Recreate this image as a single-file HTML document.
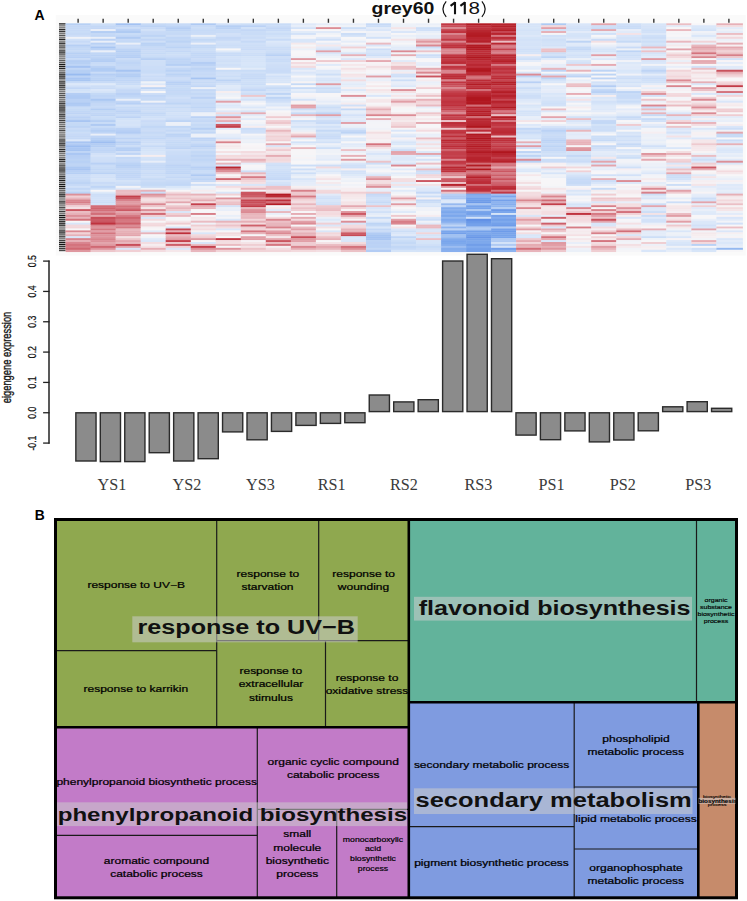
<!DOCTYPE html>
<html><head><meta charset="utf-8"><style>
html,body{margin:0;padding:0;background:#fff;}
body{width:747px;height:901px;overflow:hidden;font-family:"Liberation Sans",sans-serif;}
svg{display:block;}
</style></head><body>
<svg width="747" height="901" viewBox="0 0 747 901" font-family="Liberation Sans, sans-serif">
<rect width="747" height="901" fill="#fff"/>
<rect x="55.7" y="15" width="690" height="240.6" fill="#fafafa"/>
<text x="34.6" y="19.8" font-size="14" font-weight="bold" fill="#000">A</text>
<text x="34.8" y="519.6" font-size="13.8" font-weight="bold" fill="#000">B</text>
<text transform="translate(371.6,14.0) scale(1.15,1)" font-size="16.9" font-weight="bold" fill="#111">grey60</text>
<path d="M446.2,1.4 Q439.6,9.2 446.2,16.9" fill="none" stroke="#111" stroke-width="1.2"/><path d="M481.9,1.4 Q488.5,9.2 481.9,16.9" fill="none" stroke="#111" stroke-width="1.2"/><path d="M450.6,5.9 L455.2,2.4 M455.0,1.9 L455.0,14.3" fill="none" stroke="#111" stroke-width="2.1"/><path d="M460.4,5.9 L465.0,2.4 M464.8,1.9 L464.8,14.3" fill="none" stroke="#111" stroke-width="2.1"/><text transform="translate(468.5,14.3) scale(1.2,1)" font-size="17.2" fill="#111">8</text>
<line x1="78.11" y1="18.7" x2="78.11" y2="22.8" stroke="#333" stroke-width="1.4"/>
<line x1="103.14" y1="18.7" x2="103.14" y2="22.8" stroke="#333" stroke-width="1.4"/>
<line x1="128.18" y1="18.7" x2="128.18" y2="22.8" stroke="#333" stroke-width="1.4"/>
<line x1="153.20" y1="18.7" x2="153.20" y2="22.8" stroke="#333" stroke-width="1.4"/>
<line x1="178.24" y1="18.7" x2="178.24" y2="22.8" stroke="#333" stroke-width="1.4"/>
<line x1="203.27" y1="18.7" x2="203.27" y2="22.8" stroke="#333" stroke-width="1.4"/>
<line x1="228.29" y1="18.7" x2="228.29" y2="22.8" stroke="#333" stroke-width="1.4"/>
<line x1="253.33" y1="18.7" x2="253.33" y2="22.8" stroke="#333" stroke-width="1.4"/>
<line x1="278.36" y1="18.7" x2="278.36" y2="22.8" stroke="#333" stroke-width="1.4"/>
<line x1="303.38" y1="18.7" x2="303.38" y2="22.8" stroke="#333" stroke-width="1.4"/>
<line x1="328.41" y1="18.7" x2="328.41" y2="22.8" stroke="#333" stroke-width="1.4"/>
<line x1="353.45" y1="18.7" x2="353.45" y2="22.8" stroke="#333" stroke-width="1.4"/>
<line x1="378.48" y1="18.7" x2="378.48" y2="22.8" stroke="#333" stroke-width="1.4"/>
<line x1="403.50" y1="18.7" x2="403.50" y2="22.8" stroke="#333" stroke-width="1.4"/>
<line x1="428.53" y1="18.7" x2="428.53" y2="22.8" stroke="#333" stroke-width="1.4"/>
<line x1="453.57" y1="18.7" x2="453.57" y2="22.8" stroke="#333" stroke-width="1.4"/>
<line x1="478.60" y1="18.7" x2="478.60" y2="22.8" stroke="#333" stroke-width="1.4"/>
<line x1="503.62" y1="18.7" x2="503.62" y2="22.8" stroke="#333" stroke-width="1.4"/>
<line x1="528.65" y1="18.7" x2="528.65" y2="22.8" stroke="#333" stroke-width="1.4"/>
<line x1="553.69" y1="18.7" x2="553.69" y2="22.8" stroke="#333" stroke-width="1.4"/>
<line x1="578.72" y1="18.7" x2="578.72" y2="22.8" stroke="#333" stroke-width="1.4"/>
<line x1="603.75" y1="18.7" x2="603.75" y2="22.8" stroke="#333" stroke-width="1.4"/>
<line x1="628.78" y1="18.7" x2="628.78" y2="22.8" stroke="#333" stroke-width="1.4"/>
<line x1="653.81" y1="18.7" x2="653.81" y2="22.8" stroke="#333" stroke-width="1.4"/>
<line x1="678.84" y1="18.7" x2="678.84" y2="22.8" stroke="#333" stroke-width="1.4"/>
<line x1="703.87" y1="18.7" x2="703.87" y2="22.8" stroke="#333" stroke-width="1.4"/>
<line x1="728.90" y1="18.7" x2="728.90" y2="22.8" stroke="#333" stroke-width="1.4"/>
<rect x="59" y="23.3" width="6.6" height="228.4" fill="#c8c8c8"/>
<rect x="59" y="23.30" width="6.6" height="1.1" fill="#1a1a1a"/>
<rect x="59" y="25.24" width="6.6" height="1.1" fill="#777"/>
<rect x="59" y="27.17" width="6.6" height="1.1" fill="#777"/>
<rect x="59" y="29.11" width="6.6" height="1.1" fill="#1a1a1a"/>
<rect x="59" y="31.04" width="6.6" height="1.1" fill="#333"/>
<rect x="59" y="32.98" width="6.6" height="1.1" fill="#777"/>
<rect x="59" y="34.91" width="6.6" height="1.1" fill="#555"/>
<rect x="59" y="36.85" width="6.6" height="1.1" fill="#777"/>
<rect x="59" y="38.78" width="6.6" height="1.1" fill="#111"/>
<rect x="59" y="40.72" width="6.6" height="1.1" fill="#777"/>
<rect x="59" y="42.66" width="6.6" height="1.1" fill="#111"/>
<rect x="59" y="44.59" width="6.6" height="1.1" fill="#555"/>
<rect x="59" y="46.53" width="6.6" height="1.1" fill="#333"/>
<rect x="59" y="48.46" width="6.6" height="1.1" fill="#777"/>
<rect x="59" y="50.40" width="6.6" height="1.1" fill="#1a1a1a"/>
<rect x="59" y="52.33" width="6.6" height="1.1" fill="#1a1a1a"/>
<rect x="59" y="54.27" width="6.6" height="1.1" fill="#555"/>
<rect x="59" y="56.21" width="6.6" height="1.1" fill="#777"/>
<rect x="59" y="58.14" width="6.6" height="1.1" fill="#777"/>
<rect x="59" y="60.08" width="6.6" height="1.1" fill="#555"/>
<rect x="59" y="62.01" width="6.6" height="1.1" fill="#555"/>
<rect x="59" y="63.95" width="6.6" height="1.1" fill="#1a1a1a"/>
<rect x="59" y="65.88" width="6.6" height="1.1" fill="#1a1a1a"/>
<rect x="59" y="67.82" width="6.6" height="1.1" fill="#1a1a1a"/>
<rect x="59" y="69.75" width="6.6" height="1.1" fill="#777"/>
<rect x="59" y="71.69" width="6.6" height="1.1" fill="#555"/>
<rect x="59" y="73.63" width="6.6" height="1.1" fill="#111"/>
<rect x="59" y="75.56" width="6.6" height="1.1" fill="#111"/>
<rect x="59" y="77.50" width="6.6" height="1.1" fill="#1a1a1a"/>
<rect x="59" y="79.43" width="6.6" height="1.1" fill="#777"/>
<rect x="59" y="81.37" width="6.6" height="1.1" fill="#111"/>
<rect x="59" y="83.30" width="6.6" height="1.1" fill="#333"/>
<rect x="59" y="85.24" width="6.6" height="1.1" fill="#111"/>
<rect x="59" y="87.17" width="6.6" height="1.1" fill="#333"/>
<rect x="59" y="89.11" width="6.6" height="1.1" fill="#555"/>
<rect x="59" y="91.05" width="6.6" height="1.1" fill="#777"/>
<rect x="59" y="92.98" width="6.6" height="1.1" fill="#555"/>
<rect x="59" y="94.92" width="6.6" height="1.1" fill="#555"/>
<rect x="59" y="96.85" width="6.6" height="1.1" fill="#555"/>
<rect x="59" y="98.79" width="6.6" height="1.1" fill="#777"/>
<rect x="59" y="100.72" width="6.6" height="1.1" fill="#555"/>
<rect x="59" y="102.66" width="6.6" height="1.1" fill="#1a1a1a"/>
<rect x="59" y="104.59" width="6.6" height="1.1" fill="#333"/>
<rect x="59" y="106.53" width="6.6" height="1.1" fill="#111"/>
<rect x="59" y="108.47" width="6.6" height="1.1" fill="#111"/>
<rect x="59" y="110.40" width="6.6" height="1.1" fill="#1a1a1a"/>
<rect x="59" y="112.34" width="6.6" height="1.1" fill="#555"/>
<rect x="59" y="114.27" width="6.6" height="1.1" fill="#1a1a1a"/>
<rect x="59" y="116.21" width="6.6" height="1.1" fill="#333"/>
<rect x="59" y="118.14" width="6.6" height="1.1" fill="#555"/>
<rect x="59" y="120.08" width="6.6" height="1.1" fill="#333"/>
<rect x="59" y="122.02" width="6.6" height="1.1" fill="#555"/>
<rect x="59" y="123.95" width="6.6" height="1.1" fill="#777"/>
<rect x="59" y="125.89" width="6.6" height="1.1" fill="#555"/>
<rect x="59" y="127.82" width="6.6" height="1.1" fill="#777"/>
<rect x="59" y="129.76" width="6.6" height="1.1" fill="#333"/>
<rect x="59" y="131.69" width="6.6" height="1.1" fill="#777"/>
<rect x="59" y="133.63" width="6.6" height="1.1" fill="#777"/>
<rect x="59" y="135.56" width="6.6" height="1.1" fill="#555"/>
<rect x="59" y="137.50" width="6.6" height="1.1" fill="#777"/>
<rect x="59" y="139.44" width="6.6" height="1.1" fill="#1a1a1a"/>
<rect x="59" y="141.37" width="6.6" height="1.1" fill="#333"/>
<rect x="59" y="143.31" width="6.6" height="1.1" fill="#111"/>
<rect x="59" y="145.24" width="6.6" height="1.1" fill="#333"/>
<rect x="59" y="147.18" width="6.6" height="1.1" fill="#777"/>
<rect x="59" y="149.11" width="6.6" height="1.1" fill="#1a1a1a"/>
<rect x="59" y="151.05" width="6.6" height="1.1" fill="#333"/>
<rect x="59" y="152.98" width="6.6" height="1.1" fill="#777"/>
<rect x="59" y="154.92" width="6.6" height="1.1" fill="#777"/>
<rect x="59" y="156.86" width="6.6" height="1.1" fill="#777"/>
<rect x="59" y="158.79" width="6.6" height="1.1" fill="#111"/>
<rect x="59" y="160.73" width="6.6" height="1.1" fill="#1a1a1a"/>
<rect x="59" y="162.66" width="6.6" height="1.1" fill="#777"/>
<rect x="59" y="164.60" width="6.6" height="1.1" fill="#333"/>
<rect x="59" y="166.53" width="6.6" height="1.1" fill="#333"/>
<rect x="59" y="168.47" width="6.6" height="1.1" fill="#111"/>
<rect x="59" y="170.41" width="6.6" height="1.1" fill="#111"/>
<rect x="59" y="172.34" width="6.6" height="1.1" fill="#555"/>
<rect x="59" y="174.28" width="6.6" height="1.1" fill="#555"/>
<rect x="59" y="176.21" width="6.6" height="1.1" fill="#111"/>
<rect x="59" y="178.15" width="6.6" height="1.1" fill="#333"/>
<rect x="59" y="180.08" width="6.6" height="1.1" fill="#111"/>
<rect x="59" y="182.02" width="6.6" height="1.1" fill="#555"/>
<rect x="59" y="183.95" width="6.6" height="1.1" fill="#1a1a1a"/>
<rect x="59" y="185.89" width="6.6" height="1.1" fill="#111"/>
<rect x="59" y="187.83" width="6.6" height="1.1" fill="#333"/>
<rect x="59" y="189.76" width="6.6" height="1.1" fill="#555"/>
<rect x="59" y="191.70" width="6.6" height="1.1" fill="#555"/>
<rect x="59" y="193.63" width="6.6" height="1.1" fill="#111"/>
<rect x="59" y="195.57" width="6.6" height="1.1" fill="#111"/>
<rect x="59" y="197.50" width="6.6" height="1.1" fill="#777"/>
<rect x="59" y="199.44" width="6.6" height="1.1" fill="#777"/>
<rect x="59" y="201.37" width="6.6" height="1.1" fill="#111"/>
<rect x="59" y="203.31" width="6.6" height="1.1" fill="#555"/>
<rect x="59" y="205.25" width="6.6" height="1.1" fill="#777"/>
<rect x="59" y="207.18" width="6.6" height="1.1" fill="#333"/>
<rect x="59" y="209.12" width="6.6" height="1.1" fill="#777"/>
<rect x="59" y="211.05" width="6.6" height="1.1" fill="#333"/>
<rect x="59" y="212.99" width="6.6" height="1.1" fill="#777"/>
<rect x="59" y="214.92" width="6.6" height="1.1" fill="#1a1a1a"/>
<rect x="59" y="216.86" width="6.6" height="1.1" fill="#111"/>
<rect x="59" y="218.79" width="6.6" height="1.1" fill="#333"/>
<rect x="59" y="220.73" width="6.6" height="1.1" fill="#111"/>
<rect x="59" y="222.67" width="6.6" height="1.1" fill="#111"/>
<rect x="59" y="224.60" width="6.6" height="1.1" fill="#111"/>
<rect x="59" y="226.54" width="6.6" height="1.1" fill="#777"/>
<rect x="59" y="228.47" width="6.6" height="1.1" fill="#777"/>
<rect x="59" y="230.41" width="6.6" height="1.1" fill="#111"/>
<rect x="59" y="232.34" width="6.6" height="1.1" fill="#1a1a1a"/>
<rect x="59" y="234.28" width="6.6" height="1.1" fill="#555"/>
<rect x="59" y="236.22" width="6.6" height="1.1" fill="#333"/>
<rect x="59" y="238.15" width="6.6" height="1.1" fill="#777"/>
<rect x="59" y="240.09" width="6.6" height="1.1" fill="#333"/>
<rect x="59" y="242.02" width="6.6" height="1.1" fill="#1a1a1a"/>
<rect x="59" y="243.96" width="6.6" height="1.1" fill="#111"/>
<rect x="59" y="245.89" width="6.6" height="1.1" fill="#333"/>
<rect x="59" y="247.83" width="6.6" height="1.1" fill="#333"/>
<rect x="59" y="249.76" width="6.6" height="1.1" fill="#333"/>
<rect x="65.6" y="23.30" width="25.3" height="2.29" fill="#b7d0f4"/>
<rect x="65.6" y="25.24" width="25.3" height="2.29" fill="#c4d8f6"/>
<rect x="65.6" y="27.17" width="25.3" height="2.29" fill="#c5d9f6"/>
<rect x="65.6" y="29.11" width="25.3" height="2.29" fill="#c7daf7"/>
<rect x="65.6" y="31.04" width="25.3" height="2.29" fill="#c9dcf7"/>
<rect x="65.6" y="32.98" width="25.3" height="2.29" fill="#c6daf6"/>
<rect x="65.6" y="34.91" width="25.3" height="2.29" fill="#ccddf7"/>
<rect x="65.6" y="36.85" width="25.3" height="2.29" fill="#f0f2f8"/>
<rect x="65.6" y="38.78" width="25.3" height="2.29" fill="#d1e1f8"/>
<rect x="65.6" y="40.72" width="25.3" height="2.29" fill="#c7daf7"/>
<rect x="65.6" y="42.66" width="25.3" height="2.29" fill="#d0e0f8"/>
<rect x="65.6" y="44.59" width="25.3" height="2.29" fill="#b6cff4"/>
<rect x="65.6" y="46.53" width="25.3" height="2.29" fill="#c2d7f6"/>
<rect x="65.6" y="48.46" width="25.3" height="2.29" fill="#c3d8f6"/>
<rect x="65.6" y="50.40" width="25.3" height="2.29" fill="#c6daf6"/>
<rect x="65.6" y="52.33" width="25.3" height="2.29" fill="#b7d0f4"/>
<rect x="65.6" y="54.27" width="25.3" height="2.29" fill="#bcd3f5"/>
<rect x="65.6" y="56.21" width="25.3" height="2.29" fill="#b8d0f5"/>
<rect x="65.6" y="58.14" width="25.3" height="2.29" fill="#c7daf7"/>
<rect x="65.6" y="60.08" width="25.3" height="2.29" fill="#b5cef4"/>
<rect x="65.6" y="62.01" width="25.3" height="2.29" fill="#b7d0f4"/>
<rect x="65.6" y="63.95" width="25.3" height="2.29" fill="#bfd5f6"/>
<rect x="65.6" y="65.88" width="25.3" height="2.29" fill="#a5c3f2"/>
<rect x="65.6" y="67.82" width="25.3" height="2.29" fill="#c2d7f6"/>
<rect x="65.6" y="69.75" width="25.3" height="2.29" fill="#b6cff4"/>
<rect x="65.6" y="71.69" width="25.3" height="2.29" fill="#b6cff4"/>
<rect x="65.6" y="73.63" width="25.3" height="2.29" fill="#98bbf0"/>
<rect x="65.6" y="75.56" width="25.3" height="2.29" fill="#bcd3f5"/>
<rect x="65.6" y="77.50" width="25.3" height="2.29" fill="#a9c6f3"/>
<rect x="65.6" y="79.43" width="25.3" height="2.29" fill="#a8c6f2"/>
<rect x="65.6" y="81.37" width="25.3" height="2.29" fill="#c8dbf7"/>
<rect x="65.6" y="83.30" width="25.3" height="2.29" fill="#dce8f9"/>
<rect x="65.6" y="85.24" width="25.3" height="2.29" fill="#cfe0f8"/>
<rect x="65.6" y="87.17" width="25.3" height="2.29" fill="#c2d7f6"/>
<rect x="65.6" y="89.11" width="25.3" height="2.29" fill="#d2e2f8"/>
<rect x="65.6" y="91.05" width="25.3" height="2.29" fill="#d6e4f8"/>
<rect x="65.6" y="92.98" width="25.3" height="2.29" fill="#b5cef4"/>
<rect x="65.6" y="94.92" width="25.3" height="2.29" fill="#b0cbf4"/>
<rect x="65.6" y="96.85" width="25.3" height="2.29" fill="#afcaf3"/>
<rect x="65.6" y="98.79" width="25.3" height="2.29" fill="#bad1f5"/>
<rect x="65.6" y="100.72" width="25.3" height="2.29" fill="#b9d1f5"/>
<rect x="65.6" y="102.66" width="25.3" height="2.29" fill="#adc9f3"/>
<rect x="65.6" y="104.59" width="25.3" height="2.29" fill="#b1ccf4"/>
<rect x="65.6" y="106.53" width="25.3" height="2.29" fill="#c9dcf7"/>
<rect x="65.6" y="108.47" width="25.3" height="2.29" fill="#c6daf6"/>
<rect x="65.6" y="110.40" width="25.3" height="2.29" fill="#c1d7f6"/>
<rect x="65.6" y="112.34" width="25.3" height="2.29" fill="#bed4f5"/>
<rect x="65.6" y="114.27" width="25.3" height="2.29" fill="#c6daf6"/>
<rect x="65.6" y="116.21" width="25.3" height="2.29" fill="#bbd2f5"/>
<rect x="65.6" y="118.14" width="25.3" height="2.29" fill="#bed4f5"/>
<rect x="65.6" y="120.08" width="25.3" height="2.29" fill="#a8c5f2"/>
<rect x="65.6" y="122.02" width="25.3" height="2.29" fill="#c6daf6"/>
<rect x="65.6" y="123.95" width="25.3" height="2.29" fill="#c4d9f6"/>
<rect x="65.6" y="125.89" width="25.3" height="2.29" fill="#bdd4f5"/>
<rect x="65.6" y="127.82" width="25.3" height="2.29" fill="#cadcf7"/>
<rect x="65.6" y="129.76" width="25.3" height="2.29" fill="#c4d9f6"/>
<rect x="65.6" y="131.69" width="25.3" height="2.29" fill="#ccdef7"/>
<rect x="65.6" y="133.63" width="25.3" height="2.29" fill="#c7daf7"/>
<rect x="65.6" y="135.56" width="25.3" height="2.29" fill="#c4d8f6"/>
<rect x="65.6" y="137.50" width="25.3" height="2.29" fill="#c5d9f6"/>
<rect x="65.6" y="139.44" width="25.3" height="2.29" fill="#dce8f9"/>
<rect x="65.6" y="141.37" width="25.3" height="2.29" fill="#a8c5f2"/>
<rect x="65.6" y="143.31" width="25.3" height="2.29" fill="#b1cbf4"/>
<rect x="65.6" y="145.24" width="25.3" height="2.29" fill="#9dbef1"/>
<rect x="65.6" y="147.18" width="25.3" height="2.29" fill="#a9c6f3"/>
<rect x="65.6" y="149.11" width="25.3" height="2.29" fill="#a6c4f2"/>
<rect x="65.6" y="151.05" width="25.3" height="2.29" fill="#bfd5f6"/>
<rect x="65.6" y="152.98" width="25.3" height="2.29" fill="#aac7f3"/>
<rect x="65.6" y="154.92" width="25.3" height="2.29" fill="#b7cff4"/>
<rect x="65.6" y="156.86" width="25.3" height="2.29" fill="#b8d0f5"/>
<rect x="65.6" y="158.79" width="25.3" height="2.29" fill="#bcd3f5"/>
<rect x="65.6" y="160.73" width="25.3" height="2.29" fill="#b8d1f5"/>
<rect x="65.6" y="162.66" width="25.3" height="2.29" fill="#bdd4f5"/>
<rect x="65.6" y="164.60" width="25.3" height="2.29" fill="#bed4f5"/>
<rect x="65.6" y="166.53" width="25.3" height="2.29" fill="#adc9f3"/>
<rect x="65.6" y="168.47" width="25.3" height="2.29" fill="#a8c5f2"/>
<rect x="65.6" y="170.41" width="25.3" height="2.29" fill="#b8d0f5"/>
<rect x="65.6" y="172.34" width="25.3" height="2.29" fill="#b6cff4"/>
<rect x="65.6" y="174.28" width="25.3" height="2.29" fill="#cadcf7"/>
<rect x="65.6" y="176.21" width="25.3" height="2.29" fill="#c8dbf7"/>
<rect x="65.6" y="178.15" width="25.3" height="2.29" fill="#c8dbf7"/>
<rect x="65.6" y="180.08" width="25.3" height="2.29" fill="#c3d8f6"/>
<rect x="65.6" y="182.02" width="25.3" height="2.29" fill="#bdd4f5"/>
<rect x="65.6" y="183.95" width="25.3" height="2.29" fill="#c6d9f6"/>
<rect x="65.6" y="185.89" width="25.3" height="2.29" fill="#d1e1f8"/>
<rect x="65.6" y="187.83" width="25.3" height="2.29" fill="#c2d7f6"/>
<rect x="65.6" y="189.76" width="25.3" height="2.29" fill="#cddef7"/>
<rect x="65.6" y="191.70" width="25.3" height="2.29" fill="#bbd3f5"/>
<rect x="65.6" y="193.63" width="25.3" height="2.29" fill="#dc9098"/>
<rect x="65.6" y="195.57" width="25.3" height="2.29" fill="#f0cfd4"/>
<rect x="65.6" y="197.50" width="25.3" height="2.29" fill="#e8b6bd"/>
<rect x="65.6" y="199.44" width="25.3" height="2.29" fill="#d9868f"/>
<rect x="65.6" y="201.37" width="25.3" height="2.29" fill="#d77e88"/>
<rect x="65.6" y="203.31" width="25.3" height="2.29" fill="#e1a0a8"/>
<rect x="65.6" y="205.25" width="25.3" height="2.29" fill="#f0d0d5"/>
<rect x="65.6" y="207.18" width="25.3" height="2.29" fill="#f3dfe3"/>
<rect x="65.6" y="209.12" width="25.3" height="2.29" fill="#cb5762"/>
<rect x="65.6" y="211.05" width="25.3" height="2.29" fill="#eabdc3"/>
<rect x="65.6" y="212.99" width="25.3" height="2.29" fill="#e7b2b9"/>
<rect x="65.6" y="214.92" width="25.3" height="2.29" fill="#dc8f98"/>
<rect x="65.6" y="216.86" width="25.3" height="2.29" fill="#e7b2b9"/>
<rect x="65.6" y="218.79" width="25.3" height="2.29" fill="#d3737c"/>
<rect x="65.6" y="220.73" width="25.3" height="2.29" fill="#f7f6f8"/>
<rect x="65.6" y="222.67" width="25.3" height="2.29" fill="#d9e6f9"/>
<rect x="65.6" y="224.60" width="25.3" height="2.29" fill="#f2d8dc"/>
<rect x="65.6" y="226.54" width="25.3" height="2.29" fill="#f2d6da"/>
<rect x="65.6" y="228.47" width="25.3" height="2.29" fill="#f7f6f8"/>
<rect x="65.6" y="230.41" width="25.3" height="2.29" fill="#da8992"/>
<rect x="65.6" y="232.34" width="25.3" height="2.29" fill="#f1d3d7"/>
<rect x="65.6" y="234.28" width="25.3" height="2.29" fill="#e6b0b7"/>
<rect x="65.6" y="236.22" width="25.3" height="2.29" fill="#d9e6f9"/>
<rect x="65.6" y="238.15" width="25.3" height="2.29" fill="#d8838c"/>
<rect x="65.6" y="240.09" width="25.3" height="2.29" fill="#e6aeb5"/>
<rect x="65.6" y="242.02" width="25.3" height="2.29" fill="#d9858f"/>
<rect x="65.6" y="243.96" width="25.3" height="2.29" fill="#d4737d"/>
<rect x="65.6" y="245.89" width="25.3" height="2.29" fill="#d77d86"/>
<rect x="65.6" y="247.83" width="25.3" height="2.29" fill="#d06872"/>
<rect x="65.6" y="249.76" width="25.3" height="2.29" fill="#df979f"/>
<rect x="90.6" y="23.30" width="25.3" height="2.29" fill="#ccdef7"/>
<rect x="90.6" y="25.24" width="25.3" height="2.29" fill="#c3d8f6"/>
<rect x="90.6" y="27.17" width="25.3" height="2.29" fill="#c3d7f6"/>
<rect x="90.6" y="29.11" width="25.3" height="2.29" fill="#eaeff8"/>
<rect x="90.6" y="31.04" width="25.3" height="2.29" fill="#b4cef4"/>
<rect x="90.6" y="32.98" width="25.3" height="2.29" fill="#c5d9f6"/>
<rect x="90.6" y="34.91" width="25.3" height="2.29" fill="#c2d7f6"/>
<rect x="90.6" y="36.85" width="25.3" height="2.29" fill="#eaeff8"/>
<rect x="90.6" y="38.78" width="25.3" height="2.29" fill="#bbd2f5"/>
<rect x="90.6" y="40.72" width="25.3" height="2.29" fill="#eaeff8"/>
<rect x="90.6" y="42.66" width="25.3" height="2.29" fill="#b9d1f5"/>
<rect x="90.6" y="44.59" width="25.3" height="2.29" fill="#c7daf7"/>
<rect x="90.6" y="46.53" width="25.3" height="2.29" fill="#a9c6f2"/>
<rect x="90.6" y="48.46" width="25.3" height="2.29" fill="#bbd2f5"/>
<rect x="90.6" y="50.40" width="25.3" height="2.29" fill="#eaeff8"/>
<rect x="90.6" y="52.33" width="25.3" height="2.29" fill="#c0d6f6"/>
<rect x="90.6" y="54.27" width="25.3" height="2.29" fill="#bbd2f5"/>
<rect x="90.6" y="56.21" width="25.3" height="2.29" fill="#bed4f5"/>
<rect x="90.6" y="58.14" width="25.3" height="2.29" fill="#b6cff4"/>
<rect x="90.6" y="60.08" width="25.3" height="2.29" fill="#b3cdf4"/>
<rect x="90.6" y="62.01" width="25.3" height="2.29" fill="#c8dbf7"/>
<rect x="90.6" y="63.95" width="25.3" height="2.29" fill="#cbddf7"/>
<rect x="90.6" y="65.88" width="25.3" height="2.29" fill="#bbd2f5"/>
<rect x="90.6" y="67.82" width="25.3" height="2.29" fill="#b1ccf4"/>
<rect x="90.6" y="69.75" width="25.3" height="2.29" fill="#b1ccf4"/>
<rect x="90.6" y="71.69" width="25.3" height="2.29" fill="#cadcf7"/>
<rect x="90.6" y="73.63" width="25.3" height="2.29" fill="#b5cef4"/>
<rect x="90.6" y="75.56" width="25.3" height="2.29" fill="#bed4f5"/>
<rect x="90.6" y="77.50" width="25.3" height="2.29" fill="#bcd3f5"/>
<rect x="90.6" y="79.43" width="25.3" height="2.29" fill="#b7d0f4"/>
<rect x="90.6" y="81.37" width="25.3" height="2.29" fill="#c8dbf7"/>
<rect x="90.6" y="83.30" width="25.3" height="2.29" fill="#dfeaf9"/>
<rect x="90.6" y="85.24" width="25.3" height="2.29" fill="#cddef7"/>
<rect x="90.6" y="87.17" width="25.3" height="2.29" fill="#cadcf7"/>
<rect x="90.6" y="89.11" width="25.3" height="2.29" fill="#dbe7f9"/>
<rect x="90.6" y="91.05" width="25.3" height="2.29" fill="#d4e3f8"/>
<rect x="90.6" y="92.98" width="25.3" height="2.29" fill="#c5d9f6"/>
<rect x="90.6" y="94.92" width="25.3" height="2.29" fill="#bfd5f6"/>
<rect x="90.6" y="96.85" width="25.3" height="2.29" fill="#c2d7f6"/>
<rect x="90.6" y="98.79" width="25.3" height="2.29" fill="#aac7f3"/>
<rect x="90.6" y="100.72" width="25.3" height="2.29" fill="#bcd3f5"/>
<rect x="90.6" y="102.66" width="25.3" height="2.29" fill="#c4d8f6"/>
<rect x="90.6" y="104.59" width="25.3" height="2.29" fill="#c5d9f6"/>
<rect x="90.6" y="106.53" width="25.3" height="2.29" fill="#c7daf7"/>
<rect x="90.6" y="108.47" width="25.3" height="2.29" fill="#b4cef4"/>
<rect x="90.6" y="110.40" width="25.3" height="2.29" fill="#c4d9f6"/>
<rect x="90.6" y="112.34" width="25.3" height="2.29" fill="#c1d6f6"/>
<rect x="90.6" y="114.27" width="25.3" height="2.29" fill="#bed4f5"/>
<rect x="90.6" y="116.21" width="25.3" height="2.29" fill="#cbddf7"/>
<rect x="90.6" y="118.14" width="25.3" height="2.29" fill="#c6daf6"/>
<rect x="90.6" y="120.08" width="25.3" height="2.29" fill="#b6cff4"/>
<rect x="90.6" y="122.02" width="25.3" height="2.29" fill="#c9dcf7"/>
<rect x="90.6" y="123.95" width="25.3" height="2.29" fill="#afcaf3"/>
<rect x="90.6" y="125.89" width="25.3" height="2.29" fill="#c9dcf7"/>
<rect x="90.6" y="127.82" width="25.3" height="2.29" fill="#bfd5f6"/>
<rect x="90.6" y="129.76" width="25.3" height="2.29" fill="#b6cff4"/>
<rect x="90.6" y="131.69" width="25.3" height="2.29" fill="#bfd5f6"/>
<rect x="90.6" y="133.63" width="25.3" height="2.29" fill="#eaeff8"/>
<rect x="90.6" y="135.56" width="25.3" height="2.29" fill="#c0d5f6"/>
<rect x="90.6" y="137.50" width="25.3" height="2.29" fill="#b6cff4"/>
<rect x="90.6" y="139.44" width="25.3" height="2.29" fill="#b1ccf4"/>
<rect x="90.6" y="141.37" width="25.3" height="2.29" fill="#9ebef1"/>
<rect x="90.6" y="143.31" width="25.3" height="2.29" fill="#b3cdf4"/>
<rect x="90.6" y="145.24" width="25.3" height="2.29" fill="#b5cef4"/>
<rect x="90.6" y="147.18" width="25.3" height="2.29" fill="#c2d7f6"/>
<rect x="90.6" y="149.11" width="25.3" height="2.29" fill="#bfd5f6"/>
<rect x="90.6" y="151.05" width="25.3" height="2.29" fill="#c3d8f6"/>
<rect x="90.6" y="152.98" width="25.3" height="2.29" fill="#d2e1f8"/>
<rect x="90.6" y="154.92" width="25.3" height="2.29" fill="#d7e4f8"/>
<rect x="90.6" y="156.86" width="25.3" height="2.29" fill="#cfe0f8"/>
<rect x="90.6" y="158.79" width="25.3" height="2.29" fill="#cedff7"/>
<rect x="90.6" y="160.73" width="25.3" height="2.29" fill="#cddef7"/>
<rect x="90.6" y="162.66" width="25.3" height="2.29" fill="#b9d1f5"/>
<rect x="90.6" y="164.60" width="25.3" height="2.29" fill="#c9dcf7"/>
<rect x="90.6" y="166.53" width="25.3" height="2.29" fill="#c8dbf7"/>
<rect x="90.6" y="168.47" width="25.3" height="2.29" fill="#c2d7f6"/>
<rect x="90.6" y="170.41" width="25.3" height="2.29" fill="#c6daf6"/>
<rect x="90.6" y="172.34" width="25.3" height="2.29" fill="#bad2f5"/>
<rect x="90.6" y="174.28" width="25.3" height="2.29" fill="#d3e2f8"/>
<rect x="90.6" y="176.21" width="25.3" height="2.29" fill="#d1e1f8"/>
<rect x="90.6" y="178.15" width="25.3" height="2.29" fill="#d7e5f8"/>
<rect x="90.6" y="180.08" width="25.3" height="2.29" fill="#d4e3f8"/>
<rect x="90.6" y="182.02" width="25.3" height="2.29" fill="#c9dbf7"/>
<rect x="90.6" y="183.95" width="25.3" height="2.29" fill="#cedff7"/>
<rect x="90.6" y="185.89" width="25.3" height="2.29" fill="#bfd5f6"/>
<rect x="90.6" y="187.83" width="25.3" height="2.29" fill="#ccdef7"/>
<rect x="90.6" y="189.76" width="25.3" height="2.29" fill="#f7f6f8"/>
<rect x="90.6" y="191.70" width="25.3" height="2.29" fill="#dde9f9"/>
<rect x="90.6" y="193.63" width="25.3" height="2.29" fill="#cddef7"/>
<rect x="90.6" y="195.57" width="25.3" height="2.29" fill="#cfdff7"/>
<rect x="90.6" y="197.50" width="25.3" height="2.29" fill="#d2e1f8"/>
<rect x="90.6" y="199.44" width="25.3" height="2.29" fill="#d0e0f8"/>
<rect x="90.6" y="201.37" width="25.3" height="2.29" fill="#ccdef7"/>
<rect x="90.6" y="203.31" width="25.3" height="2.29" fill="#d3e2f8"/>
<rect x="90.6" y="205.25" width="25.3" height="2.29" fill="#d26c77"/>
<rect x="90.6" y="207.18" width="25.3" height="2.29" fill="#cf646e"/>
<rect x="90.6" y="209.12" width="25.3" height="2.29" fill="#d3707a"/>
<rect x="90.6" y="211.05" width="25.3" height="2.29" fill="#db8a93"/>
<rect x="90.6" y="212.99" width="25.3" height="2.29" fill="#d26e78"/>
<rect x="90.6" y="214.92" width="25.3" height="2.29" fill="#e3a5ac"/>
<rect x="90.6" y="216.86" width="25.3" height="2.29" fill="#c84e59"/>
<rect x="90.6" y="218.79" width="25.3" height="2.29" fill="#cc5b66"/>
<rect x="90.6" y="220.73" width="25.3" height="2.29" fill="#ca5661"/>
<rect x="90.6" y="222.67" width="25.3" height="2.29" fill="#bf323e"/>
<rect x="90.6" y="224.60" width="25.3" height="2.29" fill="#d8838c"/>
<rect x="90.6" y="226.54" width="25.3" height="2.29" fill="#de949c"/>
<rect x="90.6" y="228.47" width="25.3" height="2.29" fill="#d57881"/>
<rect x="90.6" y="230.41" width="25.3" height="2.29" fill="#e19da6"/>
<rect x="90.6" y="232.34" width="25.3" height="2.29" fill="#d47680"/>
<rect x="90.6" y="234.28" width="25.3" height="2.29" fill="#dd939c"/>
<rect x="90.6" y="236.22" width="25.3" height="2.29" fill="#dd929b"/>
<rect x="90.6" y="238.15" width="25.3" height="2.29" fill="#d9848d"/>
<rect x="90.6" y="240.09" width="25.3" height="2.29" fill="#dc9099"/>
<rect x="90.6" y="242.02" width="25.3" height="2.29" fill="#e3a5ac"/>
<rect x="90.6" y="243.96" width="25.3" height="2.29" fill="#e09ba3"/>
<rect x="90.6" y="245.89" width="25.3" height="2.29" fill="#d06973"/>
<rect x="90.6" y="247.83" width="25.3" height="2.29" fill="#dd929b"/>
<rect x="90.6" y="249.76" width="25.3" height="2.29" fill="#edc6cb"/>
<rect x="115.7" y="23.30" width="25.3" height="2.29" fill="#a3c2f2"/>
<rect x="115.7" y="25.24" width="25.3" height="2.29" fill="#c1d6f6"/>
<rect x="115.7" y="27.17" width="25.3" height="2.29" fill="#cadcf7"/>
<rect x="115.7" y="29.11" width="25.3" height="2.29" fill="#b9d1f5"/>
<rect x="115.7" y="31.04" width="25.3" height="2.29" fill="#afcaf3"/>
<rect x="115.7" y="32.98" width="25.3" height="2.29" fill="#c9dcf7"/>
<rect x="115.7" y="34.91" width="25.3" height="2.29" fill="#c3d8f6"/>
<rect x="115.7" y="36.85" width="25.3" height="2.29" fill="#b0cbf3"/>
<rect x="115.7" y="38.78" width="25.3" height="2.29" fill="#c7daf7"/>
<rect x="115.7" y="40.72" width="25.3" height="2.29" fill="#c4d9f6"/>
<rect x="115.7" y="42.66" width="25.3" height="2.29" fill="#eaeff8"/>
<rect x="115.7" y="44.59" width="25.3" height="2.29" fill="#c9dbf7"/>
<rect x="115.7" y="46.53" width="25.3" height="2.29" fill="#cadcf7"/>
<rect x="115.7" y="48.46" width="25.3" height="2.29" fill="#bdd3f5"/>
<rect x="115.7" y="50.40" width="25.3" height="2.29" fill="#b6cff4"/>
<rect x="115.7" y="52.33" width="25.3" height="2.29" fill="#bcd3f5"/>
<rect x="115.7" y="54.27" width="25.3" height="2.29" fill="#b7d0f5"/>
<rect x="115.7" y="56.21" width="25.3" height="2.29" fill="#b5cef4"/>
<rect x="115.7" y="58.14" width="25.3" height="2.29" fill="#cadcf7"/>
<rect x="115.7" y="60.08" width="25.3" height="2.29" fill="#c3d8f6"/>
<rect x="115.7" y="62.01" width="25.3" height="2.29" fill="#bfd5f6"/>
<rect x="115.7" y="63.95" width="25.3" height="2.29" fill="#c3d8f6"/>
<rect x="115.7" y="65.88" width="25.3" height="2.29" fill="#c6d9f6"/>
<rect x="115.7" y="67.82" width="25.3" height="2.29" fill="#c5d9f6"/>
<rect x="115.7" y="69.75" width="25.3" height="2.29" fill="#a6c4f2"/>
<rect x="115.7" y="71.69" width="25.3" height="2.29" fill="#c1d6f6"/>
<rect x="115.7" y="73.63" width="25.3" height="2.29" fill="#b5cef4"/>
<rect x="115.7" y="75.56" width="25.3" height="2.29" fill="#b3cdf4"/>
<rect x="115.7" y="77.50" width="25.3" height="2.29" fill="#c2d7f6"/>
<rect x="115.7" y="79.43" width="25.3" height="2.29" fill="#bfd5f6"/>
<rect x="115.7" y="81.37" width="25.3" height="2.29" fill="#c5d9f6"/>
<rect x="115.7" y="83.30" width="25.3" height="2.29" fill="#c9dcf7"/>
<rect x="115.7" y="85.24" width="25.3" height="2.29" fill="#d6e4f8"/>
<rect x="115.7" y="87.17" width="25.3" height="2.29" fill="#cedff7"/>
<rect x="115.7" y="89.11" width="25.3" height="2.29" fill="#c4d8f6"/>
<rect x="115.7" y="91.05" width="25.3" height="2.29" fill="#c5d9f6"/>
<rect x="115.7" y="92.98" width="25.3" height="2.29" fill="#bad1f5"/>
<rect x="115.7" y="94.92" width="25.3" height="2.29" fill="#bfd5f6"/>
<rect x="115.7" y="96.85" width="25.3" height="2.29" fill="#c6daf7"/>
<rect x="115.7" y="98.79" width="25.3" height="2.29" fill="#eaeff8"/>
<rect x="115.7" y="100.72" width="25.3" height="2.29" fill="#c2d7f6"/>
<rect x="115.7" y="102.66" width="25.3" height="2.29" fill="#b7d0f5"/>
<rect x="115.7" y="104.59" width="25.3" height="2.29" fill="#d3e2f8"/>
<rect x="115.7" y="106.53" width="25.3" height="2.29" fill="#c7dbf7"/>
<rect x="115.7" y="108.47" width="25.3" height="2.29" fill="#c7daf7"/>
<rect x="115.7" y="110.40" width="25.3" height="2.29" fill="#bcd3f5"/>
<rect x="115.7" y="112.34" width="25.3" height="2.29" fill="#c2d7f6"/>
<rect x="115.7" y="114.27" width="25.3" height="2.29" fill="#c9dcf7"/>
<rect x="115.7" y="116.21" width="25.3" height="2.29" fill="#bdd3f5"/>
<rect x="115.7" y="118.14" width="25.3" height="2.29" fill="#d2e2f8"/>
<rect x="115.7" y="120.08" width="25.3" height="2.29" fill="#d5e4f8"/>
<rect x="115.7" y="122.02" width="25.3" height="2.29" fill="#d4e3f8"/>
<rect x="115.7" y="123.95" width="25.3" height="2.29" fill="#d6e4f8"/>
<rect x="115.7" y="125.89" width="25.3" height="2.29" fill="#d1e1f8"/>
<rect x="115.7" y="127.82" width="25.3" height="2.29" fill="#bcd3f5"/>
<rect x="115.7" y="129.76" width="25.3" height="2.29" fill="#b8d0f5"/>
<rect x="115.7" y="131.69" width="25.3" height="2.29" fill="#b2ccf4"/>
<rect x="115.7" y="133.63" width="25.3" height="2.29" fill="#c7daf7"/>
<rect x="115.7" y="135.56" width="25.3" height="2.29" fill="#cbddf7"/>
<rect x="115.7" y="137.50" width="25.3" height="2.29" fill="#bdd3f5"/>
<rect x="115.7" y="139.44" width="25.3" height="2.29" fill="#cadcf7"/>
<rect x="115.7" y="141.37" width="25.3" height="2.29" fill="#b6cff4"/>
<rect x="115.7" y="143.31" width="25.3" height="2.29" fill="#c0d5f6"/>
<rect x="115.7" y="145.24" width="25.3" height="2.29" fill="#cbddf7"/>
<rect x="115.7" y="147.18" width="25.3" height="2.29" fill="#b6cff4"/>
<rect x="115.7" y="149.11" width="25.3" height="2.29" fill="#b5cef4"/>
<rect x="115.7" y="151.05" width="25.3" height="2.29" fill="#cfdff7"/>
<rect x="115.7" y="152.98" width="25.3" height="2.29" fill="#bfd5f6"/>
<rect x="115.7" y="154.92" width="25.3" height="2.29" fill="#eaeff8"/>
<rect x="115.7" y="156.86" width="25.3" height="2.29" fill="#c4d8f6"/>
<rect x="115.7" y="158.79" width="25.3" height="2.29" fill="#c8dbf7"/>
<rect x="115.7" y="160.73" width="25.3" height="2.29" fill="#c6daf7"/>
<rect x="115.7" y="162.66" width="25.3" height="2.29" fill="#bcd3f5"/>
<rect x="115.7" y="164.60" width="25.3" height="2.29" fill="#b6cff4"/>
<rect x="115.7" y="166.53" width="25.3" height="2.29" fill="#bbd2f5"/>
<rect x="115.7" y="168.47" width="25.3" height="2.29" fill="#c3d7f6"/>
<rect x="115.7" y="170.41" width="25.3" height="2.29" fill="#c3d8f6"/>
<rect x="115.7" y="172.34" width="25.3" height="2.29" fill="#bed5f5"/>
<rect x="115.7" y="174.28" width="25.3" height="2.29" fill="#c1d6f6"/>
<rect x="115.7" y="176.21" width="25.3" height="2.29" fill="#c1d6f6"/>
<rect x="115.7" y="178.15" width="25.3" height="2.29" fill="#c8dbf7"/>
<rect x="115.7" y="180.08" width="25.3" height="2.29" fill="#d3e2f8"/>
<rect x="115.7" y="182.02" width="25.3" height="2.29" fill="#cedff7"/>
<rect x="115.7" y="183.95" width="25.3" height="2.29" fill="#c8dbf7"/>
<rect x="115.7" y="185.89" width="25.3" height="2.29" fill="#f2f3f8"/>
<rect x="115.7" y="187.83" width="25.3" height="2.29" fill="#dfe9f9"/>
<rect x="115.7" y="189.76" width="25.3" height="2.29" fill="#eabcc2"/>
<rect x="115.7" y="191.70" width="25.3" height="2.29" fill="#ebc0c6"/>
<rect x="115.7" y="193.63" width="25.3" height="2.29" fill="#e9b7be"/>
<rect x="115.7" y="195.57" width="25.3" height="2.29" fill="#c33f4a"/>
<rect x="115.7" y="197.50" width="25.3" height="2.29" fill="#cb5863"/>
<rect x="115.7" y="199.44" width="25.3" height="2.29" fill="#d8828c"/>
<rect x="115.7" y="201.37" width="25.3" height="2.29" fill="#e09ba3"/>
<rect x="115.7" y="203.31" width="25.3" height="2.29" fill="#df979f"/>
<rect x="115.7" y="205.25" width="25.3" height="2.29" fill="#d3727b"/>
<rect x="115.7" y="207.18" width="25.3" height="2.29" fill="#d4747e"/>
<rect x="115.7" y="209.12" width="25.3" height="2.29" fill="#cb5863"/>
<rect x="115.7" y="211.05" width="25.3" height="2.29" fill="#e3a5ad"/>
<rect x="115.7" y="212.99" width="25.3" height="2.29" fill="#df97a0"/>
<rect x="115.7" y="214.92" width="25.3" height="2.29" fill="#d67a84"/>
<rect x="115.7" y="216.86" width="25.3" height="2.29" fill="#ce626c"/>
<rect x="115.7" y="218.79" width="25.3" height="2.29" fill="#d57680"/>
<rect x="115.7" y="220.73" width="25.3" height="2.29" fill="#d67a83"/>
<rect x="115.7" y="222.67" width="25.3" height="2.29" fill="#cd5f69"/>
<rect x="115.7" y="224.60" width="25.3" height="2.29" fill="#db8c95"/>
<rect x="115.7" y="226.54" width="25.3" height="2.29" fill="#d67b84"/>
<rect x="115.7" y="228.47" width="25.3" height="2.29" fill="#e9b9bf"/>
<rect x="115.7" y="230.41" width="25.3" height="2.29" fill="#e6b0b7"/>
<rect x="115.7" y="232.34" width="25.3" height="2.29" fill="#e5abb2"/>
<rect x="115.7" y="234.28" width="25.3" height="2.29" fill="#e3a4ac"/>
<rect x="115.7" y="236.22" width="25.3" height="2.29" fill="#f4e1e4"/>
<rect x="115.7" y="238.15" width="25.3" height="2.29" fill="#edc6cb"/>
<rect x="115.7" y="240.09" width="25.3" height="2.29" fill="#e3a6ad"/>
<rect x="115.7" y="242.02" width="25.3" height="2.29" fill="#e8b7bd"/>
<rect x="115.7" y="243.96" width="25.3" height="2.29" fill="#c84e59"/>
<rect x="115.7" y="245.89" width="25.3" height="2.29" fill="#e3a4ac"/>
<rect x="115.7" y="247.83" width="25.3" height="2.29" fill="#d9e6f9"/>
<rect x="115.7" y="249.76" width="25.3" height="2.29" fill="#f0cfd4"/>
<rect x="140.7" y="23.30" width="25.3" height="2.29" fill="#c5d9f6"/>
<rect x="140.7" y="25.24" width="25.3" height="2.29" fill="#bcd3f5"/>
<rect x="140.7" y="27.17" width="25.3" height="2.29" fill="#c7daf7"/>
<rect x="140.7" y="29.11" width="25.3" height="2.29" fill="#d1e1f8"/>
<rect x="140.7" y="31.04" width="25.3" height="2.29" fill="#c7daf7"/>
<rect x="140.7" y="32.98" width="25.3" height="2.29" fill="#c7daf7"/>
<rect x="140.7" y="34.91" width="25.3" height="2.29" fill="#bdd4f5"/>
<rect x="140.7" y="36.85" width="25.3" height="2.29" fill="#ccdef7"/>
<rect x="140.7" y="38.78" width="25.3" height="2.29" fill="#c0d5f6"/>
<rect x="140.7" y="40.72" width="25.3" height="2.29" fill="#cfdff7"/>
<rect x="140.7" y="42.66" width="25.3" height="2.29" fill="#bad2f5"/>
<rect x="140.7" y="44.59" width="25.3" height="2.29" fill="#bdd4f5"/>
<rect x="140.7" y="46.53" width="25.3" height="2.29" fill="#c7daf7"/>
<rect x="140.7" y="48.46" width="25.3" height="2.29" fill="#c6d9f6"/>
<rect x="140.7" y="50.40" width="25.3" height="2.29" fill="#cadcf7"/>
<rect x="140.7" y="52.33" width="25.3" height="2.29" fill="#c6daf6"/>
<rect x="140.7" y="54.27" width="25.3" height="2.29" fill="#cbddf7"/>
<rect x="140.7" y="56.21" width="25.3" height="2.29" fill="#c4d9f6"/>
<rect x="140.7" y="58.14" width="25.3" height="2.29" fill="#b6cff4"/>
<rect x="140.7" y="60.08" width="25.3" height="2.29" fill="#cfdff7"/>
<rect x="140.7" y="62.01" width="25.3" height="2.29" fill="#cedff7"/>
<rect x="140.7" y="63.95" width="25.3" height="2.29" fill="#cedff7"/>
<rect x="140.7" y="65.88" width="25.3" height="2.29" fill="#cbddf7"/>
<rect x="140.7" y="67.82" width="25.3" height="2.29" fill="#cbddf7"/>
<rect x="140.7" y="69.75" width="25.3" height="2.29" fill="#c9dcf7"/>
<rect x="140.7" y="71.69" width="25.3" height="2.29" fill="#c9dcf7"/>
<rect x="140.7" y="73.63" width="25.3" height="2.29" fill="#d2e1f8"/>
<rect x="140.7" y="75.56" width="25.3" height="2.29" fill="#cadcf7"/>
<rect x="140.7" y="77.50" width="25.3" height="2.29" fill="#cddef7"/>
<rect x="140.7" y="79.43" width="25.3" height="2.29" fill="#c6d9f6"/>
<rect x="140.7" y="81.37" width="25.3" height="2.29" fill="#eef2f8"/>
<rect x="140.7" y="83.30" width="25.3" height="2.29" fill="#dde8f9"/>
<rect x="140.7" y="85.24" width="25.3" height="2.29" fill="#f6f1f4"/>
<rect x="140.7" y="87.17" width="25.3" height="2.29" fill="#bdd4f5"/>
<rect x="140.7" y="89.11" width="25.3" height="2.29" fill="#d5e3f8"/>
<rect x="140.7" y="91.05" width="25.3" height="2.29" fill="#f7f6f8"/>
<rect x="140.7" y="92.98" width="25.3" height="2.29" fill="#cddef7"/>
<rect x="140.7" y="94.92" width="25.3" height="2.29" fill="#c1d6f6"/>
<rect x="140.7" y="96.85" width="25.3" height="2.29" fill="#c7daf7"/>
<rect x="140.7" y="98.79" width="25.3" height="2.29" fill="#c6daf6"/>
<rect x="140.7" y="100.72" width="25.3" height="2.29" fill="#f0f2f8"/>
<rect x="140.7" y="102.66" width="25.3" height="2.29" fill="#c1d6f6"/>
<rect x="140.7" y="104.59" width="25.3" height="2.29" fill="#d0e0f8"/>
<rect x="140.7" y="106.53" width="25.3" height="2.29" fill="#cadcf7"/>
<rect x="140.7" y="108.47" width="25.3" height="2.29" fill="#cbddf7"/>
<rect x="140.7" y="110.40" width="25.3" height="2.29" fill="#cddef7"/>
<rect x="140.7" y="112.34" width="25.3" height="2.29" fill="#c3d8f6"/>
<rect x="140.7" y="114.27" width="25.3" height="2.29" fill="#c8dbf7"/>
<rect x="140.7" y="116.21" width="25.3" height="2.29" fill="#d0e0f8"/>
<rect x="140.7" y="118.14" width="25.3" height="2.29" fill="#d3e2f8"/>
<rect x="140.7" y="120.08" width="25.3" height="2.29" fill="#c9dbf7"/>
<rect x="140.7" y="122.02" width="25.3" height="2.29" fill="#cddef7"/>
<rect x="140.7" y="123.95" width="25.3" height="2.29" fill="#cbddf7"/>
<rect x="140.7" y="125.89" width="25.3" height="2.29" fill="#c2d7f6"/>
<rect x="140.7" y="127.82" width="25.3" height="2.29" fill="#c9dcf7"/>
<rect x="140.7" y="129.76" width="25.3" height="2.29" fill="#ccddf7"/>
<rect x="140.7" y="131.69" width="25.3" height="2.29" fill="#c5d9f6"/>
<rect x="140.7" y="133.63" width="25.3" height="2.29" fill="#cbddf7"/>
<rect x="140.7" y="135.56" width="25.3" height="2.29" fill="#c7daf7"/>
<rect x="140.7" y="137.50" width="25.3" height="2.29" fill="#c1d7f6"/>
<rect x="140.7" y="139.44" width="25.3" height="2.29" fill="#cddef7"/>
<rect x="140.7" y="141.37" width="25.3" height="2.29" fill="#cddef7"/>
<rect x="140.7" y="143.31" width="25.3" height="2.29" fill="#d4e3f8"/>
<rect x="140.7" y="145.24" width="25.3" height="2.29" fill="#c6daf6"/>
<rect x="140.7" y="147.18" width="25.3" height="2.29" fill="#d1e1f8"/>
<rect x="140.7" y="149.11" width="25.3" height="2.29" fill="#d4e3f8"/>
<rect x="140.7" y="151.05" width="25.3" height="2.29" fill="#d9e6f9"/>
<rect x="140.7" y="152.98" width="25.3" height="2.29" fill="#dae6f9"/>
<rect x="140.7" y="154.92" width="25.3" height="2.29" fill="#f6eef0"/>
<rect x="140.7" y="156.86" width="25.3" height="2.29" fill="#d4e3f8"/>
<rect x="140.7" y="158.79" width="25.3" height="2.29" fill="#d1e1f8"/>
<rect x="140.7" y="160.73" width="25.3" height="2.29" fill="#e8eef9"/>
<rect x="140.7" y="162.66" width="25.3" height="2.29" fill="#cadcf7"/>
<rect x="140.7" y="164.60" width="25.3" height="2.29" fill="#c5d9f6"/>
<rect x="140.7" y="166.53" width="25.3" height="2.29" fill="#c5d9f6"/>
<rect x="140.7" y="168.47" width="25.3" height="2.29" fill="#c7daf7"/>
<rect x="140.7" y="170.41" width="25.3" height="2.29" fill="#cedff7"/>
<rect x="140.7" y="172.34" width="25.3" height="2.29" fill="#c8dbf7"/>
<rect x="140.7" y="174.28" width="25.3" height="2.29" fill="#ccdef7"/>
<rect x="140.7" y="176.21" width="25.3" height="2.29" fill="#d0e0f8"/>
<rect x="140.7" y="178.15" width="25.3" height="2.29" fill="#c6daf6"/>
<rect x="140.7" y="180.08" width="25.3" height="2.29" fill="#cadcf7"/>
<rect x="140.7" y="182.02" width="25.3" height="2.29" fill="#c6daf6"/>
<rect x="140.7" y="183.95" width="25.3" height="2.29" fill="#c4d9f6"/>
<rect x="140.7" y="185.89" width="25.3" height="2.29" fill="#ccdef7"/>
<rect x="140.7" y="187.83" width="25.3" height="2.29" fill="#eff2f8"/>
<rect x="140.7" y="189.76" width="25.3" height="2.29" fill="#e7b2b9"/>
<rect x="140.7" y="191.70" width="25.3" height="2.29" fill="#ccdef7"/>
<rect x="140.7" y="193.63" width="25.3" height="2.29" fill="#dc8f98"/>
<rect x="140.7" y="195.57" width="25.3" height="2.29" fill="#e4aab1"/>
<rect x="140.7" y="197.50" width="25.3" height="2.29" fill="#f3dbdf"/>
<rect x="140.7" y="199.44" width="25.3" height="2.29" fill="#f4e1e4"/>
<rect x="140.7" y="201.37" width="25.3" height="2.29" fill="#f0d1d5"/>
<rect x="140.7" y="203.31" width="25.3" height="2.29" fill="#da8790"/>
<rect x="140.7" y="205.25" width="25.3" height="2.29" fill="#edc6cb"/>
<rect x="140.7" y="207.18" width="25.3" height="2.29" fill="#f5e7e9"/>
<rect x="140.7" y="209.12" width="25.3" height="2.29" fill="#db8c95"/>
<rect x="140.7" y="211.05" width="25.3" height="2.29" fill="#eec9ce"/>
<rect x="140.7" y="212.99" width="25.3" height="2.29" fill="#d16a74"/>
<rect x="140.7" y="214.92" width="25.3" height="2.29" fill="#efced2"/>
<rect x="140.7" y="216.86" width="25.3" height="2.29" fill="#d9e6f9"/>
<rect x="140.7" y="218.79" width="25.3" height="2.29" fill="#f3dade"/>
<rect x="140.7" y="220.73" width="25.3" height="2.29" fill="#f7f6f8"/>
<rect x="140.7" y="222.67" width="25.3" height="2.29" fill="#f3dbdf"/>
<rect x="140.7" y="224.60" width="25.3" height="2.29" fill="#f2d7db"/>
<rect x="140.7" y="226.54" width="25.3" height="2.29" fill="#f6f1f4"/>
<rect x="140.7" y="228.47" width="25.3" height="2.29" fill="#f7f6f8"/>
<rect x="140.7" y="230.41" width="25.3" height="2.29" fill="#dfeaf9"/>
<rect x="140.7" y="232.34" width="25.3" height="2.29" fill="#e7b3ba"/>
<rect x="140.7" y="234.28" width="25.3" height="2.29" fill="#f7f6f8"/>
<rect x="140.7" y="236.22" width="25.3" height="2.29" fill="#f1f3f8"/>
<rect x="140.7" y="238.15" width="25.3" height="2.29" fill="#e0eaf9"/>
<rect x="140.7" y="240.09" width="25.3" height="2.29" fill="#d9e6f9"/>
<rect x="140.7" y="242.02" width="25.3" height="2.29" fill="#f3dce0"/>
<rect x="140.7" y="243.96" width="25.3" height="2.29" fill="#f6eef0"/>
<rect x="140.7" y="245.89" width="25.3" height="2.29" fill="#f4e2e6"/>
<rect x="140.7" y="247.83" width="25.3" height="2.29" fill="#e6aeb5"/>
<rect x="140.7" y="249.76" width="25.3" height="2.29" fill="#f3dce0"/>
<rect x="165.7" y="23.30" width="25.3" height="2.29" fill="#c7daf7"/>
<rect x="165.7" y="25.24" width="25.3" height="2.29" fill="#bfd5f6"/>
<rect x="165.7" y="27.17" width="25.3" height="2.29" fill="#b5cef4"/>
<rect x="165.7" y="29.11" width="25.3" height="2.29" fill="#bed4f5"/>
<rect x="165.7" y="31.04" width="25.3" height="2.29" fill="#c6daf6"/>
<rect x="165.7" y="32.98" width="25.3" height="2.29" fill="#c5d9f6"/>
<rect x="165.7" y="34.91" width="25.3" height="2.29" fill="#cddef7"/>
<rect x="165.7" y="36.85" width="25.3" height="2.29" fill="#c1d6f6"/>
<rect x="165.7" y="38.78" width="25.3" height="2.29" fill="#c4d8f6"/>
<rect x="165.7" y="40.72" width="25.3" height="2.29" fill="#bcd3f5"/>
<rect x="165.7" y="42.66" width="25.3" height="2.29" fill="#c8dbf7"/>
<rect x="165.7" y="44.59" width="25.3" height="2.29" fill="#c5d9f6"/>
<rect x="165.7" y="46.53" width="25.3" height="2.29" fill="#bcd3f5"/>
<rect x="165.7" y="48.46" width="25.3" height="2.29" fill="#cadcf7"/>
<rect x="165.7" y="50.40" width="25.3" height="2.29" fill="#c4d8f6"/>
<rect x="165.7" y="52.33" width="25.3" height="2.29" fill="#ccdef7"/>
<rect x="165.7" y="54.27" width="25.3" height="2.29" fill="#cddef7"/>
<rect x="165.7" y="56.21" width="25.3" height="2.29" fill="#c7daf7"/>
<rect x="165.7" y="58.14" width="25.3" height="2.29" fill="#bdd4f5"/>
<rect x="165.7" y="60.08" width="25.3" height="2.29" fill="#c0d5f6"/>
<rect x="165.7" y="62.01" width="25.3" height="2.29" fill="#c0d6f6"/>
<rect x="165.7" y="63.95" width="25.3" height="2.29" fill="#b6cff4"/>
<rect x="165.7" y="65.88" width="25.3" height="2.29" fill="#d0e0f8"/>
<rect x="165.7" y="67.82" width="25.3" height="2.29" fill="#c4d8f6"/>
<rect x="165.7" y="69.75" width="25.3" height="2.29" fill="#bad2f5"/>
<rect x="165.7" y="71.69" width="25.3" height="2.29" fill="#c8dbf7"/>
<rect x="165.7" y="73.63" width="25.3" height="2.29" fill="#bbd3f5"/>
<rect x="165.7" y="75.56" width="25.3" height="2.29" fill="#c4d8f6"/>
<rect x="165.7" y="77.50" width="25.3" height="2.29" fill="#cddef7"/>
<rect x="165.7" y="79.43" width="25.3" height="2.29" fill="#c8dbf7"/>
<rect x="165.7" y="81.37" width="25.3" height="2.29" fill="#b8d0f5"/>
<rect x="165.7" y="83.30" width="25.3" height="2.29" fill="#bcd3f5"/>
<rect x="165.7" y="85.24" width="25.3" height="2.29" fill="#c7daf7"/>
<rect x="165.7" y="87.17" width="25.3" height="2.29" fill="#c6daf6"/>
<rect x="165.7" y="89.11" width="25.3" height="2.29" fill="#c3d8f6"/>
<rect x="165.7" y="91.05" width="25.3" height="2.29" fill="#c6d9f6"/>
<rect x="165.7" y="92.98" width="25.3" height="2.29" fill="#c5d9f6"/>
<rect x="165.7" y="94.92" width="25.3" height="2.29" fill="#cadcf7"/>
<rect x="165.7" y="96.85" width="25.3" height="2.29" fill="#d0e0f8"/>
<rect x="165.7" y="98.79" width="25.3" height="2.29" fill="#cadcf7"/>
<rect x="165.7" y="100.72" width="25.3" height="2.29" fill="#c9dbf7"/>
<rect x="165.7" y="102.66" width="25.3" height="2.29" fill="#bed5f5"/>
<rect x="165.7" y="104.59" width="25.3" height="2.29" fill="#cfdff7"/>
<rect x="165.7" y="106.53" width="25.3" height="2.29" fill="#c7dbf7"/>
<rect x="165.7" y="108.47" width="25.3" height="2.29" fill="#d0e0f8"/>
<rect x="165.7" y="110.40" width="25.3" height="2.29" fill="#ccdef7"/>
<rect x="165.7" y="112.34" width="25.3" height="2.29" fill="#d3e2f8"/>
<rect x="165.7" y="114.27" width="25.3" height="2.29" fill="#cfe0f8"/>
<rect x="165.7" y="116.21" width="25.3" height="2.29" fill="#d0e0f8"/>
<rect x="165.7" y="118.14" width="25.3" height="2.29" fill="#c9dcf7"/>
<rect x="165.7" y="120.08" width="25.3" height="2.29" fill="#bed4f5"/>
<rect x="165.7" y="122.02" width="25.3" height="2.29" fill="#ecf0f8"/>
<rect x="165.7" y="123.95" width="25.3" height="2.29" fill="#ecf0f8"/>
<rect x="165.7" y="125.89" width="25.3" height="2.29" fill="#c1d7f6"/>
<rect x="165.7" y="127.82" width="25.3" height="2.29" fill="#cbddf7"/>
<rect x="165.7" y="129.76" width="25.3" height="2.29" fill="#c4d8f6"/>
<rect x="165.7" y="131.69" width="25.3" height="2.29" fill="#d0e0f8"/>
<rect x="165.7" y="133.63" width="25.3" height="2.29" fill="#bcd3f5"/>
<rect x="165.7" y="135.56" width="25.3" height="2.29" fill="#bfd5f6"/>
<rect x="165.7" y="137.50" width="25.3" height="2.29" fill="#cadcf7"/>
<rect x="165.7" y="139.44" width="25.3" height="2.29" fill="#c9dbf7"/>
<rect x="165.7" y="141.37" width="25.3" height="2.29" fill="#c4d9f6"/>
<rect x="165.7" y="143.31" width="25.3" height="2.29" fill="#c6daf6"/>
<rect x="165.7" y="145.24" width="25.3" height="2.29" fill="#c3d8f6"/>
<rect x="165.7" y="147.18" width="25.3" height="2.29" fill="#bed4f5"/>
<rect x="165.7" y="149.11" width="25.3" height="2.29" fill="#d0e0f8"/>
<rect x="165.7" y="151.05" width="25.3" height="2.29" fill="#cbddf7"/>
<rect x="165.7" y="152.98" width="25.3" height="2.29" fill="#cbddf7"/>
<rect x="165.7" y="154.92" width="25.3" height="2.29" fill="#c8dbf7"/>
<rect x="165.7" y="156.86" width="25.3" height="2.29" fill="#c7daf7"/>
<rect x="165.7" y="158.79" width="25.3" height="2.29" fill="#c6d9f6"/>
<rect x="165.7" y="160.73" width="25.3" height="2.29" fill="#c8dbf7"/>
<rect x="165.7" y="162.66" width="25.3" height="2.29" fill="#c6daf6"/>
<rect x="165.7" y="164.60" width="25.3" height="2.29" fill="#bdd3f5"/>
<rect x="165.7" y="166.53" width="25.3" height="2.29" fill="#c0d6f6"/>
<rect x="165.7" y="168.47" width="25.3" height="2.29" fill="#c2d7f6"/>
<rect x="165.7" y="170.41" width="25.3" height="2.29" fill="#c2d7f6"/>
<rect x="165.7" y="172.34" width="25.3" height="2.29" fill="#bfd5f6"/>
<rect x="165.7" y="174.28" width="25.3" height="2.29" fill="#cbddf7"/>
<rect x="165.7" y="176.21" width="25.3" height="2.29" fill="#c4d8f6"/>
<rect x="165.7" y="178.15" width="25.3" height="2.29" fill="#ccdef7"/>
<rect x="165.7" y="180.08" width="25.3" height="2.29" fill="#c7daf7"/>
<rect x="165.7" y="182.02" width="25.3" height="2.29" fill="#c5d9f6"/>
<rect x="165.7" y="183.95" width="25.3" height="2.29" fill="#c2d7f6"/>
<rect x="165.7" y="185.89" width="25.3" height="2.29" fill="#d8e6f9"/>
<rect x="165.7" y="187.83" width="25.3" height="2.29" fill="#e3ecf9"/>
<rect x="165.7" y="189.76" width="25.3" height="2.29" fill="#f7f6f8"/>
<rect x="165.7" y="191.70" width="25.3" height="2.29" fill="#f3dbdf"/>
<rect x="165.7" y="193.63" width="25.3" height="2.29" fill="#e9b9c0"/>
<rect x="165.7" y="195.57" width="25.3" height="2.29" fill="#f1d4d8"/>
<rect x="165.7" y="197.50" width="25.3" height="2.29" fill="#ecc4c9"/>
<rect x="165.7" y="199.44" width="25.3" height="2.29" fill="#f3dadd"/>
<rect x="165.7" y="201.37" width="25.3" height="2.29" fill="#e3a6ae"/>
<rect x="165.7" y="203.31" width="25.3" height="2.29" fill="#f5eaec"/>
<rect x="165.7" y="205.25" width="25.3" height="2.29" fill="#edc6cb"/>
<rect x="165.7" y="207.18" width="25.3" height="2.29" fill="#e8b4bb"/>
<rect x="165.7" y="209.12" width="25.3" height="2.29" fill="#eec9ce"/>
<rect x="165.7" y="211.05" width="25.3" height="2.29" fill="#d9e6f9"/>
<rect x="165.7" y="212.99" width="25.3" height="2.29" fill="#f0d0d4"/>
<rect x="165.7" y="214.92" width="25.3" height="2.29" fill="#e9b9c0"/>
<rect x="165.7" y="216.86" width="25.3" height="2.29" fill="#f7f6f8"/>
<rect x="165.7" y="218.79" width="25.3" height="2.29" fill="#f6f6f8"/>
<rect x="165.7" y="220.73" width="25.3" height="2.29" fill="#f5e6e9"/>
<rect x="165.7" y="222.67" width="25.3" height="2.29" fill="#efccd1"/>
<rect x="165.7" y="224.60" width="25.3" height="2.29" fill="#f7f4f6"/>
<rect x="165.7" y="226.54" width="25.3" height="2.29" fill="#d9e6f9"/>
<rect x="165.7" y="228.47" width="25.3" height="2.29" fill="#c64853"/>
<rect x="165.7" y="230.41" width="25.3" height="2.29" fill="#e6aeb5"/>
<rect x="165.7" y="232.34" width="25.3" height="2.29" fill="#bd2e39"/>
<rect x="165.7" y="234.28" width="25.3" height="2.29" fill="#eabcc2"/>
<rect x="165.7" y="236.22" width="25.3" height="2.29" fill="#e4a9b0"/>
<rect x="165.7" y="238.15" width="25.3" height="2.29" fill="#e09ba3"/>
<rect x="165.7" y="240.09" width="25.3" height="2.29" fill="#c4404c"/>
<rect x="165.7" y="242.02" width="25.3" height="2.29" fill="#edc7cc"/>
<rect x="165.7" y="243.96" width="25.3" height="2.29" fill="#cd5e68"/>
<rect x="165.7" y="245.89" width="25.3" height="2.29" fill="#f1d2d7"/>
<rect x="165.7" y="247.83" width="25.3" height="2.29" fill="#d9e6f9"/>
<rect x="165.7" y="249.76" width="25.3" height="2.29" fill="#f5e7ea"/>
<rect x="190.8" y="23.30" width="25.3" height="2.29" fill="#afcaf3"/>
<rect x="190.8" y="25.24" width="25.3" height="2.29" fill="#c8dbf7"/>
<rect x="190.8" y="27.17" width="25.3" height="2.29" fill="#cbddf7"/>
<rect x="190.8" y="29.11" width="25.3" height="2.29" fill="#c6daf7"/>
<rect x="190.8" y="31.04" width="25.3" height="2.29" fill="#c9dbf7"/>
<rect x="190.8" y="32.98" width="25.3" height="2.29" fill="#cadcf7"/>
<rect x="190.8" y="34.91" width="25.3" height="2.29" fill="#ecf0f8"/>
<rect x="190.8" y="36.85" width="25.3" height="2.29" fill="#d1e1f8"/>
<rect x="190.8" y="38.78" width="25.3" height="2.29" fill="#c3d8f6"/>
<rect x="190.8" y="40.72" width="25.3" height="2.29" fill="#caddf7"/>
<rect x="190.8" y="42.66" width="25.3" height="2.29" fill="#ecf0f8"/>
<rect x="190.8" y="44.59" width="25.3" height="2.29" fill="#c4d9f6"/>
<rect x="190.8" y="46.53" width="25.3" height="2.29" fill="#c4d9f6"/>
<rect x="190.8" y="48.46" width="25.3" height="2.29" fill="#ccdef7"/>
<rect x="190.8" y="50.40" width="25.3" height="2.29" fill="#cadcf7"/>
<rect x="190.8" y="52.33" width="25.3" height="2.29" fill="#c2d7f6"/>
<rect x="190.8" y="54.27" width="25.3" height="2.29" fill="#c3d8f6"/>
<rect x="190.8" y="56.21" width="25.3" height="2.29" fill="#c4d8f6"/>
<rect x="190.8" y="58.14" width="25.3" height="2.29" fill="#cadcf7"/>
<rect x="190.8" y="60.08" width="25.3" height="2.29" fill="#c7daf7"/>
<rect x="190.8" y="62.01" width="25.3" height="2.29" fill="#b4cdf4"/>
<rect x="190.8" y="63.95" width="25.3" height="2.29" fill="#bbd2f5"/>
<rect x="190.8" y="65.88" width="25.3" height="2.29" fill="#c8dbf7"/>
<rect x="190.8" y="67.82" width="25.3" height="2.29" fill="#bed4f5"/>
<rect x="190.8" y="69.75" width="25.3" height="2.29" fill="#c2d7f6"/>
<rect x="190.8" y="71.69" width="25.3" height="2.29" fill="#c8dbf7"/>
<rect x="190.8" y="73.63" width="25.3" height="2.29" fill="#c6d9f6"/>
<rect x="190.8" y="75.56" width="25.3" height="2.29" fill="#c8dbf7"/>
<rect x="190.8" y="77.50" width="25.3" height="2.29" fill="#a6c4f2"/>
<rect x="190.8" y="79.43" width="25.3" height="2.29" fill="#cbddf7"/>
<rect x="190.8" y="81.37" width="25.3" height="2.29" fill="#c6daf6"/>
<rect x="190.8" y="83.30" width="25.3" height="2.29" fill="#cadcf7"/>
<rect x="190.8" y="85.24" width="25.3" height="2.29" fill="#c1d6f6"/>
<rect x="190.8" y="87.17" width="25.3" height="2.29" fill="#ecf0f8"/>
<rect x="190.8" y="89.11" width="25.3" height="2.29" fill="#c4d8f6"/>
<rect x="190.8" y="91.05" width="25.3" height="2.29" fill="#caddf7"/>
<rect x="190.8" y="92.98" width="25.3" height="2.29" fill="#c4d8f6"/>
<rect x="190.8" y="94.92" width="25.3" height="2.29" fill="#cadcf7"/>
<rect x="190.8" y="96.85" width="25.3" height="2.29" fill="#bbd2f5"/>
<rect x="190.8" y="98.79" width="25.3" height="2.29" fill="#ccdef7"/>
<rect x="190.8" y="100.72" width="25.3" height="2.29" fill="#cadcf7"/>
<rect x="190.8" y="102.66" width="25.3" height="2.29" fill="#c5d9f6"/>
<rect x="190.8" y="104.59" width="25.3" height="2.29" fill="#c8dbf7"/>
<rect x="190.8" y="106.53" width="25.3" height="2.29" fill="#c0d6f6"/>
<rect x="190.8" y="108.47" width="25.3" height="2.29" fill="#cadcf7"/>
<rect x="190.8" y="110.40" width="25.3" height="2.29" fill="#c7daf7"/>
<rect x="190.8" y="112.34" width="25.3" height="2.29" fill="#ecf0f8"/>
<rect x="190.8" y="114.27" width="25.3" height="2.29" fill="#ecf0f8"/>
<rect x="190.8" y="116.21" width="25.3" height="2.29" fill="#bbd2f5"/>
<rect x="190.8" y="118.14" width="25.3" height="2.29" fill="#c8dbf7"/>
<rect x="190.8" y="120.08" width="25.3" height="2.29" fill="#c4d8f6"/>
<rect x="190.8" y="122.02" width="25.3" height="2.29" fill="#cedff7"/>
<rect x="190.8" y="123.95" width="25.3" height="2.29" fill="#c6daf6"/>
<rect x="190.8" y="125.89" width="25.3" height="2.29" fill="#c9dcf7"/>
<rect x="190.8" y="127.82" width="25.3" height="2.29" fill="#b6cff4"/>
<rect x="190.8" y="129.76" width="25.3" height="2.29" fill="#ccdef7"/>
<rect x="190.8" y="131.69" width="25.3" height="2.29" fill="#c2d7f6"/>
<rect x="190.8" y="133.63" width="25.3" height="2.29" fill="#ecf0f8"/>
<rect x="190.8" y="135.56" width="25.3" height="2.29" fill="#ecf0f8"/>
<rect x="190.8" y="137.50" width="25.3" height="2.29" fill="#bdd3f5"/>
<rect x="190.8" y="139.44" width="25.3" height="2.29" fill="#c2d7f6"/>
<rect x="190.8" y="141.37" width="25.3" height="2.29" fill="#cddef7"/>
<rect x="190.8" y="143.31" width="25.3" height="2.29" fill="#c1d6f6"/>
<rect x="190.8" y="145.24" width="25.3" height="2.29" fill="#b8d0f5"/>
<rect x="190.8" y="147.18" width="25.3" height="2.29" fill="#c5d9f6"/>
<rect x="190.8" y="149.11" width="25.3" height="2.29" fill="#cddef7"/>
<rect x="190.8" y="151.05" width="25.3" height="2.29" fill="#c3d8f6"/>
<rect x="190.8" y="152.98" width="25.3" height="2.29" fill="#c6daf6"/>
<rect x="190.8" y="154.92" width="25.3" height="2.29" fill="#bed4f5"/>
<rect x="190.8" y="156.86" width="25.3" height="2.29" fill="#c5d9f6"/>
<rect x="190.8" y="158.79" width="25.3" height="2.29" fill="#c0d6f6"/>
<rect x="190.8" y="160.73" width="25.3" height="2.29" fill="#c5d9f6"/>
<rect x="190.8" y="162.66" width="25.3" height="2.29" fill="#c9dcf7"/>
<rect x="190.8" y="164.60" width="25.3" height="2.29" fill="#c8dbf7"/>
<rect x="190.8" y="166.53" width="25.3" height="2.29" fill="#b8d0f5"/>
<rect x="190.8" y="168.47" width="25.3" height="2.29" fill="#bed5f6"/>
<rect x="190.8" y="170.41" width="25.3" height="2.29" fill="#cadcf7"/>
<rect x="190.8" y="172.34" width="25.3" height="2.29" fill="#c5d9f6"/>
<rect x="190.8" y="174.28" width="25.3" height="2.29" fill="#afcaf3"/>
<rect x="190.8" y="176.21" width="25.3" height="2.29" fill="#c6d9f6"/>
<rect x="190.8" y="178.15" width="25.3" height="2.29" fill="#bdd4f5"/>
<rect x="190.8" y="180.08" width="25.3" height="2.29" fill="#c6d9f6"/>
<rect x="190.8" y="182.02" width="25.3" height="2.29" fill="#ecf0f8"/>
<rect x="190.8" y="183.95" width="25.3" height="2.29" fill="#cfdff7"/>
<rect x="190.8" y="185.89" width="25.3" height="2.29" fill="#eff2f8"/>
<rect x="190.8" y="187.83" width="25.3" height="2.29" fill="#ebf0f8"/>
<rect x="190.8" y="189.76" width="25.3" height="2.29" fill="#f5ecef"/>
<rect x="190.8" y="191.70" width="25.3" height="2.29" fill="#eff2f8"/>
<rect x="190.8" y="193.63" width="25.3" height="2.29" fill="#e7b2b9"/>
<rect x="190.8" y="195.57" width="25.3" height="2.29" fill="#f2d9dd"/>
<rect x="190.8" y="197.50" width="25.3" height="2.29" fill="#eec9ce"/>
<rect x="190.8" y="199.44" width="25.3" height="2.29" fill="#e5acb3"/>
<rect x="190.8" y="201.37" width="25.3" height="2.29" fill="#f3dde0"/>
<rect x="190.8" y="203.31" width="25.3" height="2.29" fill="#c4404c"/>
<rect x="190.8" y="205.25" width="25.3" height="2.29" fill="#e5acb4"/>
<rect x="190.8" y="207.18" width="25.3" height="2.29" fill="#e8b5bc"/>
<rect x="190.8" y="209.12" width="25.3" height="2.29" fill="#f7f6f8"/>
<rect x="190.8" y="211.05" width="25.3" height="2.29" fill="#f7f6f8"/>
<rect x="190.8" y="212.99" width="25.3" height="2.29" fill="#d77f89"/>
<rect x="190.8" y="214.92" width="25.3" height="2.29" fill="#f7f6f8"/>
<rect x="190.8" y="216.86" width="25.3" height="2.29" fill="#f5e7ea"/>
<rect x="190.8" y="218.79" width="25.3" height="2.29" fill="#f5ebee"/>
<rect x="190.8" y="220.73" width="25.3" height="2.29" fill="#eabcc2"/>
<rect x="190.8" y="222.67" width="25.3" height="2.29" fill="#eff2f8"/>
<rect x="190.8" y="224.60" width="25.3" height="2.29" fill="#efcdd1"/>
<rect x="190.8" y="226.54" width="25.3" height="2.29" fill="#f4e4e7"/>
<rect x="190.8" y="228.47" width="25.3" height="2.29" fill="#f3dbdf"/>
<rect x="190.8" y="230.41" width="25.3" height="2.29" fill="#f6f1f3"/>
<rect x="190.8" y="232.34" width="25.3" height="2.29" fill="#d9e6f9"/>
<rect x="190.8" y="234.28" width="25.3" height="2.29" fill="#f2d8dc"/>
<rect x="190.8" y="236.22" width="25.3" height="2.29" fill="#efcdd2"/>
<rect x="190.8" y="238.15" width="25.3" height="2.29" fill="#df9aa2"/>
<rect x="190.8" y="240.09" width="25.3" height="2.29" fill="#f7f6f8"/>
<rect x="190.8" y="242.02" width="25.3" height="2.29" fill="#d9e6f9"/>
<rect x="190.8" y="243.96" width="25.3" height="2.29" fill="#eabdc3"/>
<rect x="190.8" y="245.89" width="25.3" height="2.29" fill="#c4414d"/>
<rect x="190.8" y="247.83" width="25.3" height="2.29" fill="#dd919a"/>
<rect x="190.8" y="249.76" width="25.3" height="2.29" fill="#e8b6bd"/>
<rect x="215.8" y="23.30" width="25.3" height="2.29" fill="#d0e0f8"/>
<rect x="215.8" y="25.24" width="25.3" height="2.29" fill="#b6cff4"/>
<rect x="215.8" y="27.17" width="25.3" height="2.29" fill="#bbd2f5"/>
<rect x="215.8" y="29.11" width="25.3" height="2.29" fill="#c8dbf7"/>
<rect x="215.8" y="31.04" width="25.3" height="2.29" fill="#c8dbf7"/>
<rect x="215.8" y="32.98" width="25.3" height="2.29" fill="#d2e1f8"/>
<rect x="215.8" y="34.91" width="25.3" height="2.29" fill="#d0e0f8"/>
<rect x="215.8" y="36.85" width="25.3" height="2.29" fill="#c4d8f6"/>
<rect x="215.8" y="38.78" width="25.3" height="2.29" fill="#c7daf7"/>
<rect x="215.8" y="40.72" width="25.3" height="2.29" fill="#d3e2f8"/>
<rect x="215.8" y="42.66" width="25.3" height="2.29" fill="#d0e0f8"/>
<rect x="215.8" y="44.59" width="25.3" height="2.29" fill="#ccdef7"/>
<rect x="215.8" y="46.53" width="25.3" height="2.29" fill="#cfe0f8"/>
<rect x="215.8" y="48.46" width="25.3" height="2.29" fill="#f7f6f8"/>
<rect x="215.8" y="50.40" width="25.3" height="2.29" fill="#dee9f9"/>
<rect x="215.8" y="52.33" width="25.3" height="2.29" fill="#c9dcf7"/>
<rect x="215.8" y="54.27" width="25.3" height="2.29" fill="#c8dbf7"/>
<rect x="215.8" y="56.21" width="25.3" height="2.29" fill="#d3e2f8"/>
<rect x="215.8" y="58.14" width="25.3" height="2.29" fill="#d1e1f8"/>
<rect x="215.8" y="60.08" width="25.3" height="2.29" fill="#cfdff7"/>
<rect x="215.8" y="62.01" width="25.3" height="2.29" fill="#d4e3f8"/>
<rect x="215.8" y="63.95" width="25.3" height="2.29" fill="#d0e0f8"/>
<rect x="215.8" y="65.88" width="25.3" height="2.29" fill="#d3e2f8"/>
<rect x="215.8" y="67.82" width="25.3" height="2.29" fill="#f7f6f8"/>
<rect x="215.8" y="69.75" width="25.3" height="2.29" fill="#c9dcf7"/>
<rect x="215.8" y="71.69" width="25.3" height="2.29" fill="#d0e0f8"/>
<rect x="215.8" y="73.63" width="25.3" height="2.29" fill="#d2e1f8"/>
<rect x="215.8" y="75.56" width="25.3" height="2.29" fill="#cbddf7"/>
<rect x="215.8" y="77.50" width="25.3" height="2.29" fill="#d1e1f8"/>
<rect x="215.8" y="79.43" width="25.3" height="2.29" fill="#bcd3f5"/>
<rect x="215.8" y="81.37" width="25.3" height="2.29" fill="#cbddf7"/>
<rect x="215.8" y="83.30" width="25.3" height="2.29" fill="#d3e2f8"/>
<rect x="215.8" y="85.24" width="25.3" height="2.29" fill="#e0eaf9"/>
<rect x="215.8" y="87.17" width="25.3" height="2.29" fill="#dee9f9"/>
<rect x="215.8" y="89.11" width="25.3" height="2.29" fill="#d9e6f9"/>
<rect x="215.8" y="91.05" width="25.3" height="2.29" fill="#f6eef0"/>
<rect x="215.8" y="92.98" width="25.3" height="2.29" fill="#eaeff8"/>
<rect x="215.8" y="94.92" width="25.3" height="2.29" fill="#eef1f8"/>
<rect x="215.8" y="96.85" width="25.3" height="2.29" fill="#f7f6f8"/>
<rect x="215.8" y="98.79" width="25.3" height="2.29" fill="#e0eaf9"/>
<rect x="215.8" y="100.72" width="25.3" height="2.29" fill="#e19fa7"/>
<rect x="215.8" y="102.66" width="25.3" height="2.29" fill="#e6edf9"/>
<rect x="215.8" y="104.59" width="25.3" height="2.29" fill="#dce8f9"/>
<rect x="215.8" y="106.53" width="25.3" height="2.29" fill="#e0eaf9"/>
<rect x="215.8" y="108.47" width="25.3" height="2.29" fill="#f2f3f8"/>
<rect x="215.8" y="110.40" width="25.3" height="2.29" fill="#dde8f9"/>
<rect x="215.8" y="112.34" width="25.3" height="2.29" fill="#f2d7db"/>
<rect x="215.8" y="114.27" width="25.3" height="2.29" fill="#d2e2f8"/>
<rect x="215.8" y="116.21" width="25.3" height="2.29" fill="#de949c"/>
<rect x="215.8" y="118.14" width="25.3" height="2.29" fill="#f2d7db"/>
<rect x="215.8" y="120.08" width="25.3" height="2.29" fill="#e6afb6"/>
<rect x="215.8" y="122.02" width="25.3" height="2.29" fill="#d9e6f9"/>
<rect x="215.8" y="123.95" width="25.3" height="2.29" fill="#cb5963"/>
<rect x="215.8" y="125.89" width="25.3" height="2.29" fill="#c4404b"/>
<rect x="215.8" y="127.82" width="25.3" height="2.29" fill="#e3ecf9"/>
<rect x="215.8" y="129.76" width="25.3" height="2.29" fill="#f7f6f8"/>
<rect x="215.8" y="131.69" width="25.3" height="2.29" fill="#f6f5f8"/>
<rect x="215.8" y="133.63" width="25.3" height="2.29" fill="#e7edf9"/>
<rect x="215.8" y="135.56" width="25.3" height="2.29" fill="#e4ecf9"/>
<rect x="215.8" y="137.50" width="25.3" height="2.29" fill="#d8e5f9"/>
<rect x="215.8" y="139.44" width="25.3" height="2.29" fill="#f4e6e9"/>
<rect x="215.8" y="141.37" width="25.3" height="2.29" fill="#d8818a"/>
<rect x="215.8" y="143.31" width="25.3" height="2.29" fill="#f6f0f2"/>
<rect x="215.8" y="145.24" width="25.3" height="2.29" fill="#f5e8eb"/>
<rect x="215.8" y="147.18" width="25.3" height="2.29" fill="#f6edef"/>
<rect x="215.8" y="149.11" width="25.3" height="2.29" fill="#f7f6f8"/>
<rect x="215.8" y="151.05" width="25.3" height="2.29" fill="#f4e1e4"/>
<rect x="215.8" y="152.98" width="25.3" height="2.29" fill="#f4f4f8"/>
<rect x="215.8" y="154.92" width="25.3" height="2.29" fill="#f3dadd"/>
<rect x="215.8" y="156.86" width="25.3" height="2.29" fill="#f3dfe3"/>
<rect x="215.8" y="158.79" width="25.3" height="2.29" fill="#e6b0b7"/>
<rect x="215.8" y="160.73" width="25.3" height="2.29" fill="#f7f6f8"/>
<rect x="215.8" y="162.66" width="25.3" height="2.29" fill="#e8b5bc"/>
<rect x="215.8" y="164.60" width="25.3" height="2.29" fill="#d9e6f9"/>
<rect x="215.8" y="166.53" width="25.3" height="2.29" fill="#b8252f"/>
<rect x="215.8" y="168.47" width="25.3" height="2.29" fill="#d3717b"/>
<rect x="215.8" y="170.41" width="25.3" height="2.29" fill="#dc8e97"/>
<rect x="215.8" y="172.34" width="25.3" height="2.29" fill="#f0ced3"/>
<rect x="215.8" y="174.28" width="25.3" height="2.29" fill="#f7f6f8"/>
<rect x="215.8" y="176.21" width="25.3" height="2.29" fill="#f5e6e9"/>
<rect x="215.8" y="178.15" width="25.3" height="2.29" fill="#cf646e"/>
<rect x="215.8" y="180.08" width="25.3" height="2.29" fill="#f3dce0"/>
<rect x="215.8" y="182.02" width="25.3" height="2.29" fill="#f7f6f8"/>
<rect x="215.8" y="183.95" width="25.3" height="2.29" fill="#d9e6f9"/>
<rect x="215.8" y="185.89" width="25.3" height="2.29" fill="#f3dce0"/>
<rect x="215.8" y="187.83" width="25.3" height="2.29" fill="#f6eef0"/>
<rect x="215.8" y="189.76" width="25.3" height="2.29" fill="#f7f6f8"/>
<rect x="215.8" y="191.70" width="25.3" height="2.29" fill="#d9e6f9"/>
<rect x="215.8" y="193.63" width="25.3" height="2.29" fill="#f1d2d6"/>
<rect x="215.8" y="195.57" width="25.3" height="2.29" fill="#f7f6f8"/>
<rect x="215.8" y="197.50" width="25.3" height="2.29" fill="#dc9099"/>
<rect x="215.8" y="199.44" width="25.3" height="2.29" fill="#f2d7db"/>
<rect x="215.8" y="201.37" width="25.3" height="2.29" fill="#ecc2c8"/>
<rect x="215.8" y="203.31" width="25.3" height="2.29" fill="#eabcc2"/>
<rect x="215.8" y="205.25" width="25.3" height="2.29" fill="#d3e2f8"/>
<rect x="215.8" y="207.18" width="25.3" height="2.29" fill="#ebf0f8"/>
<rect x="215.8" y="209.12" width="25.3" height="2.29" fill="#e8eef9"/>
<rect x="215.8" y="211.05" width="25.3" height="2.29" fill="#f7f5f7"/>
<rect x="215.8" y="212.99" width="25.3" height="2.29" fill="#f7f5f7"/>
<rect x="215.8" y="214.92" width="25.3" height="2.29" fill="#e9eff9"/>
<rect x="215.8" y="216.86" width="25.3" height="2.29" fill="#f4f4f8"/>
<rect x="215.8" y="218.79" width="25.3" height="2.29" fill="#d9e6f9"/>
<rect x="215.8" y="220.73" width="25.3" height="2.29" fill="#e7b3ba"/>
<rect x="215.8" y="222.67" width="25.3" height="2.29" fill="#f3dce0"/>
<rect x="215.8" y="224.60" width="25.3" height="2.29" fill="#ecc3c9"/>
<rect x="215.8" y="226.54" width="25.3" height="2.29" fill="#f3dce0"/>
<rect x="215.8" y="228.47" width="25.3" height="2.29" fill="#d9e6f9"/>
<rect x="215.8" y="230.41" width="25.3" height="2.29" fill="#f7f6f8"/>
<rect x="215.8" y="232.34" width="25.3" height="2.29" fill="#f2d9dd"/>
<rect x="215.8" y="234.28" width="25.3" height="2.29" fill="#f4e1e4"/>
<rect x="215.8" y="236.22" width="25.3" height="2.29" fill="#f7f6f8"/>
<rect x="215.8" y="238.15" width="25.3" height="2.29" fill="#c13743"/>
<rect x="215.8" y="240.09" width="25.3" height="2.29" fill="#f3dde1"/>
<rect x="215.8" y="242.02" width="25.3" height="2.29" fill="#f3dee1"/>
<rect x="215.8" y="243.96" width="25.3" height="2.29" fill="#eabbc1"/>
<rect x="215.8" y="245.89" width="25.3" height="2.29" fill="#f7f6f8"/>
<rect x="215.8" y="247.83" width="25.3" height="2.29" fill="#dd919a"/>
<rect x="215.8" y="249.76" width="25.3" height="2.29" fill="#f1d3d7"/>
<rect x="240.8" y="23.30" width="25.3" height="2.29" fill="#ccdef7"/>
<rect x="240.8" y="25.24" width="25.3" height="2.29" fill="#bad1f5"/>
<rect x="240.8" y="27.17" width="25.3" height="2.29" fill="#d1e1f8"/>
<rect x="240.8" y="29.11" width="25.3" height="2.29" fill="#c3d7f6"/>
<rect x="240.8" y="31.04" width="25.3" height="2.29" fill="#cadcf7"/>
<rect x="240.8" y="32.98" width="25.3" height="2.29" fill="#c9dcf7"/>
<rect x="240.8" y="34.91" width="25.3" height="2.29" fill="#cedff7"/>
<rect x="240.8" y="36.85" width="25.3" height="2.29" fill="#cadcf7"/>
<rect x="240.8" y="38.78" width="25.3" height="2.29" fill="#d1e1f8"/>
<rect x="240.8" y="40.72" width="25.3" height="2.29" fill="#c6d9f6"/>
<rect x="240.8" y="42.66" width="25.3" height="2.29" fill="#d0e0f8"/>
<rect x="240.8" y="44.59" width="25.3" height="2.29" fill="#ccdef7"/>
<rect x="240.8" y="46.53" width="25.3" height="2.29" fill="#ccddf7"/>
<rect x="240.8" y="48.46" width="25.3" height="2.29" fill="#c9dbf7"/>
<rect x="240.8" y="50.40" width="25.3" height="2.29" fill="#d2e1f8"/>
<rect x="240.8" y="52.33" width="25.3" height="2.29" fill="#cddef7"/>
<rect x="240.8" y="54.27" width="25.3" height="2.29" fill="#cbddf7"/>
<rect x="240.8" y="56.21" width="25.3" height="2.29" fill="#d4e3f8"/>
<rect x="240.8" y="58.14" width="25.3" height="2.29" fill="#d5e4f8"/>
<rect x="240.8" y="60.08" width="25.3" height="2.29" fill="#d5e4f8"/>
<rect x="240.8" y="62.01" width="25.3" height="2.29" fill="#d9e6f9"/>
<rect x="240.8" y="63.95" width="25.3" height="2.29" fill="#d8e6f9"/>
<rect x="240.8" y="65.88" width="25.3" height="2.29" fill="#d5e4f8"/>
<rect x="240.8" y="67.82" width="25.3" height="2.29" fill="#e1ebf9"/>
<rect x="240.8" y="69.75" width="25.3" height="2.29" fill="#c9dcf7"/>
<rect x="240.8" y="71.69" width="25.3" height="2.29" fill="#d0e0f8"/>
<rect x="240.8" y="73.63" width="25.3" height="2.29" fill="#c8dbf7"/>
<rect x="240.8" y="75.56" width="25.3" height="2.29" fill="#c8dbf7"/>
<rect x="240.8" y="77.50" width="25.3" height="2.29" fill="#c6d9f6"/>
<rect x="240.8" y="79.43" width="25.3" height="2.29" fill="#cedff7"/>
<rect x="240.8" y="81.37" width="25.3" height="2.29" fill="#cedff7"/>
<rect x="240.8" y="83.30" width="25.3" height="2.29" fill="#cbddf7"/>
<rect x="240.8" y="85.24" width="25.3" height="2.29" fill="#d2e2f8"/>
<rect x="240.8" y="87.17" width="25.3" height="2.29" fill="#ccddf7"/>
<rect x="240.8" y="89.11" width="25.3" height="2.29" fill="#c2d7f6"/>
<rect x="240.8" y="91.05" width="25.3" height="2.29" fill="#d3e2f8"/>
<rect x="240.8" y="92.98" width="25.3" height="2.29" fill="#cddef7"/>
<rect x="240.8" y="94.92" width="25.3" height="2.29" fill="#edc7cc"/>
<rect x="240.8" y="96.85" width="25.3" height="2.29" fill="#dde9f9"/>
<rect x="240.8" y="98.79" width="25.3" height="2.29" fill="#d3e2f8"/>
<rect x="240.8" y="100.72" width="25.3" height="2.29" fill="#ecf0f8"/>
<rect x="240.8" y="102.66" width="25.3" height="2.29" fill="#f7f6f8"/>
<rect x="240.8" y="104.59" width="25.3" height="2.29" fill="#e9eff9"/>
<rect x="240.8" y="106.53" width="25.3" height="2.29" fill="#dbe7f9"/>
<rect x="240.8" y="108.47" width="25.3" height="2.29" fill="#ebf0f8"/>
<rect x="240.8" y="110.40" width="25.3" height="2.29" fill="#d7e5f8"/>
<rect x="240.8" y="112.34" width="25.3" height="2.29" fill="#e5abb3"/>
<rect x="240.8" y="114.27" width="25.3" height="2.29" fill="#e2ebf9"/>
<rect x="240.8" y="116.21" width="25.3" height="2.29" fill="#f0f2f8"/>
<rect x="240.8" y="118.14" width="25.3" height="2.29" fill="#dfeaf9"/>
<rect x="240.8" y="120.08" width="25.3" height="2.29" fill="#f6f5f8"/>
<rect x="240.8" y="122.02" width="25.3" height="2.29" fill="#f2f3f8"/>
<rect x="240.8" y="123.95" width="25.3" height="2.29" fill="#e9eff9"/>
<rect x="240.8" y="125.89" width="25.3" height="2.29" fill="#f6edf0"/>
<rect x="240.8" y="127.82" width="25.3" height="2.29" fill="#cadcf7"/>
<rect x="240.8" y="129.76" width="25.3" height="2.29" fill="#d0e0f8"/>
<rect x="240.8" y="131.69" width="25.3" height="2.29" fill="#d2e1f8"/>
<rect x="240.8" y="133.63" width="25.3" height="2.29" fill="#f5f5f8"/>
<rect x="240.8" y="135.56" width="25.3" height="2.29" fill="#eaeff8"/>
<rect x="240.8" y="137.50" width="25.3" height="2.29" fill="#e5edf9"/>
<rect x="240.8" y="139.44" width="25.3" height="2.29" fill="#eef1f8"/>
<rect x="240.8" y="141.37" width="25.3" height="2.29" fill="#ebf0f8"/>
<rect x="240.8" y="143.31" width="25.3" height="2.29" fill="#f7f6f8"/>
<rect x="240.8" y="145.24" width="25.3" height="2.29" fill="#f7f4f6"/>
<rect x="240.8" y="147.18" width="25.3" height="2.29" fill="#f6f2f5"/>
<rect x="240.8" y="149.11" width="25.3" height="2.29" fill="#f7f6f8"/>
<rect x="240.8" y="151.05" width="25.3" height="2.29" fill="#f3dbdf"/>
<rect x="240.8" y="152.98" width="25.3" height="2.29" fill="#f5e7ea"/>
<rect x="240.8" y="154.92" width="25.3" height="2.29" fill="#f3d9dd"/>
<rect x="240.8" y="156.86" width="25.3" height="2.29" fill="#f4e3e6"/>
<rect x="240.8" y="158.79" width="25.3" height="2.29" fill="#e6b0b7"/>
<rect x="240.8" y="160.73" width="25.3" height="2.29" fill="#edc6cb"/>
<rect x="240.8" y="162.66" width="25.3" height="2.29" fill="#e7eef9"/>
<rect x="240.8" y="164.60" width="25.3" height="2.29" fill="#f7f5f7"/>
<rect x="240.8" y="166.53" width="25.3" height="2.29" fill="#f5f5f8"/>
<rect x="240.8" y="168.47" width="25.3" height="2.29" fill="#f2f3f8"/>
<rect x="240.8" y="170.41" width="25.3" height="2.29" fill="#ccdef7"/>
<rect x="240.8" y="172.34" width="25.3" height="2.29" fill="#e8b6bc"/>
<rect x="240.8" y="174.28" width="25.3" height="2.29" fill="#f3dade"/>
<rect x="240.8" y="176.21" width="25.3" height="2.29" fill="#d67a84"/>
<rect x="240.8" y="178.15" width="25.3" height="2.29" fill="#ecc2c7"/>
<rect x="240.8" y="180.08" width="25.3" height="2.29" fill="#f2d6da"/>
<rect x="240.8" y="182.02" width="25.3" height="2.29" fill="#f4e1e4"/>
<rect x="240.8" y="183.95" width="25.3" height="2.29" fill="#d9e6f9"/>
<rect x="240.8" y="185.89" width="25.3" height="2.29" fill="#f3dee2"/>
<rect x="240.8" y="187.83" width="25.3" height="2.29" fill="#e7b2b9"/>
<rect x="240.8" y="189.76" width="25.3" height="2.29" fill="#f4f4f8"/>
<rect x="240.8" y="191.70" width="25.3" height="2.29" fill="#cb5661"/>
<rect x="240.8" y="193.63" width="25.3" height="2.29" fill="#ca545f"/>
<rect x="240.8" y="195.57" width="25.3" height="2.29" fill="#cd5d67"/>
<rect x="240.8" y="197.50" width="25.3" height="2.29" fill="#de949c"/>
<rect x="240.8" y="199.44" width="25.3" height="2.29" fill="#c64651"/>
<rect x="240.8" y="201.37" width="25.3" height="2.29" fill="#c84d59"/>
<rect x="240.8" y="203.31" width="25.3" height="2.29" fill="#cb5661"/>
<rect x="240.8" y="205.25" width="25.3" height="2.29" fill="#c23a46"/>
<rect x="240.8" y="207.18" width="25.3" height="2.29" fill="#e9b8be"/>
<rect x="240.8" y="209.12" width="25.3" height="2.29" fill="#dc8f98"/>
<rect x="240.8" y="211.05" width="25.3" height="2.29" fill="#db8a93"/>
<rect x="240.8" y="212.99" width="25.3" height="2.29" fill="#e8b5bb"/>
<rect x="240.8" y="214.92" width="25.3" height="2.29" fill="#eabbc1"/>
<rect x="240.8" y="216.86" width="25.3" height="2.29" fill="#e8b6bd"/>
<rect x="240.8" y="218.79" width="25.3" height="2.29" fill="#f2d6da"/>
<rect x="240.8" y="220.73" width="25.3" height="2.29" fill="#e6afb6"/>
<rect x="240.8" y="222.67" width="25.3" height="2.29" fill="#f3dbde"/>
<rect x="240.8" y="224.60" width="25.3" height="2.29" fill="#ce606a"/>
<rect x="240.8" y="226.54" width="25.3" height="2.29" fill="#efccd1"/>
<rect x="240.8" y="228.47" width="25.3" height="2.29" fill="#f1d3d7"/>
<rect x="240.8" y="230.41" width="25.3" height="2.29" fill="#d47680"/>
<rect x="240.8" y="232.34" width="25.3" height="2.29" fill="#e7b4ba"/>
<rect x="240.8" y="234.28" width="25.3" height="2.29" fill="#f7f6f8"/>
<rect x="240.8" y="236.22" width="25.3" height="2.29" fill="#e19fa7"/>
<rect x="240.8" y="238.15" width="25.3" height="2.29" fill="#e19da5"/>
<rect x="240.8" y="240.09" width="25.3" height="2.29" fill="#f6f1f4"/>
<rect x="240.8" y="242.02" width="25.3" height="2.29" fill="#f4e4e7"/>
<rect x="240.8" y="243.96" width="25.3" height="2.29" fill="#efced2"/>
<rect x="240.8" y="245.89" width="25.3" height="2.29" fill="#f4e2e6"/>
<rect x="240.8" y="247.83" width="25.3" height="2.29" fill="#ecc2c7"/>
<rect x="240.8" y="249.76" width="25.3" height="2.29" fill="#f1d3d7"/>
<rect x="265.8" y="23.30" width="25.3" height="2.29" fill="#c9dcf7"/>
<rect x="265.8" y="25.24" width="25.3" height="2.29" fill="#cadcf7"/>
<rect x="265.8" y="27.17" width="25.3" height="2.29" fill="#c3d7f6"/>
<rect x="265.8" y="29.11" width="25.3" height="2.29" fill="#c7daf7"/>
<rect x="265.8" y="31.04" width="25.3" height="2.29" fill="#d1e1f8"/>
<rect x="265.8" y="32.98" width="25.3" height="2.29" fill="#cbddf7"/>
<rect x="265.8" y="34.91" width="25.3" height="2.29" fill="#d1e1f8"/>
<rect x="265.8" y="36.85" width="25.3" height="2.29" fill="#d7e5f8"/>
<rect x="265.8" y="38.78" width="25.3" height="2.29" fill="#c8dbf7"/>
<rect x="265.8" y="40.72" width="25.3" height="2.29" fill="#dde9f9"/>
<rect x="265.8" y="42.66" width="25.3" height="2.29" fill="#d8e5f9"/>
<rect x="265.8" y="44.59" width="25.3" height="2.29" fill="#d5e3f8"/>
<rect x="265.8" y="46.53" width="25.3" height="2.29" fill="#cbddf7"/>
<rect x="265.8" y="48.46" width="25.3" height="2.29" fill="#ccddf7"/>
<rect x="265.8" y="50.40" width="25.3" height="2.29" fill="#ccdef7"/>
<rect x="265.8" y="52.33" width="25.3" height="2.29" fill="#c5d9f6"/>
<rect x="265.8" y="54.27" width="25.3" height="2.29" fill="#b9d1f5"/>
<rect x="265.8" y="56.21" width="25.3" height="2.29" fill="#cedff7"/>
<rect x="265.8" y="58.14" width="25.3" height="2.29" fill="#c9dbf7"/>
<rect x="265.8" y="60.08" width="25.3" height="2.29" fill="#c9dcf7"/>
<rect x="265.8" y="62.01" width="25.3" height="2.29" fill="#d1e1f8"/>
<rect x="265.8" y="63.95" width="25.3" height="2.29" fill="#cfdff7"/>
<rect x="265.8" y="65.88" width="25.3" height="2.29" fill="#cddef7"/>
<rect x="265.8" y="67.82" width="25.3" height="2.29" fill="#cbddf7"/>
<rect x="265.8" y="69.75" width="25.3" height="2.29" fill="#c9dbf7"/>
<rect x="265.8" y="71.69" width="25.3" height="2.29" fill="#cadcf7"/>
<rect x="265.8" y="73.63" width="25.3" height="2.29" fill="#dde8f9"/>
<rect x="265.8" y="75.56" width="25.3" height="2.29" fill="#d0e0f8"/>
<rect x="265.8" y="77.50" width="25.3" height="2.29" fill="#d5e3f8"/>
<rect x="265.8" y="79.43" width="25.3" height="2.29" fill="#d8e5f8"/>
<rect x="265.8" y="81.37" width="25.3" height="2.29" fill="#d7e5f8"/>
<rect x="265.8" y="83.30" width="25.3" height="2.29" fill="#f7f6f8"/>
<rect x="265.8" y="85.24" width="25.3" height="2.29" fill="#d1e1f8"/>
<rect x="265.8" y="87.17" width="25.3" height="2.29" fill="#c6daf6"/>
<rect x="265.8" y="89.11" width="25.3" height="2.29" fill="#cfe0f8"/>
<rect x="265.8" y="91.05" width="25.3" height="2.29" fill="#d7e4f8"/>
<rect x="265.8" y="92.98" width="25.3" height="2.29" fill="#bdd4f5"/>
<rect x="265.8" y="94.92" width="25.3" height="2.29" fill="#dce8f9"/>
<rect x="265.8" y="96.85" width="25.3" height="2.29" fill="#bdd4f5"/>
<rect x="265.8" y="98.79" width="25.3" height="2.29" fill="#cbddf7"/>
<rect x="265.8" y="100.72" width="25.3" height="2.29" fill="#d0e0f8"/>
<rect x="265.8" y="102.66" width="25.3" height="2.29" fill="#dfeaf9"/>
<rect x="265.8" y="104.59" width="25.3" height="2.29" fill="#dbe7f9"/>
<rect x="265.8" y="106.53" width="25.3" height="2.29" fill="#f1f3f8"/>
<rect x="265.8" y="108.47" width="25.3" height="2.29" fill="#e4ecf9"/>
<rect x="265.8" y="110.40" width="25.3" height="2.29" fill="#f7f6f8"/>
<rect x="265.8" y="112.34" width="25.3" height="2.29" fill="#f6f1f3"/>
<rect x="265.8" y="114.27" width="25.3" height="2.29" fill="#f6eff2"/>
<rect x="265.8" y="116.21" width="25.3" height="2.29" fill="#efcbd0"/>
<rect x="265.8" y="118.14" width="25.3" height="2.29" fill="#f6eff1"/>
<rect x="265.8" y="120.08" width="25.3" height="2.29" fill="#f0cfd4"/>
<rect x="265.8" y="122.02" width="25.3" height="2.29" fill="#edc6cb"/>
<rect x="265.8" y="123.95" width="25.3" height="2.29" fill="#f4e4e7"/>
<rect x="265.8" y="125.89" width="25.3" height="2.29" fill="#f7f6f8"/>
<rect x="265.8" y="127.82" width="25.3" height="2.29" fill="#f4e2e5"/>
<rect x="265.8" y="129.76" width="25.3" height="2.29" fill="#e8b7bd"/>
<rect x="265.8" y="131.69" width="25.3" height="2.29" fill="#f2d5d9"/>
<rect x="265.8" y="133.63" width="25.3" height="2.29" fill="#f3dfe3"/>
<rect x="265.8" y="135.56" width="25.3" height="2.29" fill="#f0d1d5"/>
<rect x="265.8" y="137.50" width="25.3" height="2.29" fill="#f2d8dc"/>
<rect x="265.8" y="139.44" width="25.3" height="2.29" fill="#f0cfd3"/>
<rect x="265.8" y="141.37" width="25.3" height="2.29" fill="#f7f6f8"/>
<rect x="265.8" y="143.31" width="25.3" height="2.29" fill="#e3a5ad"/>
<rect x="265.8" y="145.24" width="25.3" height="2.29" fill="#d9e6f9"/>
<rect x="265.8" y="147.18" width="25.3" height="2.29" fill="#f4e0e3"/>
<rect x="265.8" y="149.11" width="25.3" height="2.29" fill="#efcdd2"/>
<rect x="265.8" y="151.05" width="25.3" height="2.29" fill="#f5e9ec"/>
<rect x="265.8" y="152.98" width="25.3" height="2.29" fill="#f4e3e6"/>
<rect x="265.8" y="154.92" width="25.3" height="2.29" fill="#e5acb3"/>
<rect x="265.8" y="156.86" width="25.3" height="2.29" fill="#f3dbde"/>
<rect x="265.8" y="158.79" width="25.3" height="2.29" fill="#f2d8db"/>
<rect x="265.8" y="160.73" width="25.3" height="2.29" fill="#f3dee2"/>
<rect x="265.8" y="162.66" width="25.3" height="2.29" fill="#d3e2f8"/>
<rect x="265.8" y="164.60" width="25.3" height="2.29" fill="#cedff7"/>
<rect x="265.8" y="166.53" width="25.3" height="2.29" fill="#d4e3f8"/>
<rect x="265.8" y="168.47" width="25.3" height="2.29" fill="#d1e1f8"/>
<rect x="265.8" y="170.41" width="25.3" height="2.29" fill="#cddef7"/>
<rect x="265.8" y="172.34" width="25.3" height="2.29" fill="#c9dcf7"/>
<rect x="265.8" y="174.28" width="25.3" height="2.29" fill="#cadcf7"/>
<rect x="265.8" y="176.21" width="25.3" height="2.29" fill="#c8dbf7"/>
<rect x="265.8" y="178.15" width="25.3" height="2.29" fill="#c4d8f6"/>
<rect x="265.8" y="180.08" width="25.3" height="2.29" fill="#dce8f9"/>
<rect x="265.8" y="182.02" width="25.3" height="2.29" fill="#d4e3f8"/>
<rect x="265.8" y="183.95" width="25.3" height="2.29" fill="#d0e0f8"/>
<rect x="265.8" y="185.89" width="25.3" height="2.29" fill="#ecc1c7"/>
<rect x="265.8" y="187.83" width="25.3" height="2.29" fill="#ebc1c6"/>
<rect x="265.8" y="189.76" width="25.3" height="2.29" fill="#f4e1e5"/>
<rect x="265.8" y="191.70" width="25.3" height="2.29" fill="#f2d6da"/>
<rect x="265.8" y="193.63" width="25.3" height="2.29" fill="#b31b24"/>
<rect x="265.8" y="195.57" width="25.3" height="2.29" fill="#bb2a34"/>
<rect x="265.8" y="197.50" width="25.3" height="2.29" fill="#df979f"/>
<rect x="265.8" y="199.44" width="25.3" height="2.29" fill="#be303c"/>
<rect x="265.8" y="201.37" width="25.3" height="2.29" fill="#d16c76"/>
<rect x="265.8" y="203.31" width="25.3" height="2.29" fill="#b31c25"/>
<rect x="265.8" y="205.25" width="25.3" height="2.29" fill="#f6f6f8"/>
<rect x="265.8" y="207.18" width="25.3" height="2.29" fill="#f5eaec"/>
<rect x="265.8" y="209.12" width="25.3" height="2.29" fill="#e0eaf9"/>
<rect x="265.8" y="211.05" width="25.3" height="2.29" fill="#e8b7bd"/>
<rect x="265.8" y="212.99" width="25.3" height="2.29" fill="#e9eff9"/>
<rect x="265.8" y="214.92" width="25.3" height="2.29" fill="#f7f6f8"/>
<rect x="265.8" y="216.86" width="25.3" height="2.29" fill="#f3dbdf"/>
<rect x="265.8" y="218.79" width="25.3" height="2.29" fill="#da8790"/>
<rect x="265.8" y="220.73" width="25.3" height="2.29" fill="#ecc1c7"/>
<rect x="265.8" y="222.67" width="25.3" height="2.29" fill="#e8b5bc"/>
<rect x="265.8" y="224.60" width="25.3" height="2.29" fill="#e7b3ba"/>
<rect x="265.8" y="226.54" width="25.3" height="2.29" fill="#d8828b"/>
<rect x="265.8" y="228.47" width="25.3" height="2.29" fill="#f3dbdf"/>
<rect x="265.8" y="230.41" width="25.3" height="2.29" fill="#e19da6"/>
<rect x="265.8" y="232.34" width="25.3" height="2.29" fill="#da8992"/>
<rect x="265.8" y="234.28" width="25.3" height="2.29" fill="#ecc2c7"/>
<rect x="265.8" y="236.22" width="25.3" height="2.29" fill="#f5e7ea"/>
<rect x="265.8" y="238.15" width="25.3" height="2.29" fill="#e4a8af"/>
<rect x="265.8" y="240.09" width="25.3" height="2.29" fill="#ca5660"/>
<rect x="265.8" y="242.02" width="25.3" height="2.29" fill="#eabcc2"/>
<rect x="265.8" y="243.96" width="25.3" height="2.29" fill="#d57680"/>
<rect x="265.8" y="245.89" width="25.3" height="2.29" fill="#f6f0f2"/>
<rect x="265.8" y="247.83" width="25.3" height="2.29" fill="#f3dde1"/>
<rect x="265.8" y="249.76" width="25.3" height="2.29" fill="#f1d4d8"/>
<rect x="290.9" y="23.30" width="25.3" height="2.29" fill="#dfe9f9"/>
<rect x="290.9" y="25.24" width="25.3" height="2.29" fill="#e6edf9"/>
<rect x="290.9" y="27.17" width="25.3" height="2.29" fill="#d3e2f8"/>
<rect x="290.9" y="29.11" width="25.3" height="2.29" fill="#f6f5f8"/>
<rect x="290.9" y="31.04" width="25.3" height="2.29" fill="#e1ebf9"/>
<rect x="290.9" y="32.98" width="25.3" height="2.29" fill="#d3e2f8"/>
<rect x="290.9" y="34.91" width="25.3" height="2.29" fill="#f1f3f8"/>
<rect x="290.9" y="36.85" width="25.3" height="2.29" fill="#f6f5f8"/>
<rect x="290.9" y="38.78" width="25.3" height="2.29" fill="#d9e6f9"/>
<rect x="290.9" y="40.72" width="25.3" height="2.29" fill="#d9e6f9"/>
<rect x="290.9" y="42.66" width="25.3" height="2.29" fill="#f5e9eb"/>
<rect x="290.9" y="44.59" width="25.3" height="2.29" fill="#f4f5f8"/>
<rect x="290.9" y="46.53" width="25.3" height="2.29" fill="#f5ecee"/>
<rect x="290.9" y="48.46" width="25.3" height="2.29" fill="#ebf0f8"/>
<rect x="290.9" y="50.40" width="25.3" height="2.29" fill="#f7f6f8"/>
<rect x="290.9" y="52.33" width="25.3" height="2.29" fill="#f7f6f8"/>
<rect x="290.9" y="54.27" width="25.3" height="2.29" fill="#f7f5f7"/>
<rect x="290.9" y="56.21" width="25.3" height="2.29" fill="#f0f3f8"/>
<rect x="290.9" y="58.14" width="25.3" height="2.29" fill="#df99a1"/>
<rect x="290.9" y="60.08" width="25.3" height="2.29" fill="#f7f6f8"/>
<rect x="290.9" y="62.01" width="25.3" height="2.29" fill="#f3dbdf"/>
<rect x="290.9" y="63.95" width="25.3" height="2.29" fill="#f5ecee"/>
<rect x="290.9" y="65.88" width="25.3" height="2.29" fill="#f3dbdf"/>
<rect x="290.9" y="67.82" width="25.3" height="2.29" fill="#d9e6f9"/>
<rect x="290.9" y="69.75" width="25.3" height="2.29" fill="#e8eef9"/>
<rect x="290.9" y="71.69" width="25.3" height="2.29" fill="#dae6f9"/>
<rect x="290.9" y="73.63" width="25.3" height="2.29" fill="#e1ebf9"/>
<rect x="290.9" y="75.56" width="25.3" height="2.29" fill="#f7f6f8"/>
<rect x="290.9" y="77.50" width="25.3" height="2.29" fill="#e6edf9"/>
<rect x="290.9" y="79.43" width="25.3" height="2.29" fill="#e3ecf9"/>
<rect x="290.9" y="81.37" width="25.3" height="2.29" fill="#f6f2f4"/>
<rect x="290.9" y="83.30" width="25.3" height="2.29" fill="#c6daf6"/>
<rect x="290.9" y="85.24" width="25.3" height="2.29" fill="#f7f6f8"/>
<rect x="290.9" y="87.17" width="25.3" height="2.29" fill="#c8dbf7"/>
<rect x="290.9" y="89.11" width="25.3" height="2.29" fill="#e5edf9"/>
<rect x="290.9" y="91.05" width="25.3" height="2.29" fill="#dce8f9"/>
<rect x="290.9" y="92.98" width="25.3" height="2.29" fill="#f6f5f8"/>
<rect x="290.9" y="94.92" width="25.3" height="2.29" fill="#f6f3f5"/>
<rect x="290.9" y="96.85" width="25.3" height="2.29" fill="#eef1f8"/>
<rect x="290.9" y="98.79" width="25.3" height="2.29" fill="#d3e2f8"/>
<rect x="290.9" y="100.72" width="25.3" height="2.29" fill="#f6f1f4"/>
<rect x="290.9" y="102.66" width="25.3" height="2.29" fill="#f6f2f4"/>
<rect x="290.9" y="104.59" width="25.3" height="2.29" fill="#e19ea6"/>
<rect x="290.9" y="106.53" width="25.3" height="2.29" fill="#e3a5ad"/>
<rect x="290.9" y="108.47" width="25.3" height="2.29" fill="#ccdef7"/>
<rect x="290.9" y="110.40" width="25.3" height="2.29" fill="#e3ebf9"/>
<rect x="290.9" y="112.34" width="25.3" height="2.29" fill="#c6daf6"/>
<rect x="290.9" y="114.27" width="25.3" height="2.29" fill="#e7b2b9"/>
<rect x="290.9" y="116.21" width="25.3" height="2.29" fill="#ebf0f8"/>
<rect x="290.9" y="118.14" width="25.3" height="2.29" fill="#f4f4f8"/>
<rect x="290.9" y="120.08" width="25.3" height="2.29" fill="#ccdef7"/>
<rect x="290.9" y="122.02" width="25.3" height="2.29" fill="#dbe7f9"/>
<rect x="290.9" y="123.95" width="25.3" height="2.29" fill="#e1eaf9"/>
<rect x="290.9" y="125.89" width="25.3" height="2.29" fill="#d4e3f8"/>
<rect x="290.9" y="127.82" width="25.3" height="2.29" fill="#e3ecf9"/>
<rect x="290.9" y="129.76" width="25.3" height="2.29" fill="#eaf0f8"/>
<rect x="290.9" y="131.69" width="25.3" height="2.29" fill="#f6eff1"/>
<rect x="290.9" y="133.63" width="25.3" height="2.29" fill="#f0ced3"/>
<rect x="290.9" y="135.56" width="25.3" height="2.29" fill="#e3a7ae"/>
<rect x="290.9" y="137.50" width="25.3" height="2.29" fill="#dfeaf9"/>
<rect x="290.9" y="139.44" width="25.3" height="2.29" fill="#f7f6f8"/>
<rect x="290.9" y="141.37" width="25.3" height="2.29" fill="#d2e2f8"/>
<rect x="290.9" y="143.31" width="25.3" height="2.29" fill="#e6edf9"/>
<rect x="290.9" y="145.24" width="25.3" height="2.29" fill="#f7f6f8"/>
<rect x="290.9" y="147.18" width="25.3" height="2.29" fill="#e8b7bd"/>
<rect x="290.9" y="149.11" width="25.3" height="2.29" fill="#f7f5f7"/>
<rect x="290.9" y="151.05" width="25.3" height="2.29" fill="#f7f5f7"/>
<rect x="290.9" y="152.98" width="25.3" height="2.29" fill="#f7f5f7"/>
<rect x="290.9" y="154.92" width="25.3" height="2.29" fill="#f4f5f8"/>
<rect x="290.9" y="156.86" width="25.3" height="2.29" fill="#f7f3f5"/>
<rect x="290.9" y="158.79" width="25.3" height="2.29" fill="#f2f3f8"/>
<rect x="290.9" y="160.73" width="25.3" height="2.29" fill="#f7f6f8"/>
<rect x="290.9" y="162.66" width="25.3" height="2.29" fill="#f6f6f8"/>
<rect x="290.9" y="164.60" width="25.3" height="2.29" fill="#ccdef7"/>
<rect x="290.9" y="166.53" width="25.3" height="2.29" fill="#f1f3f8"/>
<rect x="290.9" y="168.47" width="25.3" height="2.29" fill="#ccdef7"/>
<rect x="290.9" y="170.41" width="25.3" height="2.29" fill="#e7eef9"/>
<rect x="290.9" y="172.34" width="25.3" height="2.29" fill="#ccdef7"/>
<rect x="290.9" y="174.28" width="25.3" height="2.29" fill="#e4ecf9"/>
<rect x="290.9" y="176.21" width="25.3" height="2.29" fill="#ebf0f8"/>
<rect x="290.9" y="178.15" width="25.3" height="2.29" fill="#d7e5f8"/>
<rect x="290.9" y="180.08" width="25.3" height="2.29" fill="#e0eaf9"/>
<rect x="290.9" y="182.02" width="25.3" height="2.29" fill="#e5edf9"/>
<rect x="290.9" y="183.95" width="25.3" height="2.29" fill="#e6edf9"/>
<rect x="290.9" y="185.89" width="25.3" height="2.29" fill="#f6eff1"/>
<rect x="290.9" y="187.83" width="25.3" height="2.29" fill="#f4e5e8"/>
<rect x="290.9" y="189.76" width="25.3" height="2.29" fill="#d78089"/>
<rect x="290.9" y="191.70" width="25.3" height="2.29" fill="#eec9ce"/>
<rect x="290.9" y="193.63" width="25.3" height="2.29" fill="#eec8cd"/>
<rect x="290.9" y="195.57" width="25.3" height="2.29" fill="#d57882"/>
<rect x="290.9" y="197.50" width="25.3" height="2.29" fill="#ebbec4"/>
<rect x="290.9" y="199.44" width="25.3" height="2.29" fill="#f2d7da"/>
<rect x="290.9" y="201.37" width="25.3" height="2.29" fill="#f3dde1"/>
<rect x="290.9" y="203.31" width="25.3" height="2.29" fill="#e8b5bc"/>
<rect x="290.9" y="205.25" width="25.3" height="2.29" fill="#f2d8dc"/>
<rect x="290.9" y="207.18" width="25.3" height="2.29" fill="#ecc1c7"/>
<rect x="290.9" y="209.12" width="25.3" height="2.29" fill="#efcdd2"/>
<rect x="290.9" y="211.05" width="25.3" height="2.29" fill="#f7f6f8"/>
<rect x="290.9" y="212.99" width="25.3" height="2.29" fill="#e5acb3"/>
<rect x="290.9" y="214.92" width="25.3" height="2.29" fill="#f7f5f7"/>
<rect x="290.9" y="216.86" width="25.3" height="2.29" fill="#e5abb2"/>
<rect x="290.9" y="218.79" width="25.3" height="2.29" fill="#f3dbdf"/>
<rect x="290.9" y="220.73" width="25.3" height="2.29" fill="#e2a1a9"/>
<rect x="290.9" y="222.67" width="25.3" height="2.29" fill="#db8c95"/>
<rect x="290.9" y="224.60" width="25.3" height="2.29" fill="#f7f6f8"/>
<rect x="290.9" y="226.54" width="25.3" height="2.29" fill="#e9bac0"/>
<rect x="290.9" y="228.47" width="25.3" height="2.29" fill="#e2a1a9"/>
<rect x="290.9" y="230.41" width="25.3" height="2.29" fill="#efccd1"/>
<rect x="290.9" y="232.34" width="25.3" height="2.29" fill="#e6b0b7"/>
<rect x="290.9" y="234.28" width="25.3" height="2.29" fill="#e7b1b8"/>
<rect x="290.9" y="236.22" width="25.3" height="2.29" fill="#c84f5a"/>
<rect x="290.9" y="238.15" width="25.3" height="2.29" fill="#e09aa2"/>
<rect x="290.9" y="240.09" width="25.3" height="2.29" fill="#e19fa7"/>
<rect x="290.9" y="242.02" width="25.3" height="2.29" fill="#efcdd2"/>
<rect x="290.9" y="243.96" width="25.3" height="2.29" fill="#efcdd2"/>
<rect x="290.9" y="245.89" width="25.3" height="2.29" fill="#da8790"/>
<rect x="290.9" y="247.83" width="25.3" height="2.29" fill="#e5acb3"/>
<rect x="290.9" y="249.76" width="25.3" height="2.29" fill="#f3dadd"/>
<rect x="315.9" y="23.30" width="25.3" height="2.29" fill="#e6edf9"/>
<rect x="315.9" y="25.24" width="25.3" height="2.29" fill="#f4f4f8"/>
<rect x="315.9" y="27.17" width="25.3" height="2.29" fill="#dc8d96"/>
<rect x="315.9" y="29.11" width="25.3" height="2.29" fill="#f7f6f8"/>
<rect x="315.9" y="31.04" width="25.3" height="2.29" fill="#e0eaf9"/>
<rect x="315.9" y="32.98" width="25.3" height="2.29" fill="#eff2f8"/>
<rect x="315.9" y="34.91" width="25.3" height="2.29" fill="#f7f6f8"/>
<rect x="315.9" y="36.85" width="25.3" height="2.29" fill="#e0eaf9"/>
<rect x="315.9" y="38.78" width="25.3" height="2.29" fill="#cfe0f8"/>
<rect x="315.9" y="40.72" width="25.3" height="2.29" fill="#f6f5f8"/>
<rect x="315.9" y="42.66" width="25.3" height="2.29" fill="#e6edf9"/>
<rect x="315.9" y="44.59" width="25.3" height="2.29" fill="#f5e8eb"/>
<rect x="315.9" y="46.53" width="25.3" height="2.29" fill="#e0eaf9"/>
<rect x="315.9" y="48.46" width="25.3" height="2.29" fill="#d6e4f8"/>
<rect x="315.9" y="50.40" width="25.3" height="2.29" fill="#e19fa7"/>
<rect x="315.9" y="52.33" width="25.3" height="2.29" fill="#d9e6f9"/>
<rect x="315.9" y="54.27" width="25.3" height="2.29" fill="#e5edf9"/>
<rect x="315.9" y="56.21" width="25.3" height="2.29" fill="#eef2f8"/>
<rect x="315.9" y="58.14" width="25.3" height="2.29" fill="#f7f6f8"/>
<rect x="315.9" y="60.08" width="25.3" height="2.29" fill="#eec8cd"/>
<rect x="315.9" y="62.01" width="25.3" height="2.29" fill="#f7f3f6"/>
<rect x="315.9" y="63.95" width="25.3" height="2.29" fill="#e0eaf9"/>
<rect x="315.9" y="65.88" width="25.3" height="2.29" fill="#f7f6f8"/>
<rect x="315.9" y="67.82" width="25.3" height="2.29" fill="#f3f4f8"/>
<rect x="315.9" y="69.75" width="25.3" height="2.29" fill="#dde8f9"/>
<rect x="315.9" y="71.69" width="25.3" height="2.29" fill="#e0eaf9"/>
<rect x="315.9" y="73.63" width="25.3" height="2.29" fill="#cedff7"/>
<rect x="315.9" y="75.56" width="25.3" height="2.29" fill="#e7eef9"/>
<rect x="315.9" y="77.50" width="25.3" height="2.29" fill="#d9e6f9"/>
<rect x="315.9" y="79.43" width="25.3" height="2.29" fill="#d6e4f8"/>
<rect x="315.9" y="81.37" width="25.3" height="2.29" fill="#dde9f9"/>
<rect x="315.9" y="83.30" width="25.3" height="2.29" fill="#df9aa2"/>
<rect x="315.9" y="85.24" width="25.3" height="2.29" fill="#dbe7f9"/>
<rect x="315.9" y="87.17" width="25.3" height="2.29" fill="#cadcf7"/>
<rect x="315.9" y="89.11" width="25.3" height="2.29" fill="#d2e2f8"/>
<rect x="315.9" y="91.05" width="25.3" height="2.29" fill="#cedff7"/>
<rect x="315.9" y="92.98" width="25.3" height="2.29" fill="#f7f5f7"/>
<rect x="315.9" y="94.92" width="25.3" height="2.29" fill="#f6f5f8"/>
<rect x="315.9" y="96.85" width="25.3" height="2.29" fill="#f1f3f8"/>
<rect x="315.9" y="98.79" width="25.3" height="2.29" fill="#eef1f8"/>
<rect x="315.9" y="100.72" width="25.3" height="2.29" fill="#e6edf9"/>
<rect x="315.9" y="102.66" width="25.3" height="2.29" fill="#eff2f8"/>
<rect x="315.9" y="104.59" width="25.3" height="2.29" fill="#d8e5f8"/>
<rect x="315.9" y="106.53" width="25.3" height="2.29" fill="#cbddf7"/>
<rect x="315.9" y="108.47" width="25.3" height="2.29" fill="#d5e3f8"/>
<rect x="315.9" y="110.40" width="25.3" height="2.29" fill="#d5e4f8"/>
<rect x="315.9" y="112.34" width="25.3" height="2.29" fill="#bdd4f5"/>
<rect x="315.9" y="114.27" width="25.3" height="2.29" fill="#e09da5"/>
<rect x="315.9" y="116.21" width="25.3" height="2.29" fill="#d2e1f8"/>
<rect x="315.9" y="118.14" width="25.3" height="2.29" fill="#dae7f9"/>
<rect x="315.9" y="120.08" width="25.3" height="2.29" fill="#ccddf7"/>
<rect x="315.9" y="122.02" width="25.3" height="2.29" fill="#c8dbf7"/>
<rect x="315.9" y="123.95" width="25.3" height="2.29" fill="#dee9f9"/>
<rect x="315.9" y="125.89" width="25.3" height="2.29" fill="#d1e1f8"/>
<rect x="315.9" y="127.82" width="25.3" height="2.29" fill="#dbe7f9"/>
<rect x="315.9" y="129.76" width="25.3" height="2.29" fill="#c5d9f6"/>
<rect x="315.9" y="131.69" width="25.3" height="2.29" fill="#d6e4f8"/>
<rect x="315.9" y="133.63" width="25.3" height="2.29" fill="#cddef7"/>
<rect x="315.9" y="135.56" width="25.3" height="2.29" fill="#c9dbf7"/>
<rect x="315.9" y="137.50" width="25.3" height="2.29" fill="#cadcf7"/>
<rect x="315.9" y="139.44" width="25.3" height="2.29" fill="#dbe8f9"/>
<rect x="315.9" y="141.37" width="25.3" height="2.29" fill="#d1e1f8"/>
<rect x="315.9" y="143.31" width="25.3" height="2.29" fill="#eef1f8"/>
<rect x="315.9" y="145.24" width="25.3" height="2.29" fill="#e3ecf9"/>
<rect x="315.9" y="147.18" width="25.3" height="2.29" fill="#cedff7"/>
<rect x="315.9" y="149.11" width="25.3" height="2.29" fill="#eff2f8"/>
<rect x="315.9" y="151.05" width="25.3" height="2.29" fill="#eff2f8"/>
<rect x="315.9" y="152.98" width="25.3" height="2.29" fill="#f2f4f8"/>
<rect x="315.9" y="154.92" width="25.3" height="2.29" fill="#e8eef9"/>
<rect x="315.9" y="156.86" width="25.3" height="2.29" fill="#e8eef9"/>
<rect x="315.9" y="158.79" width="25.3" height="2.29" fill="#e2ebf9"/>
<rect x="315.9" y="160.73" width="25.3" height="2.29" fill="#f6f6f8"/>
<rect x="315.9" y="162.66" width="25.3" height="2.29" fill="#eff2f8"/>
<rect x="315.9" y="164.60" width="25.3" height="2.29" fill="#cddef7"/>
<rect x="315.9" y="166.53" width="25.3" height="2.29" fill="#f2d9dd"/>
<rect x="315.9" y="168.47" width="25.3" height="2.29" fill="#e4ecf9"/>
<rect x="315.9" y="170.41" width="25.3" height="2.29" fill="#dae7f9"/>
<rect x="315.9" y="172.34" width="25.3" height="2.29" fill="#e5edf9"/>
<rect x="315.9" y="174.28" width="25.3" height="2.29" fill="#f7f6f8"/>
<rect x="315.9" y="176.21" width="25.3" height="2.29" fill="#f6eef0"/>
<rect x="315.9" y="178.15" width="25.3" height="2.29" fill="#f4e2e6"/>
<rect x="315.9" y="180.08" width="25.3" height="2.29" fill="#f5f5f8"/>
<rect x="315.9" y="182.02" width="25.3" height="2.29" fill="#f5e9ec"/>
<rect x="315.9" y="183.95" width="25.3" height="2.29" fill="#eaeff8"/>
<rect x="315.9" y="185.89" width="25.3" height="2.29" fill="#f6f1f3"/>
<rect x="315.9" y="187.83" width="25.3" height="2.29" fill="#f0f2f8"/>
<rect x="315.9" y="189.76" width="25.3" height="2.29" fill="#f2d9dc"/>
<rect x="315.9" y="191.70" width="25.3" height="2.29" fill="#f2d6da"/>
<rect x="315.9" y="193.63" width="25.3" height="2.29" fill="#e2ebf9"/>
<rect x="315.9" y="195.57" width="25.3" height="2.29" fill="#d5e3f8"/>
<rect x="315.9" y="197.50" width="25.3" height="2.29" fill="#d0e0f8"/>
<rect x="315.9" y="199.44" width="25.3" height="2.29" fill="#d8e6f9"/>
<rect x="315.9" y="201.37" width="25.3" height="2.29" fill="#d3e2f8"/>
<rect x="315.9" y="203.31" width="25.3" height="2.29" fill="#cfdff7"/>
<rect x="315.9" y="205.25" width="25.3" height="2.29" fill="#eec8cd"/>
<rect x="315.9" y="207.18" width="25.3" height="2.29" fill="#ecc2c7"/>
<rect x="315.9" y="209.12" width="25.3" height="2.29" fill="#eabcc2"/>
<rect x="315.9" y="211.05" width="25.3" height="2.29" fill="#f3dce0"/>
<rect x="315.9" y="212.99" width="25.3" height="2.29" fill="#f3dade"/>
<rect x="315.9" y="214.92" width="25.3" height="2.29" fill="#f4e1e4"/>
<rect x="315.9" y="216.86" width="25.3" height="2.29" fill="#eaeff8"/>
<rect x="315.9" y="218.79" width="25.3" height="2.29" fill="#dbe8f9"/>
<rect x="315.9" y="220.73" width="25.3" height="2.29" fill="#e8eef9"/>
<rect x="315.9" y="222.67" width="25.3" height="2.29" fill="#f0cfd4"/>
<rect x="315.9" y="224.60" width="25.3" height="2.29" fill="#d9e6f9"/>
<rect x="315.9" y="226.54" width="25.3" height="2.29" fill="#f4e1e4"/>
<rect x="315.9" y="228.47" width="25.3" height="2.29" fill="#f7f6f8"/>
<rect x="315.9" y="230.41" width="25.3" height="2.29" fill="#d9e6f9"/>
<rect x="315.9" y="232.34" width="25.3" height="2.29" fill="#f2d6da"/>
<rect x="315.9" y="234.28" width="25.3" height="2.29" fill="#f3dce0"/>
<rect x="315.9" y="236.22" width="25.3" height="2.29" fill="#ebc0c5"/>
<rect x="315.9" y="238.15" width="25.3" height="2.29" fill="#e6afb6"/>
<rect x="315.9" y="240.09" width="25.3" height="2.29" fill="#f7f6f8"/>
<rect x="315.9" y="242.02" width="25.3" height="2.29" fill="#f4e3e6"/>
<rect x="315.9" y="243.96" width="25.3" height="2.29" fill="#ebbec4"/>
<rect x="315.9" y="245.89" width="25.3" height="2.29" fill="#e4a7af"/>
<rect x="315.9" y="247.83" width="25.3" height="2.29" fill="#e8b7bd"/>
<rect x="315.9" y="249.76" width="25.3" height="2.29" fill="#f3dee2"/>
<rect x="340.9" y="23.30" width="25.3" height="2.29" fill="#e7eef9"/>
<rect x="340.9" y="25.24" width="25.3" height="2.29" fill="#eff2f8"/>
<rect x="340.9" y="27.17" width="25.3" height="2.29" fill="#ccdef7"/>
<rect x="340.9" y="29.11" width="25.3" height="2.29" fill="#e3ebf9"/>
<rect x="340.9" y="31.04" width="25.3" height="2.29" fill="#f4f4f8"/>
<rect x="340.9" y="32.98" width="25.3" height="2.29" fill="#ccddf7"/>
<rect x="340.9" y="34.91" width="25.3" height="2.29" fill="#d3e2f8"/>
<rect x="340.9" y="36.85" width="25.3" height="2.29" fill="#f7f6f8"/>
<rect x="340.9" y="38.78" width="25.3" height="2.29" fill="#f3f4f8"/>
<rect x="340.9" y="40.72" width="25.3" height="2.29" fill="#e5edf9"/>
<rect x="340.9" y="42.66" width="25.3" height="2.29" fill="#f7f6f8"/>
<rect x="340.9" y="44.59" width="25.3" height="2.29" fill="#e8eef9"/>
<rect x="340.9" y="46.53" width="25.3" height="2.29" fill="#f0d0d4"/>
<rect x="340.9" y="48.46" width="25.3" height="2.29" fill="#f0f2f8"/>
<rect x="340.9" y="50.40" width="25.3" height="2.29" fill="#eef2f8"/>
<rect x="340.9" y="52.33" width="25.3" height="2.29" fill="#d7e5f8"/>
<rect x="340.9" y="54.27" width="25.3" height="2.29" fill="#e6b0b7"/>
<rect x="340.9" y="56.21" width="25.3" height="2.29" fill="#eef1f8"/>
<rect x="340.9" y="58.14" width="25.3" height="2.29" fill="#d9e6f9"/>
<rect x="340.9" y="60.08" width="25.3" height="2.29" fill="#f1d2d6"/>
<rect x="340.9" y="62.01" width="25.3" height="2.29" fill="#f6f5f8"/>
<rect x="340.9" y="63.95" width="25.3" height="2.29" fill="#f5e8eb"/>
<rect x="340.9" y="65.88" width="25.3" height="2.29" fill="#f6f3f5"/>
<rect x="340.9" y="67.82" width="25.3" height="2.29" fill="#f4e1e5"/>
<rect x="340.9" y="69.75" width="25.3" height="2.29" fill="#f6edf0"/>
<rect x="340.9" y="71.69" width="25.3" height="2.29" fill="#f4f5f8"/>
<rect x="340.9" y="73.63" width="25.3" height="2.29" fill="#f4e3e6"/>
<rect x="340.9" y="75.56" width="25.3" height="2.29" fill="#f5e7ea"/>
<rect x="340.9" y="77.50" width="25.3" height="2.29" fill="#e8eef9"/>
<rect x="340.9" y="79.43" width="25.3" height="2.29" fill="#f3dce0"/>
<rect x="340.9" y="81.37" width="25.3" height="2.29" fill="#e8eef9"/>
<rect x="340.9" y="83.30" width="25.3" height="2.29" fill="#e1ebf9"/>
<rect x="340.9" y="85.24" width="25.3" height="2.29" fill="#e7eef9"/>
<rect x="340.9" y="87.17" width="25.3" height="2.29" fill="#f6eff1"/>
<rect x="340.9" y="89.11" width="25.3" height="2.29" fill="#dce8f9"/>
<rect x="340.9" y="91.05" width="25.3" height="2.29" fill="#eef1f8"/>
<rect x="340.9" y="92.98" width="25.3" height="2.29" fill="#f7f6f8"/>
<rect x="340.9" y="94.92" width="25.3" height="2.29" fill="#dc9099"/>
<rect x="340.9" y="96.85" width="25.3" height="2.29" fill="#eef2f8"/>
<rect x="340.9" y="98.79" width="25.3" height="2.29" fill="#f7f6f8"/>
<rect x="340.9" y="100.72" width="25.3" height="2.29" fill="#eef1f8"/>
<rect x="340.9" y="102.66" width="25.3" height="2.29" fill="#f5ebee"/>
<rect x="340.9" y="104.59" width="25.3" height="2.29" fill="#d0e0f8"/>
<rect x="340.9" y="106.53" width="25.3" height="2.29" fill="#f6eff1"/>
<rect x="340.9" y="108.47" width="25.3" height="2.29" fill="#c3d8f6"/>
<rect x="340.9" y="110.40" width="25.3" height="2.29" fill="#e8eef9"/>
<rect x="340.9" y="112.34" width="25.3" height="2.29" fill="#e3ecf9"/>
<rect x="340.9" y="114.27" width="25.3" height="2.29" fill="#d3e2f8"/>
<rect x="340.9" y="116.21" width="25.3" height="2.29" fill="#dee9f9"/>
<rect x="340.9" y="118.14" width="25.3" height="2.29" fill="#e4ecf9"/>
<rect x="340.9" y="120.08" width="25.3" height="2.29" fill="#dee9f9"/>
<rect x="340.9" y="122.02" width="25.3" height="2.29" fill="#e19fa8"/>
<rect x="340.9" y="123.95" width="25.3" height="2.29" fill="#ecf0f8"/>
<rect x="340.9" y="125.89" width="25.3" height="2.29" fill="#eaeff8"/>
<rect x="340.9" y="127.82" width="25.3" height="2.29" fill="#d9e6f9"/>
<rect x="340.9" y="129.76" width="25.3" height="2.29" fill="#c7daf7"/>
<rect x="340.9" y="131.69" width="25.3" height="2.29" fill="#bdd4f5"/>
<rect x="340.9" y="133.63" width="25.3" height="2.29" fill="#dee9f9"/>
<rect x="340.9" y="135.56" width="25.3" height="2.29" fill="#f7f6f8"/>
<rect x="340.9" y="137.50" width="25.3" height="2.29" fill="#dde9f9"/>
<rect x="340.9" y="139.44" width="25.3" height="2.29" fill="#dde9f9"/>
<rect x="340.9" y="141.37" width="25.3" height="2.29" fill="#f7f6f8"/>
<rect x="340.9" y="143.31" width="25.3" height="2.29" fill="#e0eaf9"/>
<rect x="340.9" y="145.24" width="25.3" height="2.29" fill="#e4ecf9"/>
<rect x="340.9" y="147.18" width="25.3" height="2.29" fill="#eff2f8"/>
<rect x="340.9" y="149.11" width="25.3" height="2.29" fill="#ecc1c7"/>
<rect x="340.9" y="151.05" width="25.3" height="2.29" fill="#ebf0f8"/>
<rect x="340.9" y="152.98" width="25.3" height="2.29" fill="#f3f4f8"/>
<rect x="340.9" y="154.92" width="25.3" height="2.29" fill="#e6b0b7"/>
<rect x="340.9" y="156.86" width="25.3" height="2.29" fill="#f7f6f8"/>
<rect x="340.9" y="158.79" width="25.3" height="2.29" fill="#e09ba3"/>
<rect x="340.9" y="160.73" width="25.3" height="2.29" fill="#eef2f8"/>
<rect x="340.9" y="162.66" width="25.3" height="2.29" fill="#dae6f9"/>
<rect x="340.9" y="164.60" width="25.3" height="2.29" fill="#d0e0f8"/>
<rect x="340.9" y="166.53" width="25.3" height="2.29" fill="#cfe0f8"/>
<rect x="340.9" y="168.47" width="25.3" height="2.29" fill="#f6eef0"/>
<rect x="340.9" y="170.41" width="25.3" height="2.29" fill="#d3e2f8"/>
<rect x="340.9" y="172.34" width="25.3" height="2.29" fill="#d5e3f8"/>
<rect x="340.9" y="174.28" width="25.3" height="2.29" fill="#dde9f9"/>
<rect x="340.9" y="176.21" width="25.3" height="2.29" fill="#e6edf9"/>
<rect x="340.9" y="178.15" width="25.3" height="2.29" fill="#f0f3f8"/>
<rect x="340.9" y="180.08" width="25.3" height="2.29" fill="#edf1f8"/>
<rect x="340.9" y="182.02" width="25.3" height="2.29" fill="#f7f6f8"/>
<rect x="340.9" y="183.95" width="25.3" height="2.29" fill="#f1f3f8"/>
<rect x="340.9" y="185.89" width="25.3" height="2.29" fill="#f6f5f8"/>
<rect x="340.9" y="187.83" width="25.3" height="2.29" fill="#f6eef0"/>
<rect x="340.9" y="189.76" width="25.3" height="2.29" fill="#f6eef1"/>
<rect x="340.9" y="191.70" width="25.3" height="2.29" fill="#f0cfd3"/>
<rect x="340.9" y="193.63" width="25.3" height="2.29" fill="#f4e4e7"/>
<rect x="340.9" y="195.57" width="25.3" height="2.29" fill="#f5e7ea"/>
<rect x="340.9" y="197.50" width="25.3" height="2.29" fill="#f5eaec"/>
<rect x="340.9" y="199.44" width="25.3" height="2.29" fill="#f6eff2"/>
<rect x="340.9" y="201.37" width="25.3" height="2.29" fill="#f4e3e6"/>
<rect x="340.9" y="203.31" width="25.3" height="2.29" fill="#f4e3e6"/>
<rect x="340.9" y="205.25" width="25.3" height="2.29" fill="#e4a8b0"/>
<rect x="340.9" y="207.18" width="25.3" height="2.29" fill="#f2d5d9"/>
<rect x="340.9" y="209.12" width="25.3" height="2.29" fill="#f7f6f8"/>
<rect x="340.9" y="211.05" width="25.3" height="2.29" fill="#de969e"/>
<rect x="340.9" y="212.99" width="25.3" height="2.29" fill="#cc5964"/>
<rect x="340.9" y="214.92" width="25.3" height="2.29" fill="#e4a9b0"/>
<rect x="340.9" y="216.86" width="25.3" height="2.29" fill="#f3dcdf"/>
<rect x="340.9" y="218.79" width="25.3" height="2.29" fill="#f7f6f8"/>
<rect x="340.9" y="220.73" width="25.3" height="2.29" fill="#dc8d96"/>
<rect x="340.9" y="222.67" width="25.3" height="2.29" fill="#d9e6f9"/>
<rect x="340.9" y="224.60" width="25.3" height="2.29" fill="#f3dade"/>
<rect x="340.9" y="226.54" width="25.3" height="2.29" fill="#f2d7db"/>
<rect x="340.9" y="228.47" width="25.3" height="2.29" fill="#e7b3b9"/>
<rect x="340.9" y="230.41" width="25.3" height="2.29" fill="#e6b1b7"/>
<rect x="340.9" y="232.34" width="25.3" height="2.29" fill="#cc5b66"/>
<rect x="340.9" y="234.28" width="25.3" height="2.29" fill="#c74a55"/>
<rect x="340.9" y="236.22" width="25.3" height="2.29" fill="#d9e6f9"/>
<rect x="340.9" y="238.15" width="25.3" height="2.29" fill="#d9e6f9"/>
<rect x="340.9" y="240.09" width="25.3" height="2.29" fill="#d9e6f9"/>
<rect x="340.9" y="242.02" width="25.3" height="2.29" fill="#f3dbde"/>
<rect x="340.9" y="243.96" width="25.3" height="2.29" fill="#edc5ca"/>
<rect x="340.9" y="245.89" width="25.3" height="2.29" fill="#d3717b"/>
<rect x="340.9" y="247.83" width="25.3" height="2.29" fill="#dc8e96"/>
<rect x="340.9" y="249.76" width="25.3" height="2.29" fill="#ebc1c6"/>
<rect x="366.0" y="23.30" width="25.3" height="2.29" fill="#c7daf7"/>
<rect x="366.0" y="25.24" width="25.3" height="2.29" fill="#ccdef7"/>
<rect x="366.0" y="27.17" width="25.3" height="2.29" fill="#e2ebf9"/>
<rect x="366.0" y="29.11" width="25.3" height="2.29" fill="#d9e6f9"/>
<rect x="366.0" y="31.04" width="25.3" height="2.29" fill="#f0f2f8"/>
<rect x="366.0" y="32.98" width="25.3" height="2.29" fill="#e8eef9"/>
<rect x="366.0" y="34.91" width="25.3" height="2.29" fill="#eaeff8"/>
<rect x="366.0" y="36.85" width="25.3" height="2.29" fill="#d1e1f8"/>
<rect x="366.0" y="38.78" width="25.3" height="2.29" fill="#f7f6f8"/>
<rect x="366.0" y="40.72" width="25.3" height="2.29" fill="#f6f5f8"/>
<rect x="366.0" y="42.66" width="25.3" height="2.29" fill="#e9bac0"/>
<rect x="366.0" y="44.59" width="25.3" height="2.29" fill="#dae6f9"/>
<rect x="366.0" y="46.53" width="25.3" height="2.29" fill="#f3f4f8"/>
<rect x="366.0" y="48.46" width="25.3" height="2.29" fill="#cddef7"/>
<rect x="366.0" y="50.40" width="25.3" height="2.29" fill="#d8e6f9"/>
<rect x="366.0" y="52.33" width="25.3" height="2.29" fill="#d3e2f8"/>
<rect x="366.0" y="54.27" width="25.3" height="2.29" fill="#ccdef7"/>
<rect x="366.0" y="56.21" width="25.3" height="2.29" fill="#dfe9f9"/>
<rect x="366.0" y="58.14" width="25.3" height="2.29" fill="#f6eef1"/>
<rect x="366.0" y="60.08" width="25.3" height="2.29" fill="#e4a9b1"/>
<rect x="366.0" y="62.01" width="25.3" height="2.29" fill="#f7f3f5"/>
<rect x="366.0" y="63.95" width="25.3" height="2.29" fill="#f6f1f4"/>
<rect x="366.0" y="65.88" width="25.3" height="2.29" fill="#f3dee2"/>
<rect x="366.0" y="67.82" width="25.3" height="2.29" fill="#f5ecee"/>
<rect x="366.0" y="69.75" width="25.3" height="2.29" fill="#f6f5f8"/>
<rect x="366.0" y="71.69" width="25.3" height="2.29" fill="#f7f6f8"/>
<rect x="366.0" y="73.63" width="25.3" height="2.29" fill="#ecf0f8"/>
<rect x="366.0" y="75.56" width="25.3" height="2.29" fill="#e09da5"/>
<rect x="366.0" y="77.50" width="25.3" height="2.29" fill="#ecf0f8"/>
<rect x="366.0" y="79.43" width="25.3" height="2.29" fill="#e9eff9"/>
<rect x="366.0" y="81.37" width="25.3" height="2.29" fill="#f6eff2"/>
<rect x="366.0" y="83.30" width="25.3" height="2.29" fill="#f7f6f8"/>
<rect x="366.0" y="85.24" width="25.3" height="2.29" fill="#f5e8eb"/>
<rect x="366.0" y="87.17" width="25.3" height="2.29" fill="#f6f6f8"/>
<rect x="366.0" y="89.11" width="25.3" height="2.29" fill="#f4e4e7"/>
<rect x="366.0" y="91.05" width="25.3" height="2.29" fill="#f5ecee"/>
<rect x="366.0" y="92.98" width="25.3" height="2.29" fill="#f1f3f8"/>
<rect x="366.0" y="94.92" width="25.3" height="2.29" fill="#d9e6f9"/>
<rect x="366.0" y="96.85" width="25.3" height="2.29" fill="#f7f6f8"/>
<rect x="366.0" y="98.79" width="25.3" height="2.29" fill="#f5e9eb"/>
<rect x="366.0" y="100.72" width="25.3" height="2.29" fill="#f5e7ea"/>
<rect x="366.0" y="102.66" width="25.3" height="2.29" fill="#f7f6f8"/>
<rect x="366.0" y="104.59" width="25.3" height="2.29" fill="#f6f0f2"/>
<rect x="366.0" y="106.53" width="25.3" height="2.29" fill="#f1d3d7"/>
<rect x="366.0" y="108.47" width="25.3" height="2.29" fill="#e6afb6"/>
<rect x="366.0" y="110.40" width="25.3" height="2.29" fill="#f1d2d6"/>
<rect x="366.0" y="112.34" width="25.3" height="2.29" fill="#f0ced3"/>
<rect x="366.0" y="114.27" width="25.3" height="2.29" fill="#d9848d"/>
<rect x="366.0" y="116.21" width="25.3" height="2.29" fill="#f7f6f8"/>
<rect x="366.0" y="118.14" width="25.3" height="2.29" fill="#e5acb3"/>
<rect x="366.0" y="120.08" width="25.3" height="2.29" fill="#f2f3f8"/>
<rect x="366.0" y="122.02" width="25.3" height="2.29" fill="#f3f4f8"/>
<rect x="366.0" y="123.95" width="25.3" height="2.29" fill="#f4f4f8"/>
<rect x="366.0" y="125.89" width="25.3" height="2.29" fill="#f3f4f8"/>
<rect x="366.0" y="127.82" width="25.3" height="2.29" fill="#f0f2f8"/>
<rect x="366.0" y="129.76" width="25.3" height="2.29" fill="#f6f2f4"/>
<rect x="366.0" y="131.69" width="25.3" height="2.29" fill="#f3dee1"/>
<rect x="366.0" y="133.63" width="25.3" height="2.29" fill="#f6edef"/>
<rect x="366.0" y="135.56" width="25.3" height="2.29" fill="#f6edf0"/>
<rect x="366.0" y="137.50" width="25.3" height="2.29" fill="#f5eaed"/>
<rect x="366.0" y="139.44" width="25.3" height="2.29" fill="#f6f2f4"/>
<rect x="366.0" y="141.37" width="25.3" height="2.29" fill="#f6eef1"/>
<rect x="366.0" y="143.31" width="25.3" height="2.29" fill="#d4737d"/>
<rect x="366.0" y="145.24" width="25.3" height="2.29" fill="#eabdc3"/>
<rect x="366.0" y="147.18" width="25.3" height="2.29" fill="#f4e4e8"/>
<rect x="366.0" y="149.11" width="25.3" height="2.29" fill="#eff2f8"/>
<rect x="366.0" y="151.05" width="25.3" height="2.29" fill="#e5ecf9"/>
<rect x="366.0" y="152.98" width="25.3" height="2.29" fill="#d8e5f9"/>
<rect x="366.0" y="154.92" width="25.3" height="2.29" fill="#e7eef9"/>
<rect x="366.0" y="156.86" width="25.3" height="2.29" fill="#eaeff8"/>
<rect x="366.0" y="158.79" width="25.3" height="2.29" fill="#e5edf9"/>
<rect x="366.0" y="160.73" width="25.3" height="2.29" fill="#ecc2c7"/>
<rect x="366.0" y="162.66" width="25.3" height="2.29" fill="#ccdef7"/>
<rect x="366.0" y="164.60" width="25.3" height="2.29" fill="#eef1f8"/>
<rect x="366.0" y="166.53" width="25.3" height="2.29" fill="#e2ebf9"/>
<rect x="366.0" y="168.47" width="25.3" height="2.29" fill="#f2f3f8"/>
<rect x="366.0" y="170.41" width="25.3" height="2.29" fill="#f7f6f8"/>
<rect x="366.0" y="172.34" width="25.3" height="2.29" fill="#e7eef9"/>
<rect x="366.0" y="174.28" width="25.3" height="2.29" fill="#d9e6f9"/>
<rect x="366.0" y="176.21" width="25.3" height="2.29" fill="#e8b5bb"/>
<rect x="366.0" y="178.15" width="25.3" height="2.29" fill="#dd9099"/>
<rect x="366.0" y="180.08" width="25.3" height="2.29" fill="#f3dfe2"/>
<rect x="366.0" y="182.02" width="25.3" height="2.29" fill="#f3dee1"/>
<rect x="366.0" y="183.95" width="25.3" height="2.29" fill="#ecc2c7"/>
<rect x="366.0" y="185.89" width="25.3" height="2.29" fill="#dc8f98"/>
<rect x="366.0" y="187.83" width="25.3" height="2.29" fill="#eaeff8"/>
<rect x="366.0" y="189.76" width="25.3" height="2.29" fill="#e8eef9"/>
<rect x="366.0" y="191.70" width="25.3" height="2.29" fill="#efccd0"/>
<rect x="366.0" y="193.63" width="25.3" height="2.29" fill="#c5d9f6"/>
<rect x="366.0" y="195.57" width="25.3" height="2.29" fill="#cbddf7"/>
<rect x="366.0" y="197.50" width="25.3" height="2.29" fill="#d1e1f8"/>
<rect x="366.0" y="199.44" width="25.3" height="2.29" fill="#d0e0f8"/>
<rect x="366.0" y="201.37" width="25.3" height="2.29" fill="#c6daf6"/>
<rect x="366.0" y="203.31" width="25.3" height="2.29" fill="#d1e1f8"/>
<rect x="366.0" y="205.25" width="25.3" height="2.29" fill="#ecc2c8"/>
<rect x="366.0" y="207.18" width="25.3" height="2.29" fill="#d8e5f9"/>
<rect x="366.0" y="209.12" width="25.3" height="2.29" fill="#dfe9f9"/>
<rect x="366.0" y="211.05" width="25.3" height="2.29" fill="#d1e1f8"/>
<rect x="366.0" y="212.99" width="25.3" height="2.29" fill="#e3ecf9"/>
<rect x="366.0" y="214.92" width="25.3" height="2.29" fill="#ebf0f8"/>
<rect x="366.0" y="216.86" width="25.3" height="2.29" fill="#c6daf7"/>
<rect x="366.0" y="218.79" width="25.3" height="2.29" fill="#e2ebf9"/>
<rect x="366.0" y="220.73" width="25.3" height="2.29" fill="#dce8f9"/>
<rect x="366.0" y="222.67" width="25.3" height="2.29" fill="#bdd4f5"/>
<rect x="366.0" y="224.60" width="25.3" height="2.29" fill="#c5d9f6"/>
<rect x="366.0" y="226.54" width="25.3" height="2.29" fill="#d9e6f9"/>
<rect x="366.0" y="228.47" width="25.3" height="2.29" fill="#c3d7f6"/>
<rect x="366.0" y="230.41" width="25.3" height="2.29" fill="#cadcf7"/>
<rect x="366.0" y="232.34" width="25.3" height="2.29" fill="#b2ccf4"/>
<rect x="366.0" y="234.28" width="25.3" height="2.29" fill="#a8c5f2"/>
<rect x="366.0" y="236.22" width="25.3" height="2.29" fill="#a5c3f2"/>
<rect x="366.0" y="238.15" width="25.3" height="2.29" fill="#a8c5f2"/>
<rect x="366.0" y="240.09" width="25.3" height="2.29" fill="#bcd3f5"/>
<rect x="366.0" y="242.02" width="25.3" height="2.29" fill="#bad1f5"/>
<rect x="366.0" y="243.96" width="25.3" height="2.29" fill="#bcd3f5"/>
<rect x="366.0" y="245.89" width="25.3" height="2.29" fill="#bad2f5"/>
<rect x="366.0" y="247.83" width="25.3" height="2.29" fill="#c5d9f6"/>
<rect x="366.0" y="249.76" width="25.3" height="2.29" fill="#b3ccf4"/>
<rect x="391.0" y="23.30" width="25.3" height="2.29" fill="#edf1f8"/>
<rect x="391.0" y="25.24" width="25.3" height="2.29" fill="#ebf0f8"/>
<rect x="391.0" y="27.17" width="25.3" height="2.29" fill="#f4e4e7"/>
<rect x="391.0" y="29.11" width="25.3" height="2.29" fill="#eef1f8"/>
<rect x="391.0" y="31.04" width="25.3" height="2.29" fill="#d9e6f9"/>
<rect x="391.0" y="32.98" width="25.3" height="2.29" fill="#f7f6f8"/>
<rect x="391.0" y="34.91" width="25.3" height="2.29" fill="#e9eff9"/>
<rect x="391.0" y="36.85" width="25.3" height="2.29" fill="#f0f3f8"/>
<rect x="391.0" y="38.78" width="25.3" height="2.29" fill="#f4e2e6"/>
<rect x="391.0" y="40.72" width="25.3" height="2.29" fill="#f0f2f8"/>
<rect x="391.0" y="42.66" width="25.3" height="2.29" fill="#f7f6f8"/>
<rect x="391.0" y="44.59" width="25.3" height="2.29" fill="#ecf0f8"/>
<rect x="391.0" y="46.53" width="25.3" height="2.29" fill="#e2ebf9"/>
<rect x="391.0" y="48.46" width="25.3" height="2.29" fill="#e1ebf9"/>
<rect x="391.0" y="50.40" width="25.3" height="2.29" fill="#db8b94"/>
<rect x="391.0" y="52.33" width="25.3" height="2.29" fill="#f1f3f8"/>
<rect x="391.0" y="54.27" width="25.3" height="2.29" fill="#e4aab1"/>
<rect x="391.0" y="56.21" width="25.3" height="2.29" fill="#f3f4f8"/>
<rect x="391.0" y="58.14" width="25.3" height="2.29" fill="#f6f5f8"/>
<rect x="391.0" y="60.08" width="25.3" height="2.29" fill="#e0eaf9"/>
<rect x="391.0" y="62.01" width="25.3" height="2.29" fill="#f3dfe2"/>
<rect x="391.0" y="63.95" width="25.3" height="2.29" fill="#f5e6e9"/>
<rect x="391.0" y="65.88" width="25.3" height="2.29" fill="#ebbfc5"/>
<rect x="391.0" y="67.82" width="25.3" height="2.29" fill="#ecc1c7"/>
<rect x="391.0" y="69.75" width="25.3" height="2.29" fill="#eaeff8"/>
<rect x="391.0" y="71.69" width="25.3" height="2.29" fill="#f5ebee"/>
<rect x="391.0" y="73.63" width="25.3" height="2.29" fill="#d1e1f8"/>
<rect x="391.0" y="75.56" width="25.3" height="2.29" fill="#cfdff7"/>
<rect x="391.0" y="77.50" width="25.3" height="2.29" fill="#e9eff9"/>
<rect x="391.0" y="79.43" width="25.3" height="2.29" fill="#ccdef7"/>
<rect x="391.0" y="81.37" width="25.3" height="2.29" fill="#eaeff8"/>
<rect x="391.0" y="83.30" width="25.3" height="2.29" fill="#e6edf9"/>
<rect x="391.0" y="85.24" width="25.3" height="2.29" fill="#dce8f9"/>
<rect x="391.0" y="87.17" width="25.3" height="2.29" fill="#f3f4f8"/>
<rect x="391.0" y="89.11" width="25.3" height="2.29" fill="#dd919a"/>
<rect x="391.0" y="91.05" width="25.3" height="2.29" fill="#f4e1e4"/>
<rect x="391.0" y="92.98" width="25.3" height="2.29" fill="#eff2f8"/>
<rect x="391.0" y="94.92" width="25.3" height="2.29" fill="#f5e6e9"/>
<rect x="391.0" y="96.85" width="25.3" height="2.29" fill="#f4f4f8"/>
<rect x="391.0" y="98.79" width="25.3" height="2.29" fill="#efccd1"/>
<rect x="391.0" y="100.72" width="25.3" height="2.29" fill="#e19ea6"/>
<rect x="391.0" y="102.66" width="25.3" height="2.29" fill="#f3dfe3"/>
<rect x="391.0" y="104.59" width="25.3" height="2.29" fill="#f4e5e9"/>
<rect x="391.0" y="106.53" width="25.3" height="2.29" fill="#f7f3f5"/>
<rect x="391.0" y="108.47" width="25.3" height="2.29" fill="#f4f5f8"/>
<rect x="391.0" y="110.40" width="25.3" height="2.29" fill="#f7f6f8"/>
<rect x="391.0" y="112.34" width="25.3" height="2.29" fill="#f5e8eb"/>
<rect x="391.0" y="114.27" width="25.3" height="2.29" fill="#dc8d96"/>
<rect x="391.0" y="116.21" width="25.3" height="2.29" fill="#f4e4e7"/>
<rect x="391.0" y="118.14" width="25.3" height="2.29" fill="#f4e3e7"/>
<rect x="391.0" y="120.08" width="25.3" height="2.29" fill="#f5eaec"/>
<rect x="391.0" y="122.02" width="25.3" height="2.29" fill="#f3dce0"/>
<rect x="391.0" y="123.95" width="25.3" height="2.29" fill="#f2d7db"/>
<rect x="391.0" y="125.89" width="25.3" height="2.29" fill="#ecc4c9"/>
<rect x="391.0" y="127.82" width="25.3" height="2.29" fill="#f5f5f8"/>
<rect x="391.0" y="129.76" width="25.3" height="2.29" fill="#d9e6f9"/>
<rect x="391.0" y="131.69" width="25.3" height="2.29" fill="#f7f6f8"/>
<rect x="391.0" y="133.63" width="25.3" height="2.29" fill="#e2ebf9"/>
<rect x="391.0" y="135.56" width="25.3" height="2.29" fill="#d9e6f9"/>
<rect x="391.0" y="137.50" width="25.3" height="2.29" fill="#f6f1f4"/>
<rect x="391.0" y="139.44" width="25.3" height="2.29" fill="#e8eef9"/>
<rect x="391.0" y="141.37" width="25.3" height="2.29" fill="#d7e5f8"/>
<rect x="391.0" y="143.31" width="25.3" height="2.29" fill="#dbe8f9"/>
<rect x="391.0" y="145.24" width="25.3" height="2.29" fill="#f0f3f8"/>
<rect x="391.0" y="147.18" width="25.3" height="2.29" fill="#dde9f9"/>
<rect x="391.0" y="149.11" width="25.3" height="2.29" fill="#ccdef7"/>
<rect x="391.0" y="151.05" width="25.3" height="2.29" fill="#e3a4ac"/>
<rect x="391.0" y="152.98" width="25.3" height="2.29" fill="#e4a7af"/>
<rect x="391.0" y="154.92" width="25.3" height="2.29" fill="#e0eaf9"/>
<rect x="391.0" y="156.86" width="25.3" height="2.29" fill="#dce8f9"/>
<rect x="391.0" y="158.79" width="25.3" height="2.29" fill="#dce8f9"/>
<rect x="391.0" y="160.73" width="25.3" height="2.29" fill="#e5edf9"/>
<rect x="391.0" y="162.66" width="25.3" height="2.29" fill="#d9e6f9"/>
<rect x="391.0" y="164.60" width="25.3" height="2.29" fill="#da8891"/>
<rect x="391.0" y="166.53" width="25.3" height="2.29" fill="#f7f6f8"/>
<rect x="391.0" y="168.47" width="25.3" height="2.29" fill="#e0eaf9"/>
<rect x="391.0" y="170.41" width="25.3" height="2.29" fill="#f7f6f8"/>
<rect x="391.0" y="172.34" width="25.3" height="2.29" fill="#e1ebf9"/>
<rect x="391.0" y="174.28" width="25.3" height="2.29" fill="#ebf0f8"/>
<rect x="391.0" y="176.21" width="25.3" height="2.29" fill="#f7f6f8"/>
<rect x="391.0" y="178.15" width="25.3" height="2.29" fill="#f3dde0"/>
<rect x="391.0" y="180.08" width="25.3" height="2.29" fill="#f3dde1"/>
<rect x="391.0" y="182.02" width="25.3" height="2.29" fill="#e4ecf9"/>
<rect x="391.0" y="183.95" width="25.3" height="2.29" fill="#f4e2e5"/>
<rect x="391.0" y="185.89" width="25.3" height="2.29" fill="#e2ebf9"/>
<rect x="391.0" y="187.83" width="25.3" height="2.29" fill="#f7f6f8"/>
<rect x="391.0" y="189.76" width="25.3" height="2.29" fill="#dfeaf9"/>
<rect x="391.0" y="191.70" width="25.3" height="2.29" fill="#f0f3f8"/>
<rect x="391.0" y="193.63" width="25.3" height="2.29" fill="#f7f6f8"/>
<rect x="391.0" y="195.57" width="25.3" height="2.29" fill="#f3dee2"/>
<rect x="391.0" y="197.50" width="25.3" height="2.29" fill="#e19fa7"/>
<rect x="391.0" y="199.44" width="25.3" height="2.29" fill="#f3dee1"/>
<rect x="391.0" y="201.37" width="25.3" height="2.29" fill="#ecf0f8"/>
<rect x="391.0" y="203.31" width="25.3" height="2.29" fill="#df99a1"/>
<rect x="391.0" y="205.25" width="25.3" height="2.29" fill="#f5e9ec"/>
<rect x="391.0" y="207.18" width="25.3" height="2.29" fill="#f7f6f8"/>
<rect x="391.0" y="209.12" width="25.3" height="2.29" fill="#eef1f8"/>
<rect x="391.0" y="211.05" width="25.3" height="2.29" fill="#dee9f9"/>
<rect x="391.0" y="212.99" width="25.3" height="2.29" fill="#f6f6f8"/>
<rect x="391.0" y="214.92" width="25.3" height="2.29" fill="#eec9ce"/>
<rect x="391.0" y="216.86" width="25.3" height="2.29" fill="#f7f4f6"/>
<rect x="391.0" y="218.79" width="25.3" height="2.29" fill="#e2a1a9"/>
<rect x="391.0" y="220.73" width="25.3" height="2.29" fill="#d77d86"/>
<rect x="391.0" y="222.67" width="25.3" height="2.29" fill="#da8891"/>
<rect x="391.0" y="224.60" width="25.3" height="2.29" fill="#f7f5f7"/>
<rect x="391.0" y="226.54" width="25.3" height="2.29" fill="#f4e3e7"/>
<rect x="391.0" y="228.47" width="25.3" height="2.29" fill="#d9e6f9"/>
<rect x="391.0" y="230.41" width="25.3" height="2.29" fill="#ccdef7"/>
<rect x="391.0" y="232.34" width="25.3" height="2.29" fill="#d9e6f9"/>
<rect x="391.0" y="234.28" width="25.3" height="2.29" fill="#dfe9f9"/>
<rect x="391.0" y="236.22" width="25.3" height="2.29" fill="#bfd5f6"/>
<rect x="391.0" y="238.15" width="25.3" height="2.29" fill="#d1e1f8"/>
<rect x="391.0" y="240.09" width="25.3" height="2.29" fill="#c9dcf7"/>
<rect x="391.0" y="242.02" width="25.3" height="2.29" fill="#c4d9f6"/>
<rect x="391.0" y="243.96" width="25.3" height="2.29" fill="#cddef7"/>
<rect x="391.0" y="245.89" width="25.3" height="2.29" fill="#c2d7f6"/>
<rect x="391.0" y="247.83" width="25.3" height="2.29" fill="#c7daf7"/>
<rect x="391.0" y="249.76" width="25.3" height="2.29" fill="#d5e4f8"/>
<rect x="416.0" y="23.30" width="25.3" height="2.29" fill="#eaeff8"/>
<rect x="416.0" y="25.24" width="25.3" height="2.29" fill="#eef2f8"/>
<rect x="416.0" y="27.17" width="25.3" height="2.29" fill="#ccdef7"/>
<rect x="416.0" y="29.11" width="25.3" height="2.29" fill="#d0e0f8"/>
<rect x="416.0" y="31.04" width="25.3" height="2.29" fill="#e7eef9"/>
<rect x="416.0" y="32.98" width="25.3" height="2.29" fill="#eff2f8"/>
<rect x="416.0" y="34.91" width="25.3" height="2.29" fill="#e6edf9"/>
<rect x="416.0" y="36.85" width="25.3" height="2.29" fill="#e7eef9"/>
<rect x="416.0" y="38.78" width="25.3" height="2.29" fill="#ebbfc5"/>
<rect x="416.0" y="40.72" width="25.3" height="2.29" fill="#df979f"/>
<rect x="416.0" y="42.66" width="25.3" height="2.29" fill="#efccd0"/>
<rect x="416.0" y="44.59" width="25.3" height="2.29" fill="#da8790"/>
<rect x="416.0" y="46.53" width="25.3" height="2.29" fill="#ccdef7"/>
<rect x="416.0" y="48.46" width="25.3" height="2.29" fill="#e2ebf9"/>
<rect x="416.0" y="50.40" width="25.3" height="2.29" fill="#ecc2c7"/>
<rect x="416.0" y="52.33" width="25.3" height="2.29" fill="#f1f3f8"/>
<rect x="416.0" y="54.27" width="25.3" height="2.29" fill="#ccddf7"/>
<rect x="416.0" y="56.21" width="25.3" height="2.29" fill="#d4e3f8"/>
<rect x="416.0" y="58.14" width="25.3" height="2.29" fill="#f7f5f7"/>
<rect x="416.0" y="60.08" width="25.3" height="2.29" fill="#f7f6f8"/>
<rect x="416.0" y="62.01" width="25.3" height="2.29" fill="#e7eef9"/>
<rect x="416.0" y="63.95" width="25.3" height="2.29" fill="#e5ecf9"/>
<rect x="416.0" y="65.88" width="25.3" height="2.29" fill="#f2f3f8"/>
<rect x="416.0" y="67.82" width="25.3" height="2.29" fill="#e4aab1"/>
<rect x="416.0" y="69.75" width="25.3" height="2.29" fill="#f0cfd4"/>
<rect x="416.0" y="71.69" width="25.3" height="2.29" fill="#da8790"/>
<rect x="416.0" y="73.63" width="25.3" height="2.29" fill="#f4e1e4"/>
<rect x="416.0" y="75.56" width="25.3" height="2.29" fill="#ca545f"/>
<rect x="416.0" y="77.50" width="25.3" height="2.29" fill="#f7f4f6"/>
<rect x="416.0" y="79.43" width="25.3" height="2.29" fill="#f5ebee"/>
<rect x="416.0" y="81.37" width="25.3" height="2.29" fill="#e9eff9"/>
<rect x="416.0" y="83.30" width="25.3" height="2.29" fill="#edf1f8"/>
<rect x="416.0" y="85.24" width="25.3" height="2.29" fill="#f6eff1"/>
<rect x="416.0" y="87.17" width="25.3" height="2.29" fill="#f0ced3"/>
<rect x="416.0" y="89.11" width="25.3" height="2.29" fill="#f7f6f8"/>
<rect x="416.0" y="91.05" width="25.3" height="2.29" fill="#f7f6f8"/>
<rect x="416.0" y="92.98" width="25.3" height="2.29" fill="#f4e4e8"/>
<rect x="416.0" y="94.92" width="25.3" height="2.29" fill="#ecc2c7"/>
<rect x="416.0" y="96.85" width="25.3" height="2.29" fill="#f7f3f5"/>
<rect x="416.0" y="98.79" width="25.3" height="2.29" fill="#e7b1b8"/>
<rect x="416.0" y="100.72" width="25.3" height="2.29" fill="#f2d5d9"/>
<rect x="416.0" y="102.66" width="25.3" height="2.29" fill="#f3d9dd"/>
<rect x="416.0" y="104.59" width="25.3" height="2.29" fill="#e9b9c0"/>
<rect x="416.0" y="106.53" width="25.3" height="2.29" fill="#e7eef9"/>
<rect x="416.0" y="108.47" width="25.3" height="2.29" fill="#f6f5f8"/>
<rect x="416.0" y="110.40" width="25.3" height="2.29" fill="#eff2f8"/>
<rect x="416.0" y="112.34" width="25.3" height="2.29" fill="#edc5ca"/>
<rect x="416.0" y="114.27" width="25.3" height="2.29" fill="#f3dde0"/>
<rect x="416.0" y="116.21" width="25.3" height="2.29" fill="#f7f5f7"/>
<rect x="416.0" y="118.14" width="25.3" height="2.29" fill="#f5e8eb"/>
<rect x="416.0" y="120.08" width="25.3" height="2.29" fill="#f6f2f4"/>
<rect x="416.0" y="122.02" width="25.3" height="2.29" fill="#e4aab1"/>
<rect x="416.0" y="123.95" width="25.3" height="2.29" fill="#f7f6f8"/>
<rect x="416.0" y="125.89" width="25.3" height="2.29" fill="#f7f6f8"/>
<rect x="416.0" y="127.82" width="25.3" height="2.29" fill="#f6eef1"/>
<rect x="416.0" y="129.76" width="25.3" height="2.29" fill="#f3dbdf"/>
<rect x="416.0" y="131.69" width="25.3" height="2.29" fill="#f6f6f8"/>
<rect x="416.0" y="133.63" width="25.3" height="2.29" fill="#e9eff9"/>
<rect x="416.0" y="135.56" width="25.3" height="2.29" fill="#ebf0f8"/>
<rect x="416.0" y="137.50" width="25.3" height="2.29" fill="#eabcc2"/>
<rect x="416.0" y="139.44" width="25.3" height="2.29" fill="#f5e7ea"/>
<rect x="416.0" y="141.37" width="25.3" height="2.29" fill="#e8eef9"/>
<rect x="416.0" y="143.31" width="25.3" height="2.29" fill="#f3dee2"/>
<rect x="416.0" y="145.24" width="25.3" height="2.29" fill="#edf1f8"/>
<rect x="416.0" y="147.18" width="25.3" height="2.29" fill="#f4e5e8"/>
<rect x="416.0" y="149.11" width="25.3" height="2.29" fill="#f5f5f8"/>
<rect x="416.0" y="151.05" width="25.3" height="2.29" fill="#dce8f9"/>
<rect x="416.0" y="152.98" width="25.3" height="2.29" fill="#e2a3aa"/>
<rect x="416.0" y="154.92" width="25.3" height="2.29" fill="#d5e4f8"/>
<rect x="416.0" y="156.86" width="25.3" height="2.29" fill="#f3f4f8"/>
<rect x="416.0" y="158.79" width="25.3" height="2.29" fill="#d3e2f8"/>
<rect x="416.0" y="160.73" width="25.3" height="2.29" fill="#f0f3f8"/>
<rect x="416.0" y="162.66" width="25.3" height="2.29" fill="#ebbfc5"/>
<rect x="416.0" y="164.60" width="25.3" height="2.29" fill="#f1f3f8"/>
<rect x="416.0" y="166.53" width="25.3" height="2.29" fill="#e2ebf9"/>
<rect x="416.0" y="168.47" width="25.3" height="2.29" fill="#eabdc3"/>
<rect x="416.0" y="170.41" width="25.3" height="2.29" fill="#ccdef7"/>
<rect x="416.0" y="172.34" width="25.3" height="2.29" fill="#d0e0f8"/>
<rect x="416.0" y="174.28" width="25.3" height="2.29" fill="#f2d5d9"/>
<rect x="416.0" y="176.21" width="25.3" height="2.29" fill="#f3dce0"/>
<rect x="416.0" y="178.15" width="25.3" height="2.29" fill="#f7f6f8"/>
<rect x="416.0" y="180.08" width="25.3" height="2.29" fill="#cb5661"/>
<rect x="416.0" y="182.02" width="25.3" height="2.29" fill="#f7f6f8"/>
<rect x="416.0" y="183.95" width="25.3" height="2.29" fill="#f4e1e5"/>
<rect x="416.0" y="185.89" width="25.3" height="2.29" fill="#e3ecf9"/>
<rect x="416.0" y="187.83" width="25.3" height="2.29" fill="#dde8f9"/>
<rect x="416.0" y="189.76" width="25.3" height="2.29" fill="#dbe7f9"/>
<rect x="416.0" y="191.70" width="25.3" height="2.29" fill="#c4d8f6"/>
<rect x="416.0" y="193.63" width="25.3" height="2.29" fill="#e5edf9"/>
<rect x="416.0" y="195.57" width="25.3" height="2.29" fill="#ccdef7"/>
<rect x="416.0" y="197.50" width="25.3" height="2.29" fill="#f6f1f3"/>
<rect x="416.0" y="199.44" width="25.3" height="2.29" fill="#c4d8f6"/>
<rect x="416.0" y="201.37" width="25.3" height="2.29" fill="#ccdef7"/>
<rect x="416.0" y="203.31" width="25.3" height="2.29" fill="#dee9f9"/>
<rect x="416.0" y="205.25" width="25.3" height="2.29" fill="#d9e6f9"/>
<rect x="416.0" y="207.18" width="25.3" height="2.29" fill="#f0f2f8"/>
<rect x="416.0" y="209.12" width="25.3" height="2.29" fill="#eff2f8"/>
<rect x="416.0" y="211.05" width="25.3" height="2.29" fill="#f6f6f8"/>
<rect x="416.0" y="212.99" width="25.3" height="2.29" fill="#f5f5f8"/>
<rect x="416.0" y="214.92" width="25.3" height="2.29" fill="#f6edf0"/>
<rect x="416.0" y="216.86" width="25.3" height="2.29" fill="#d7e5f8"/>
<rect x="416.0" y="218.79" width="25.3" height="2.29" fill="#cddef7"/>
<rect x="416.0" y="220.73" width="25.3" height="2.29" fill="#eff2f8"/>
<rect x="416.0" y="222.67" width="25.3" height="2.29" fill="#e1eaf9"/>
<rect x="416.0" y="224.60" width="25.3" height="2.29" fill="#e9b9bf"/>
<rect x="416.0" y="226.54" width="25.3" height="2.29" fill="#e9b8bf"/>
<rect x="416.0" y="228.47" width="25.3" height="2.29" fill="#d7e5f8"/>
<rect x="416.0" y="230.41" width="25.3" height="2.29" fill="#d8e5f9"/>
<rect x="416.0" y="232.34" width="25.3" height="2.29" fill="#f1d4d8"/>
<rect x="416.0" y="234.28" width="25.3" height="2.29" fill="#d5e4f8"/>
<rect x="416.0" y="236.22" width="25.3" height="2.29" fill="#d9e6f9"/>
<rect x="416.0" y="238.15" width="25.3" height="2.29" fill="#ebbec4"/>
<rect x="416.0" y="240.09" width="25.3" height="2.29" fill="#d6e4f8"/>
<rect x="416.0" y="242.02" width="25.3" height="2.29" fill="#d5e4f8"/>
<rect x="416.0" y="243.96" width="25.3" height="2.29" fill="#d0e0f8"/>
<rect x="416.0" y="245.89" width="25.3" height="2.29" fill="#c7dbf7"/>
<rect x="416.0" y="247.83" width="25.3" height="2.29" fill="#cedff7"/>
<rect x="416.0" y="249.76" width="25.3" height="2.29" fill="#d4e3f8"/>
<rect x="441.1" y="23.30" width="25.3" height="2.29" fill="#c13743"/>
<rect x="441.1" y="25.24" width="25.3" height="2.29" fill="#c84d58"/>
<rect x="441.1" y="27.17" width="25.3" height="2.29" fill="#d9868f"/>
<rect x="441.1" y="29.11" width="25.3" height="2.29" fill="#c4424d"/>
<rect x="441.1" y="31.04" width="25.3" height="2.29" fill="#bf313d"/>
<rect x="441.1" y="32.98" width="25.3" height="2.29" fill="#d9868f"/>
<rect x="441.1" y="34.91" width="25.3" height="2.29" fill="#cd5e69"/>
<rect x="441.1" y="36.85" width="25.3" height="2.29" fill="#cd5d68"/>
<rect x="441.1" y="38.78" width="25.3" height="2.29" fill="#c13844"/>
<rect x="441.1" y="40.72" width="25.3" height="2.29" fill="#d9868f"/>
<rect x="441.1" y="42.66" width="25.3" height="2.29" fill="#c74b56"/>
<rect x="441.1" y="44.59" width="25.3" height="2.29" fill="#bf323e"/>
<rect x="441.1" y="46.53" width="25.3" height="2.29" fill="#be313d"/>
<rect x="441.1" y="48.46" width="25.3" height="2.29" fill="#d9868f"/>
<rect x="441.1" y="50.40" width="25.3" height="2.29" fill="#d9868f"/>
<rect x="441.1" y="52.33" width="25.3" height="2.29" fill="#d9868f"/>
<rect x="441.1" y="54.27" width="25.3" height="2.29" fill="#c13642"/>
<rect x="441.1" y="56.21" width="25.3" height="2.29" fill="#b92731"/>
<rect x="441.1" y="58.14" width="25.3" height="2.29" fill="#c23945"/>
<rect x="441.1" y="60.08" width="25.3" height="2.29" fill="#be313c"/>
<rect x="441.1" y="62.01" width="25.3" height="2.29" fill="#bb2b36"/>
<rect x="441.1" y="63.95" width="25.3" height="2.29" fill="#d9868f"/>
<rect x="441.1" y="65.88" width="25.3" height="2.29" fill="#c03440"/>
<rect x="441.1" y="67.82" width="25.3" height="2.29" fill="#c33e4a"/>
<rect x="441.1" y="69.75" width="25.3" height="2.29" fill="#d9868f"/>
<rect x="441.1" y="71.69" width="25.3" height="2.29" fill="#d9868f"/>
<rect x="441.1" y="73.63" width="25.3" height="2.29" fill="#c03440"/>
<rect x="441.1" y="75.56" width="25.3" height="2.29" fill="#bc2c37"/>
<rect x="441.1" y="77.50" width="25.3" height="2.29" fill="#bc2c37"/>
<rect x="441.1" y="79.43" width="25.3" height="2.29" fill="#d9868f"/>
<rect x="441.1" y="81.37" width="25.3" height="2.29" fill="#c03440"/>
<rect x="441.1" y="83.30" width="25.3" height="2.29" fill="#c64954"/>
<rect x="441.1" y="85.24" width="25.3" height="2.29" fill="#cb5661"/>
<rect x="441.1" y="87.17" width="25.3" height="2.29" fill="#d9868f"/>
<rect x="441.1" y="89.11" width="25.3" height="2.29" fill="#cc5964"/>
<rect x="441.1" y="91.05" width="25.3" height="2.29" fill="#c4414d"/>
<rect x="441.1" y="92.98" width="25.3" height="2.29" fill="#c13843"/>
<rect x="441.1" y="94.92" width="25.3" height="2.29" fill="#be303c"/>
<rect x="441.1" y="96.85" width="25.3" height="2.29" fill="#c4424e"/>
<rect x="441.1" y="98.79" width="25.3" height="2.29" fill="#c33d48"/>
<rect x="441.1" y="100.72" width="25.3" height="2.29" fill="#bf323e"/>
<rect x="441.1" y="102.66" width="25.3" height="2.29" fill="#c13743"/>
<rect x="441.1" y="104.59" width="25.3" height="2.29" fill="#be2f3b"/>
<rect x="441.1" y="106.53" width="25.3" height="2.29" fill="#c64853"/>
<rect x="441.1" y="108.47" width="25.3" height="2.29" fill="#c4414d"/>
<rect x="441.1" y="110.40" width="25.3" height="2.29" fill="#d16a74"/>
<rect x="441.1" y="112.34" width="25.3" height="2.29" fill="#d9868f"/>
<rect x="441.1" y="114.27" width="25.3" height="2.29" fill="#c03440"/>
<rect x="441.1" y="116.21" width="25.3" height="2.29" fill="#c5444f"/>
<rect x="441.1" y="118.14" width="25.3" height="2.29" fill="#c13844"/>
<rect x="441.1" y="120.08" width="25.3" height="2.29" fill="#ecc3c8"/>
<rect x="441.1" y="122.02" width="25.3" height="2.29" fill="#bc2d38"/>
<rect x="441.1" y="123.95" width="25.3" height="2.29" fill="#c03541"/>
<rect x="441.1" y="125.89" width="25.3" height="2.29" fill="#c5444f"/>
<rect x="441.1" y="127.82" width="25.3" height="2.29" fill="#ecc3c8"/>
<rect x="441.1" y="129.76" width="25.3" height="2.29" fill="#c23a45"/>
<rect x="441.1" y="131.69" width="25.3" height="2.29" fill="#bf333e"/>
<rect x="441.1" y="133.63" width="25.3" height="2.29" fill="#c9505b"/>
<rect x="441.1" y="135.56" width="25.3" height="2.29" fill="#bd2e39"/>
<rect x="441.1" y="137.50" width="25.3" height="2.29" fill="#cc5a65"/>
<rect x="441.1" y="139.44" width="25.3" height="2.29" fill="#b92630"/>
<rect x="441.1" y="141.37" width="25.3" height="2.29" fill="#be313c"/>
<rect x="441.1" y="143.31" width="25.3" height="2.29" fill="#c33f4b"/>
<rect x="441.1" y="145.24" width="25.3" height="2.29" fill="#bc2c37"/>
<rect x="441.1" y="147.18" width="25.3" height="2.29" fill="#c13844"/>
<rect x="441.1" y="149.11" width="25.3" height="2.29" fill="#cf646e"/>
<rect x="441.1" y="151.05" width="25.3" height="2.29" fill="#c33f4b"/>
<rect x="441.1" y="152.98" width="25.3" height="2.29" fill="#c33f4a"/>
<rect x="441.1" y="154.92" width="25.3" height="2.29" fill="#c54551"/>
<rect x="441.1" y="156.86" width="25.3" height="2.29" fill="#c23a46"/>
<rect x="441.1" y="158.79" width="25.3" height="2.29" fill="#d9868f"/>
<rect x="441.1" y="160.73" width="25.3" height="2.29" fill="#c13844"/>
<rect x="441.1" y="162.66" width="25.3" height="2.29" fill="#c33c48"/>
<rect x="441.1" y="164.60" width="25.3" height="2.29" fill="#ce616c"/>
<rect x="441.1" y="166.53" width="25.3" height="2.29" fill="#b82630"/>
<rect x="441.1" y="168.47" width="25.3" height="2.29" fill="#be313c"/>
<rect x="441.1" y="170.41" width="25.3" height="2.29" fill="#be303b"/>
<rect x="441.1" y="172.34" width="25.3" height="2.29" fill="#d9868f"/>
<rect x="441.1" y="174.28" width="25.3" height="2.29" fill="#d9868f"/>
<rect x="441.1" y="176.21" width="25.3" height="2.29" fill="#ecc3c8"/>
<rect x="441.1" y="178.15" width="25.3" height="2.29" fill="#cc5964"/>
<rect x="441.1" y="180.08" width="25.3" height="2.29" fill="#ca545f"/>
<rect x="441.1" y="182.02" width="25.3" height="2.29" fill="#ecc3c8"/>
<rect x="441.1" y="183.95" width="25.3" height="2.29" fill="#b7232d"/>
<rect x="441.1" y="185.89" width="25.3" height="2.29" fill="#de959e"/>
<rect x="441.1" y="187.83" width="25.3" height="2.29" fill="#f7f6f8"/>
<rect x="441.1" y="189.76" width="25.3" height="2.29" fill="#d26d77"/>
<rect x="441.1" y="191.70" width="25.3" height="2.29" fill="#ecc4c9"/>
<rect x="441.1" y="193.63" width="25.3" height="2.29" fill="#b7d0f5"/>
<rect x="441.1" y="195.57" width="25.3" height="2.29" fill="#aec9f3"/>
<rect x="441.1" y="197.50" width="25.3" height="2.29" fill="#acc8f3"/>
<rect x="441.1" y="199.44" width="25.3" height="2.29" fill="#dce8f9"/>
<rect x="441.1" y="201.37" width="25.3" height="2.29" fill="#dce8f9"/>
<rect x="441.1" y="203.31" width="25.3" height="2.29" fill="#96b9f0"/>
<rect x="441.1" y="205.25" width="25.3" height="2.29" fill="#bed4f5"/>
<rect x="441.1" y="207.18" width="25.3" height="2.29" fill="#83aced"/>
<rect x="441.1" y="209.12" width="25.3" height="2.29" fill="#88b0ee"/>
<rect x="441.1" y="211.05" width="25.3" height="2.29" fill="#7ba7ec"/>
<rect x="441.1" y="212.99" width="25.3" height="2.29" fill="#89b0ee"/>
<rect x="441.1" y="214.92" width="25.3" height="2.29" fill="#7ba7ec"/>
<rect x="441.1" y="216.86" width="25.3" height="2.29" fill="#94b8f0"/>
<rect x="441.1" y="218.79" width="25.3" height="2.29" fill="#7fa9ed"/>
<rect x="441.1" y="220.73" width="25.3" height="2.29" fill="#87afee"/>
<rect x="441.1" y="222.67" width="25.3" height="2.29" fill="#a1c0f1"/>
<rect x="441.1" y="224.60" width="25.3" height="2.29" fill="#bed4f5"/>
<rect x="441.1" y="226.54" width="25.3" height="2.29" fill="#8eb4ef"/>
<rect x="441.1" y="228.47" width="25.3" height="2.29" fill="#bbd2f5"/>
<rect x="441.1" y="230.41" width="25.3" height="2.29" fill="#7aa6ec"/>
<rect x="441.1" y="232.34" width="25.3" height="2.29" fill="#73a0ea"/>
<rect x="441.1" y="234.28" width="25.3" height="2.29" fill="#a1c1f1"/>
<rect x="441.1" y="236.22" width="25.3" height="2.29" fill="#9abcf0"/>
<rect x="441.1" y="238.15" width="25.3" height="2.29" fill="#81abed"/>
<rect x="441.1" y="240.09" width="25.3" height="2.29" fill="#79a5ec"/>
<rect x="441.1" y="242.02" width="25.3" height="2.29" fill="#7ca8ec"/>
<rect x="441.1" y="243.96" width="25.3" height="2.29" fill="#84aded"/>
<rect x="441.1" y="245.89" width="25.3" height="2.29" fill="#9cbdf1"/>
<rect x="441.1" y="247.83" width="25.3" height="2.29" fill="#84aded"/>
<rect x="441.1" y="249.76" width="25.3" height="2.29" fill="#88afee"/>
<rect x="466.1" y="23.30" width="25.3" height="2.29" fill="#b21a23"/>
<rect x="466.1" y="25.24" width="25.3" height="2.29" fill="#bc2d38"/>
<rect x="466.1" y="27.17" width="25.3" height="2.29" fill="#be313d"/>
<rect x="466.1" y="29.11" width="25.3" height="2.29" fill="#b92731"/>
<rect x="466.1" y="31.04" width="25.3" height="2.29" fill="#b6222b"/>
<rect x="466.1" y="32.98" width="25.3" height="2.29" fill="#b41d26"/>
<rect x="466.1" y="34.91" width="25.3" height="2.29" fill="#b21a22"/>
<rect x="466.1" y="36.85" width="25.3" height="2.29" fill="#b8252f"/>
<rect x="466.1" y="38.78" width="25.3" height="2.29" fill="#ba2833"/>
<rect x="466.1" y="40.72" width="25.3" height="2.29" fill="#b52029"/>
<rect x="466.1" y="42.66" width="25.3" height="2.29" fill="#d26f78"/>
<rect x="466.1" y="44.59" width="25.3" height="2.29" fill="#b21a22"/>
<rect x="466.1" y="46.53" width="25.3" height="2.29" fill="#b0171f"/>
<rect x="466.1" y="48.46" width="25.3" height="2.29" fill="#b31c25"/>
<rect x="466.1" y="50.40" width="25.3" height="2.29" fill="#bd2e39"/>
<rect x="466.1" y="52.33" width="25.3" height="2.29" fill="#bb2b35"/>
<rect x="466.1" y="54.27" width="25.3" height="2.29" fill="#b8252f"/>
<rect x="466.1" y="56.21" width="25.3" height="2.29" fill="#b0171f"/>
<rect x="466.1" y="58.14" width="25.3" height="2.29" fill="#b7232d"/>
<rect x="466.1" y="60.08" width="25.3" height="2.29" fill="#be303b"/>
<rect x="466.1" y="62.01" width="25.3" height="2.29" fill="#c0333f"/>
<rect x="466.1" y="63.95" width="25.3" height="2.29" fill="#b92732"/>
<rect x="466.1" y="65.88" width="25.3" height="2.29" fill="#bf323d"/>
<rect x="466.1" y="67.82" width="25.3" height="2.29" fill="#b31b24"/>
<rect x="466.1" y="69.75" width="25.3" height="2.29" fill="#b0161e"/>
<rect x="466.1" y="71.69" width="25.3" height="2.29" fill="#bb2a35"/>
<rect x="466.1" y="73.63" width="25.3" height="2.29" fill="#ba2934"/>
<rect x="466.1" y="75.56" width="25.3" height="2.29" fill="#d26f78"/>
<rect x="466.1" y="77.50" width="25.3" height="2.29" fill="#d26f78"/>
<rect x="466.1" y="79.43" width="25.3" height="2.29" fill="#bb2b36"/>
<rect x="466.1" y="81.37" width="25.3" height="2.29" fill="#bf323e"/>
<rect x="466.1" y="83.30" width="25.3" height="2.29" fill="#b31b24"/>
<rect x="466.1" y="85.24" width="25.3" height="2.29" fill="#be313c"/>
<rect x="466.1" y="87.17" width="25.3" height="2.29" fill="#b92731"/>
<rect x="466.1" y="89.11" width="25.3" height="2.29" fill="#d26f78"/>
<rect x="466.1" y="91.05" width="25.3" height="2.29" fill="#be313c"/>
<rect x="466.1" y="92.98" width="25.3" height="2.29" fill="#ba2833"/>
<rect x="466.1" y="94.92" width="25.3" height="2.29" fill="#b6212b"/>
<rect x="466.1" y="96.85" width="25.3" height="2.29" fill="#b0171f"/>
<rect x="466.1" y="98.79" width="25.3" height="2.29" fill="#b0161e"/>
<rect x="466.1" y="100.72" width="25.3" height="2.29" fill="#b31c25"/>
<rect x="466.1" y="102.66" width="25.3" height="2.29" fill="#b0171f"/>
<rect x="466.1" y="104.59" width="25.3" height="2.29" fill="#d26f78"/>
<rect x="466.1" y="106.53" width="25.3" height="2.29" fill="#b7232d"/>
<rect x="466.1" y="108.47" width="25.3" height="2.29" fill="#be303c"/>
<rect x="466.1" y="110.40" width="25.3" height="2.29" fill="#b41d26"/>
<rect x="466.1" y="112.34" width="25.3" height="2.29" fill="#ba2934"/>
<rect x="466.1" y="114.27" width="25.3" height="2.29" fill="#b21921"/>
<rect x="466.1" y="116.21" width="25.3" height="2.29" fill="#d26f78"/>
<rect x="466.1" y="118.14" width="25.3" height="2.29" fill="#b8252f"/>
<rect x="466.1" y="120.08" width="25.3" height="2.29" fill="#ba2a34"/>
<rect x="466.1" y="122.02" width="25.3" height="2.29" fill="#b92732"/>
<rect x="466.1" y="123.95" width="25.3" height="2.29" fill="#b7242e"/>
<rect x="466.1" y="125.89" width="25.3" height="2.29" fill="#b0161e"/>
<rect x="466.1" y="127.82" width="25.3" height="2.29" fill="#d26f78"/>
<rect x="466.1" y="129.76" width="25.3" height="2.29" fill="#bc2c37"/>
<rect x="466.1" y="131.69" width="25.3" height="2.29" fill="#e8b6bd"/>
<rect x="466.1" y="133.63" width="25.3" height="2.29" fill="#b0171f"/>
<rect x="466.1" y="135.56" width="25.3" height="2.29" fill="#b7242e"/>
<rect x="466.1" y="137.50" width="25.3" height="2.29" fill="#b0161e"/>
<rect x="466.1" y="139.44" width="25.3" height="2.29" fill="#b51f29"/>
<rect x="466.1" y="141.37" width="25.3" height="2.29" fill="#ba2934"/>
<rect x="466.1" y="143.31" width="25.3" height="2.29" fill="#b92630"/>
<rect x="466.1" y="145.24" width="25.3" height="2.29" fill="#b31b24"/>
<rect x="466.1" y="147.18" width="25.3" height="2.29" fill="#b8252f"/>
<rect x="466.1" y="149.11" width="25.3" height="2.29" fill="#ba2934"/>
<rect x="466.1" y="151.05" width="25.3" height="2.29" fill="#b21a23"/>
<rect x="466.1" y="152.98" width="25.3" height="2.29" fill="#bb2a35"/>
<rect x="466.1" y="154.92" width="25.3" height="2.29" fill="#bd2f3a"/>
<rect x="466.1" y="156.86" width="25.3" height="2.29" fill="#b7242e"/>
<rect x="466.1" y="158.79" width="25.3" height="2.29" fill="#b7222c"/>
<rect x="466.1" y="160.73" width="25.3" height="2.29" fill="#b92731"/>
<rect x="466.1" y="162.66" width="25.3" height="2.29" fill="#d26f78"/>
<rect x="466.1" y="164.60" width="25.3" height="2.29" fill="#b31c24"/>
<rect x="466.1" y="166.53" width="25.3" height="2.29" fill="#d26f78"/>
<rect x="466.1" y="168.47" width="25.3" height="2.29" fill="#b1171f"/>
<rect x="466.1" y="170.41" width="25.3" height="2.29" fill="#d26f78"/>
<rect x="466.1" y="172.34" width="25.3" height="2.29" fill="#d26f78"/>
<rect x="466.1" y="174.28" width="25.3" height="2.29" fill="#c64752"/>
<rect x="466.1" y="176.21" width="25.3" height="2.29" fill="#b6202a"/>
<rect x="466.1" y="178.15" width="25.3" height="2.29" fill="#c13743"/>
<rect x="466.1" y="180.08" width="25.3" height="2.29" fill="#bd2e3a"/>
<rect x="466.1" y="182.02" width="25.3" height="2.29" fill="#bb2a35"/>
<rect x="466.1" y="183.95" width="25.3" height="2.29" fill="#d26f78"/>
<rect x="466.1" y="185.89" width="25.3" height="2.29" fill="#c0333f"/>
<rect x="466.1" y="187.83" width="25.3" height="2.29" fill="#bc2c37"/>
<rect x="466.1" y="189.76" width="25.3" height="2.29" fill="#bd2f3a"/>
<rect x="466.1" y="191.70" width="25.3" height="2.29" fill="#d67a84"/>
<rect x="466.1" y="193.63" width="25.3" height="2.29" fill="#7da8ec"/>
<rect x="466.1" y="195.57" width="25.3" height="2.29" fill="#88afee"/>
<rect x="466.1" y="197.50" width="25.3" height="2.29" fill="#75a1eb"/>
<rect x="466.1" y="199.44" width="25.3" height="2.29" fill="#6f9de9"/>
<rect x="466.1" y="201.37" width="25.3" height="2.29" fill="#6c9ae8"/>
<rect x="466.1" y="203.31" width="25.3" height="2.29" fill="#a6c4f2"/>
<rect x="466.1" y="205.25" width="25.3" height="2.29" fill="#76a3eb"/>
<rect x="466.1" y="207.18" width="25.3" height="2.29" fill="#78a4eb"/>
<rect x="466.1" y="209.12" width="25.3" height="2.29" fill="#adc9f3"/>
<rect x="466.1" y="211.05" width="25.3" height="2.29" fill="#76a2eb"/>
<rect x="466.1" y="212.99" width="25.3" height="2.29" fill="#74a1ea"/>
<rect x="466.1" y="214.92" width="25.3" height="2.29" fill="#8bb1ee"/>
<rect x="466.1" y="216.86" width="25.3" height="2.29" fill="#d3e2f8"/>
<rect x="466.1" y="218.79" width="25.3" height="2.29" fill="#608fe5"/>
<rect x="466.1" y="220.73" width="25.3" height="2.29" fill="#6998e8"/>
<rect x="466.1" y="222.67" width="25.3" height="2.29" fill="#719fea"/>
<rect x="466.1" y="224.60" width="25.3" height="2.29" fill="#74a1ea"/>
<rect x="466.1" y="226.54" width="25.3" height="2.29" fill="#abc8f3"/>
<rect x="466.1" y="228.47" width="25.3" height="2.29" fill="#abc8f3"/>
<rect x="466.1" y="230.41" width="25.3" height="2.29" fill="#74a1ea"/>
<rect x="466.1" y="232.34" width="25.3" height="2.29" fill="#7ca8ec"/>
<rect x="466.1" y="234.28" width="25.3" height="2.29" fill="#719fea"/>
<rect x="466.1" y="236.22" width="25.3" height="2.29" fill="#6997e7"/>
<rect x="466.1" y="238.15" width="25.3" height="2.29" fill="#78a4eb"/>
<rect x="466.1" y="240.09" width="25.3" height="2.29" fill="#7da8ec"/>
<rect x="466.1" y="242.02" width="25.3" height="2.29" fill="#7da8ec"/>
<rect x="466.1" y="243.96" width="25.3" height="2.29" fill="#719ee9"/>
<rect x="466.1" y="245.89" width="25.3" height="2.29" fill="#7ea9ed"/>
<rect x="466.1" y="247.83" width="25.3" height="2.29" fill="#74a1ea"/>
<rect x="466.1" y="249.76" width="25.3" height="2.29" fill="#73a0ea"/>
<rect x="491.1" y="23.30" width="25.3" height="2.29" fill="#b7222c"/>
<rect x="491.1" y="25.24" width="25.3" height="2.29" fill="#b51f28"/>
<rect x="491.1" y="27.17" width="25.3" height="2.29" fill="#bc2c37"/>
<rect x="491.1" y="29.11" width="25.3" height="2.29" fill="#b41e27"/>
<rect x="491.1" y="31.04" width="25.3" height="2.29" fill="#c54551"/>
<rect x="491.1" y="32.98" width="25.3" height="2.29" fill="#b8242e"/>
<rect x="491.1" y="34.91" width="25.3" height="2.29" fill="#d67a84"/>
<rect x="491.1" y="36.85" width="25.3" height="2.29" fill="#bc2c37"/>
<rect x="491.1" y="38.78" width="25.3" height="2.29" fill="#c64752"/>
<rect x="491.1" y="40.72" width="25.3" height="2.29" fill="#eabdc3"/>
<rect x="491.1" y="42.66" width="25.3" height="2.29" fill="#b92731"/>
<rect x="491.1" y="44.59" width="25.3" height="2.29" fill="#d67a84"/>
<rect x="491.1" y="46.53" width="25.3" height="2.29" fill="#d67a84"/>
<rect x="491.1" y="48.46" width="25.3" height="2.29" fill="#c4424e"/>
<rect x="491.1" y="50.40" width="25.3" height="2.29" fill="#d67a84"/>
<rect x="491.1" y="52.33" width="25.3" height="2.29" fill="#d67a84"/>
<rect x="491.1" y="54.27" width="25.3" height="2.29" fill="#b82630"/>
<rect x="491.1" y="56.21" width="25.3" height="2.29" fill="#ba2934"/>
<rect x="491.1" y="58.14" width="25.3" height="2.29" fill="#bb2b36"/>
<rect x="491.1" y="60.08" width="25.3" height="2.29" fill="#b52029"/>
<rect x="491.1" y="62.01" width="25.3" height="2.29" fill="#c0333f"/>
<rect x="491.1" y="63.95" width="25.3" height="2.29" fill="#d67a84"/>
<rect x="491.1" y="65.88" width="25.3" height="2.29" fill="#c4414c"/>
<rect x="491.1" y="67.82" width="25.3" height="2.29" fill="#bd2f3a"/>
<rect x="491.1" y="69.75" width="25.3" height="2.29" fill="#c4404c"/>
<rect x="491.1" y="71.69" width="25.3" height="2.29" fill="#bf323e"/>
<rect x="491.1" y="73.63" width="25.3" height="2.29" fill="#c84f5a"/>
<rect x="491.1" y="75.56" width="25.3" height="2.29" fill="#be313c"/>
<rect x="491.1" y="77.50" width="25.3" height="2.29" fill="#bb2a35"/>
<rect x="491.1" y="79.43" width="25.3" height="2.29" fill="#c54450"/>
<rect x="491.1" y="81.37" width="25.3" height="2.29" fill="#b52029"/>
<rect x="491.1" y="83.30" width="25.3" height="2.29" fill="#b7232d"/>
<rect x="491.1" y="85.24" width="25.3" height="2.29" fill="#c4404c"/>
<rect x="491.1" y="87.17" width="25.3" height="2.29" fill="#be313c"/>
<rect x="491.1" y="89.11" width="25.3" height="2.29" fill="#bf323e"/>
<rect x="491.1" y="91.05" width="25.3" height="2.29" fill="#b41d26"/>
<rect x="491.1" y="92.98" width="25.3" height="2.29" fill="#be313d"/>
<rect x="491.1" y="94.92" width="25.3" height="2.29" fill="#b6222c"/>
<rect x="491.1" y="96.85" width="25.3" height="2.29" fill="#bc2c37"/>
<rect x="491.1" y="98.79" width="25.3" height="2.29" fill="#c64853"/>
<rect x="491.1" y="100.72" width="25.3" height="2.29" fill="#b6212b"/>
<rect x="491.1" y="102.66" width="25.3" height="2.29" fill="#bd2f3a"/>
<rect x="491.1" y="104.59" width="25.3" height="2.29" fill="#c03440"/>
<rect x="491.1" y="106.53" width="25.3" height="2.29" fill="#b21a23"/>
<rect x="491.1" y="108.47" width="25.3" height="2.29" fill="#c13945"/>
<rect x="491.1" y="110.40" width="25.3" height="2.29" fill="#d67a84"/>
<rect x="491.1" y="112.34" width="25.3" height="2.29" fill="#cb5762"/>
<rect x="491.1" y="114.27" width="25.3" height="2.29" fill="#eabdc3"/>
<rect x="491.1" y="116.21" width="25.3" height="2.29" fill="#b21a23"/>
<rect x="491.1" y="118.14" width="25.3" height="2.29" fill="#be303b"/>
<rect x="491.1" y="120.08" width="25.3" height="2.29" fill="#d67a84"/>
<rect x="491.1" y="122.02" width="25.3" height="2.29" fill="#bd2f3b"/>
<rect x="491.1" y="123.95" width="25.3" height="2.29" fill="#c13743"/>
<rect x="491.1" y="125.89" width="25.3" height="2.29" fill="#c64752"/>
<rect x="491.1" y="127.82" width="25.3" height="2.29" fill="#be313d"/>
<rect x="491.1" y="129.76" width="25.3" height="2.29" fill="#bc2d38"/>
<rect x="491.1" y="131.69" width="25.3" height="2.29" fill="#ba2933"/>
<rect x="491.1" y="133.63" width="25.3" height="2.29" fill="#c03541"/>
<rect x="491.1" y="135.56" width="25.3" height="2.29" fill="#eabdc3"/>
<rect x="491.1" y="137.50" width="25.3" height="2.29" fill="#ba2933"/>
<rect x="491.1" y="139.44" width="25.3" height="2.29" fill="#bd2f3a"/>
<rect x="491.1" y="141.37" width="25.3" height="2.29" fill="#c23a46"/>
<rect x="491.1" y="143.31" width="25.3" height="2.29" fill="#c74b56"/>
<rect x="491.1" y="145.24" width="25.3" height="2.29" fill="#c13743"/>
<rect x="491.1" y="147.18" width="25.3" height="2.29" fill="#c4404b"/>
<rect x="491.1" y="149.11" width="25.3" height="2.29" fill="#be313d"/>
<rect x="491.1" y="151.05" width="25.3" height="2.29" fill="#b0161e"/>
<rect x="491.1" y="152.98" width="25.3" height="2.29" fill="#b8252f"/>
<rect x="491.1" y="154.92" width="25.3" height="2.29" fill="#bb2b36"/>
<rect x="491.1" y="156.86" width="25.3" height="2.29" fill="#c4424d"/>
<rect x="491.1" y="158.79" width="25.3" height="2.29" fill="#bc2d38"/>
<rect x="491.1" y="160.73" width="25.3" height="2.29" fill="#b6212a"/>
<rect x="491.1" y="162.66" width="25.3" height="2.29" fill="#d57781"/>
<rect x="491.1" y="164.60" width="25.3" height="2.29" fill="#d4737d"/>
<rect x="491.1" y="166.53" width="25.3" height="2.29" fill="#e3a5ac"/>
<rect x="491.1" y="168.47" width="25.3" height="2.29" fill="#d16a74"/>
<rect x="491.1" y="170.41" width="25.3" height="2.29" fill="#cb5762"/>
<rect x="491.1" y="172.34" width="25.3" height="2.29" fill="#d67c86"/>
<rect x="491.1" y="174.28" width="25.3" height="2.29" fill="#cd5f69"/>
<rect x="491.1" y="176.21" width="25.3" height="2.29" fill="#d57882"/>
<rect x="491.1" y="178.15" width="25.3" height="2.29" fill="#c9515c"/>
<rect x="491.1" y="180.08" width="25.3" height="2.29" fill="#d57680"/>
<rect x="491.1" y="182.02" width="25.3" height="2.29" fill="#cf636d"/>
<rect x="491.1" y="183.95" width="25.3" height="2.29" fill="#cd5d68"/>
<rect x="491.1" y="185.89" width="25.3" height="2.29" fill="#be313c"/>
<rect x="491.1" y="187.83" width="25.3" height="2.29" fill="#b92832"/>
<rect x="491.1" y="189.76" width="25.3" height="2.29" fill="#d67a84"/>
<rect x="491.1" y="191.70" width="25.3" height="2.29" fill="#c13844"/>
<rect x="491.1" y="193.63" width="25.3" height="2.29" fill="#a1c0f1"/>
<rect x="491.1" y="195.57" width="25.3" height="2.29" fill="#7aa6ec"/>
<rect x="491.1" y="197.50" width="25.3" height="2.29" fill="#a0c0f1"/>
<rect x="491.1" y="199.44" width="25.3" height="2.29" fill="#74a0ea"/>
<rect x="491.1" y="201.37" width="25.3" height="2.29" fill="#8db3ef"/>
<rect x="491.1" y="203.31" width="25.3" height="2.29" fill="#86aeee"/>
<rect x="491.1" y="205.25" width="25.3" height="2.29" fill="#91b6ef"/>
<rect x="491.1" y="207.18" width="25.3" height="2.29" fill="#b2ccf4"/>
<rect x="491.1" y="209.12" width="25.3" height="2.29" fill="#6b99e8"/>
<rect x="491.1" y="211.05" width="25.3" height="2.29" fill="#79a5ec"/>
<rect x="491.1" y="212.99" width="25.3" height="2.29" fill="#d5e4f8"/>
<rect x="491.1" y="214.92" width="25.3" height="2.29" fill="#74a0ea"/>
<rect x="491.1" y="216.86" width="25.3" height="2.29" fill="#82abed"/>
<rect x="491.1" y="218.79" width="25.3" height="2.29" fill="#74a1ea"/>
<rect x="491.1" y="220.73" width="25.3" height="2.29" fill="#7faaed"/>
<rect x="491.1" y="222.67" width="25.3" height="2.29" fill="#74a1ea"/>
<rect x="491.1" y="224.60" width="25.3" height="2.29" fill="#6e9ce9"/>
<rect x="491.1" y="226.54" width="25.3" height="2.29" fill="#afcaf3"/>
<rect x="491.1" y="228.47" width="25.3" height="2.29" fill="#75a1eb"/>
<rect x="491.1" y="230.41" width="25.3" height="2.29" fill="#6e9ce9"/>
<rect x="491.1" y="232.34" width="25.3" height="2.29" fill="#78a4eb"/>
<rect x="491.1" y="234.28" width="25.3" height="2.29" fill="#77a4eb"/>
<rect x="491.1" y="236.22" width="25.3" height="2.29" fill="#78a5ec"/>
<rect x="491.1" y="238.15" width="25.3" height="2.29" fill="#afcaf3"/>
<rect x="491.1" y="240.09" width="25.3" height="2.29" fill="#afcaf3"/>
<rect x="491.1" y="242.02" width="25.3" height="2.29" fill="#d4e3f8"/>
<rect x="491.1" y="243.96" width="25.3" height="2.29" fill="#afcaf3"/>
<rect x="491.1" y="245.89" width="25.3" height="2.29" fill="#d4e3f8"/>
<rect x="491.1" y="247.83" width="25.3" height="2.29" fill="#729fea"/>
<rect x="491.1" y="249.76" width="25.3" height="2.29" fill="#8db3ef"/>
<rect x="516.1" y="23.30" width="25.3" height="2.29" fill="#d5e3f8"/>
<rect x="516.1" y="25.24" width="25.3" height="2.29" fill="#d6e4f8"/>
<rect x="516.1" y="27.17" width="25.3" height="2.29" fill="#d7e5f8"/>
<rect x="516.1" y="29.11" width="25.3" height="2.29" fill="#d3e2f8"/>
<rect x="516.1" y="31.04" width="25.3" height="2.29" fill="#d7e5f8"/>
<rect x="516.1" y="32.98" width="25.3" height="2.29" fill="#d7e5f8"/>
<rect x="516.1" y="34.91" width="25.3" height="2.29" fill="#dde8f9"/>
<rect x="516.1" y="36.85" width="25.3" height="2.29" fill="#d5e4f8"/>
<rect x="516.1" y="38.78" width="25.3" height="2.29" fill="#d2e1f8"/>
<rect x="516.1" y="40.72" width="25.3" height="2.29" fill="#d6e4f8"/>
<rect x="516.1" y="42.66" width="25.3" height="2.29" fill="#d5e3f8"/>
<rect x="516.1" y="44.59" width="25.3" height="2.29" fill="#d4e3f8"/>
<rect x="516.1" y="46.53" width="25.3" height="2.29" fill="#d6e4f8"/>
<rect x="516.1" y="48.46" width="25.3" height="2.29" fill="#cfdff7"/>
<rect x="516.1" y="50.40" width="25.3" height="2.29" fill="#d1e1f8"/>
<rect x="516.1" y="52.33" width="25.3" height="2.29" fill="#d5e3f8"/>
<rect x="516.1" y="54.27" width="25.3" height="2.29" fill="#f6eef0"/>
<rect x="516.1" y="56.21" width="25.3" height="2.29" fill="#d6e4f8"/>
<rect x="516.1" y="58.14" width="25.3" height="2.29" fill="#cedff7"/>
<rect x="516.1" y="60.08" width="25.3" height="2.29" fill="#e3ecf9"/>
<rect x="516.1" y="62.01" width="25.3" height="2.29" fill="#f7f5f7"/>
<rect x="516.1" y="63.95" width="25.3" height="2.29" fill="#f5f5f8"/>
<rect x="516.1" y="65.88" width="25.3" height="2.29" fill="#e5edf9"/>
<rect x="516.1" y="67.82" width="25.3" height="2.29" fill="#e2ebf9"/>
<rect x="516.1" y="69.75" width="25.3" height="2.29" fill="#f7f6f8"/>
<rect x="516.1" y="71.69" width="25.3" height="2.29" fill="#d9e6f9"/>
<rect x="516.1" y="73.63" width="25.3" height="2.29" fill="#db8b94"/>
<rect x="516.1" y="75.56" width="25.3" height="2.29" fill="#bdd4f5"/>
<rect x="516.1" y="77.50" width="25.3" height="2.29" fill="#dee9f9"/>
<rect x="516.1" y="79.43" width="25.3" height="2.29" fill="#dde8f9"/>
<rect x="516.1" y="81.37" width="25.3" height="2.29" fill="#b8d0f5"/>
<rect x="516.1" y="83.30" width="25.3" height="2.29" fill="#dfe9f9"/>
<rect x="516.1" y="85.24" width="25.3" height="2.29" fill="#dce8f9"/>
<rect x="516.1" y="87.17" width="25.3" height="2.29" fill="#cbddf7"/>
<rect x="516.1" y="89.11" width="25.3" height="2.29" fill="#d7e5f8"/>
<rect x="516.1" y="91.05" width="25.3" height="2.29" fill="#dde8f9"/>
<rect x="516.1" y="92.98" width="25.3" height="2.29" fill="#d3e2f8"/>
<rect x="516.1" y="94.92" width="25.3" height="2.29" fill="#cddef7"/>
<rect x="516.1" y="96.85" width="25.3" height="2.29" fill="#cedff7"/>
<rect x="516.1" y="98.79" width="25.3" height="2.29" fill="#dce8f9"/>
<rect x="516.1" y="100.72" width="25.3" height="2.29" fill="#e0eaf9"/>
<rect x="516.1" y="102.66" width="25.3" height="2.29" fill="#eaeff8"/>
<rect x="516.1" y="104.59" width="25.3" height="2.29" fill="#d7e5f8"/>
<rect x="516.1" y="106.53" width="25.3" height="2.29" fill="#dce8f9"/>
<rect x="516.1" y="108.47" width="25.3" height="2.29" fill="#e3ecf9"/>
<rect x="516.1" y="110.40" width="25.3" height="2.29" fill="#d2e2f8"/>
<rect x="516.1" y="112.34" width="25.3" height="2.29" fill="#d6e4f8"/>
<rect x="516.1" y="114.27" width="25.3" height="2.29" fill="#d6e4f8"/>
<rect x="516.1" y="116.21" width="25.3" height="2.29" fill="#e9eff9"/>
<rect x="516.1" y="118.14" width="25.3" height="2.29" fill="#e5edf9"/>
<rect x="516.1" y="120.08" width="25.3" height="2.29" fill="#f4e3e7"/>
<rect x="516.1" y="122.02" width="25.3" height="2.29" fill="#f7f6f8"/>
<rect x="516.1" y="123.95" width="25.3" height="2.29" fill="#dde8f9"/>
<rect x="516.1" y="125.89" width="25.3" height="2.29" fill="#e5edf9"/>
<rect x="516.1" y="127.82" width="25.3" height="2.29" fill="#c2d7f6"/>
<rect x="516.1" y="129.76" width="25.3" height="2.29" fill="#cfdff7"/>
<rect x="516.1" y="131.69" width="25.3" height="2.29" fill="#c7daf7"/>
<rect x="516.1" y="133.63" width="25.3" height="2.29" fill="#d4e3f8"/>
<rect x="516.1" y="135.56" width="25.3" height="2.29" fill="#d8e6f9"/>
<rect x="516.1" y="137.50" width="25.3" height="2.29" fill="#d4e3f8"/>
<rect x="516.1" y="139.44" width="25.3" height="2.29" fill="#ebf0f8"/>
<rect x="516.1" y="141.37" width="25.3" height="2.29" fill="#e6aeb5"/>
<rect x="516.1" y="143.31" width="25.3" height="2.29" fill="#dfe9f9"/>
<rect x="516.1" y="145.24" width="25.3" height="2.29" fill="#e09aa3"/>
<rect x="516.1" y="147.18" width="25.3" height="2.29" fill="#d0e0f8"/>
<rect x="516.1" y="149.11" width="25.3" height="2.29" fill="#f7f6f8"/>
<rect x="516.1" y="151.05" width="25.3" height="2.29" fill="#bdd4f5"/>
<rect x="516.1" y="152.98" width="25.3" height="2.29" fill="#dbe8f9"/>
<rect x="516.1" y="154.92" width="25.3" height="2.29" fill="#bdd4f5"/>
<rect x="516.1" y="156.86" width="25.3" height="2.29" fill="#d9e6f9"/>
<rect x="516.1" y="158.79" width="25.3" height="2.29" fill="#db8a93"/>
<rect x="516.1" y="160.73" width="25.3" height="2.29" fill="#b8d0f5"/>
<rect x="516.1" y="162.66" width="25.3" height="2.29" fill="#f5ecef"/>
<rect x="516.1" y="164.60" width="25.3" height="2.29" fill="#f7f5f7"/>
<rect x="516.1" y="166.53" width="25.3" height="2.29" fill="#edf1f8"/>
<rect x="516.1" y="168.47" width="25.3" height="2.29" fill="#dce8f9"/>
<rect x="516.1" y="170.41" width="25.3" height="2.29" fill="#dae7f9"/>
<rect x="516.1" y="172.34" width="25.3" height="2.29" fill="#f3f4f8"/>
<rect x="516.1" y="174.28" width="25.3" height="2.29" fill="#f5e7ea"/>
<rect x="516.1" y="176.21" width="25.3" height="2.29" fill="#f6f5f8"/>
<rect x="516.1" y="178.15" width="25.3" height="2.29" fill="#f7f5f7"/>
<rect x="516.1" y="180.08" width="25.3" height="2.29" fill="#f6f0f2"/>
<rect x="516.1" y="182.02" width="25.3" height="2.29" fill="#f3dfe2"/>
<rect x="516.1" y="183.95" width="25.3" height="2.29" fill="#f5f5f8"/>
<rect x="516.1" y="185.89" width="25.3" height="2.29" fill="#f3dfe3"/>
<rect x="516.1" y="187.83" width="25.3" height="2.29" fill="#f2d6da"/>
<rect x="516.1" y="189.76" width="25.3" height="2.29" fill="#f7f6f8"/>
<rect x="516.1" y="191.70" width="25.3" height="2.29" fill="#f3dcdf"/>
<rect x="516.1" y="193.63" width="25.3" height="2.29" fill="#f3dde1"/>
<rect x="516.1" y="195.57" width="25.3" height="2.29" fill="#f2d6da"/>
<rect x="516.1" y="197.50" width="25.3" height="2.29" fill="#edc6cb"/>
<rect x="516.1" y="199.44" width="25.3" height="2.29" fill="#d9868f"/>
<rect x="516.1" y="201.37" width="25.3" height="2.29" fill="#ecc1c7"/>
<rect x="516.1" y="203.31" width="25.3" height="2.29" fill="#f3dade"/>
<rect x="516.1" y="205.25" width="25.3" height="2.29" fill="#f4e0e4"/>
<rect x="516.1" y="207.18" width="25.3" height="2.29" fill="#da8790"/>
<rect x="516.1" y="209.12" width="25.3" height="2.29" fill="#f5e9ec"/>
<rect x="516.1" y="211.05" width="25.3" height="2.29" fill="#f4e4e8"/>
<rect x="516.1" y="212.99" width="25.3" height="2.29" fill="#f5e7ea"/>
<rect x="516.1" y="214.92" width="25.3" height="2.29" fill="#d9e6f9"/>
<rect x="516.1" y="216.86" width="25.3" height="2.29" fill="#f0ced3"/>
<rect x="516.1" y="218.79" width="25.3" height="2.29" fill="#e19da5"/>
<rect x="516.1" y="220.73" width="25.3" height="2.29" fill="#edc7cc"/>
<rect x="516.1" y="222.67" width="25.3" height="2.29" fill="#ecc3c9"/>
<rect x="516.1" y="224.60" width="25.3" height="2.29" fill="#f7f6f8"/>
<rect x="516.1" y="226.54" width="25.3" height="2.29" fill="#f0cfd3"/>
<rect x="516.1" y="228.47" width="25.3" height="2.29" fill="#e09da5"/>
<rect x="516.1" y="230.41" width="25.3" height="2.29" fill="#f7f3f6"/>
<rect x="516.1" y="232.34" width="25.3" height="2.29" fill="#f3dde1"/>
<rect x="516.1" y="234.28" width="25.3" height="2.29" fill="#d9e6f9"/>
<rect x="516.1" y="236.22" width="25.3" height="2.29" fill="#d9e6f9"/>
<rect x="516.1" y="238.15" width="25.3" height="2.29" fill="#eec9ce"/>
<rect x="516.1" y="240.09" width="25.3" height="2.29" fill="#e5acb3"/>
<rect x="516.1" y="242.02" width="25.3" height="2.29" fill="#f2d5d9"/>
<rect x="516.1" y="243.96" width="25.3" height="2.29" fill="#e5abb2"/>
<rect x="516.1" y="245.89" width="25.3" height="2.29" fill="#e7b3b9"/>
<rect x="516.1" y="247.83" width="25.3" height="2.29" fill="#d26e78"/>
<rect x="516.1" y="249.76" width="25.3" height="2.29" fill="#e7b3ba"/>
<rect x="541.2" y="23.30" width="25.3" height="2.29" fill="#aecaf3"/>
<rect x="541.2" y="25.24" width="25.3" height="2.29" fill="#f2d8dc"/>
<rect x="541.2" y="27.17" width="25.3" height="2.29" fill="#e1a0a8"/>
<rect x="541.2" y="29.11" width="25.3" height="2.29" fill="#d2e2f8"/>
<rect x="541.2" y="31.04" width="25.3" height="2.29" fill="#e6afb6"/>
<rect x="541.2" y="32.98" width="25.3" height="2.29" fill="#f4f4f8"/>
<rect x="541.2" y="34.91" width="25.3" height="2.29" fill="#d1e1f8"/>
<rect x="541.2" y="36.85" width="25.3" height="2.29" fill="#d7e5f8"/>
<rect x="541.2" y="38.78" width="25.3" height="2.29" fill="#cfdff7"/>
<rect x="541.2" y="40.72" width="25.3" height="2.29" fill="#d2e2f8"/>
<rect x="541.2" y="42.66" width="25.3" height="2.29" fill="#d4e3f8"/>
<rect x="541.2" y="44.59" width="25.3" height="2.29" fill="#d1e1f8"/>
<rect x="541.2" y="46.53" width="25.3" height="2.29" fill="#dde8f9"/>
<rect x="541.2" y="48.46" width="25.3" height="2.29" fill="#ecc1c7"/>
<rect x="541.2" y="50.40" width="25.3" height="2.29" fill="#eabdc3"/>
<rect x="541.2" y="52.33" width="25.3" height="2.29" fill="#cddef7"/>
<rect x="541.2" y="54.27" width="25.3" height="2.29" fill="#d1e1f8"/>
<rect x="541.2" y="56.21" width="25.3" height="2.29" fill="#bdd4f5"/>
<rect x="541.2" y="58.14" width="25.3" height="2.29" fill="#e0eaf9"/>
<rect x="541.2" y="60.08" width="25.3" height="2.29" fill="#f7f4f6"/>
<rect x="541.2" y="62.01" width="25.3" height="2.29" fill="#f3f4f8"/>
<rect x="541.2" y="63.95" width="25.3" height="2.29" fill="#e6edf9"/>
<rect x="541.2" y="65.88" width="25.3" height="2.29" fill="#e6edf9"/>
<rect x="541.2" y="67.82" width="25.3" height="2.29" fill="#e8b5bc"/>
<rect x="541.2" y="69.75" width="25.3" height="2.29" fill="#bdd4f5"/>
<rect x="541.2" y="71.69" width="25.3" height="2.29" fill="#f7f6f8"/>
<rect x="541.2" y="73.63" width="25.3" height="2.29" fill="#d0e0f8"/>
<rect x="541.2" y="75.56" width="25.3" height="2.29" fill="#e3a5ad"/>
<rect x="541.2" y="77.50" width="25.3" height="2.29" fill="#bdd4f5"/>
<rect x="541.2" y="79.43" width="25.3" height="2.29" fill="#d4e3f8"/>
<rect x="541.2" y="81.37" width="25.3" height="2.29" fill="#dae7f9"/>
<rect x="541.2" y="83.30" width="25.3" height="2.29" fill="#f7f6f8"/>
<rect x="541.2" y="85.24" width="25.3" height="2.29" fill="#e1ebf9"/>
<rect x="541.2" y="87.17" width="25.3" height="2.29" fill="#e2ebf9"/>
<rect x="541.2" y="89.11" width="25.3" height="2.29" fill="#e7edf9"/>
<rect x="541.2" y="91.05" width="25.3" height="2.29" fill="#e5ecf9"/>
<rect x="541.2" y="92.98" width="25.3" height="2.29" fill="#d9e6f9"/>
<rect x="541.2" y="94.92" width="25.3" height="2.29" fill="#dee9f9"/>
<rect x="541.2" y="96.85" width="25.3" height="2.29" fill="#d7e5f8"/>
<rect x="541.2" y="98.79" width="25.3" height="2.29" fill="#d8e5f9"/>
<rect x="541.2" y="100.72" width="25.3" height="2.29" fill="#d2e2f8"/>
<rect x="541.2" y="102.66" width="25.3" height="2.29" fill="#cfe0f8"/>
<rect x="541.2" y="104.59" width="25.3" height="2.29" fill="#d2e2f8"/>
<rect x="541.2" y="106.53" width="25.3" height="2.29" fill="#f7f6f8"/>
<rect x="541.2" y="108.47" width="25.3" height="2.29" fill="#ebbec4"/>
<rect x="541.2" y="110.40" width="25.3" height="2.29" fill="#dce8f9"/>
<rect x="541.2" y="112.34" width="25.3" height="2.29" fill="#f4f4f8"/>
<rect x="541.2" y="114.27" width="25.3" height="2.29" fill="#f6f2f4"/>
<rect x="541.2" y="116.21" width="25.3" height="2.29" fill="#e3a4ac"/>
<rect x="541.2" y="118.14" width="25.3" height="2.29" fill="#e8eef9"/>
<rect x="541.2" y="120.08" width="25.3" height="2.29" fill="#f0d0d5"/>
<rect x="541.2" y="122.02" width="25.3" height="2.29" fill="#f7f6f8"/>
<rect x="541.2" y="123.95" width="25.3" height="2.29" fill="#ebf0f8"/>
<rect x="541.2" y="125.89" width="25.3" height="2.29" fill="#d5e3f8"/>
<rect x="541.2" y="127.82" width="25.3" height="2.29" fill="#c9dbf7"/>
<rect x="541.2" y="129.76" width="25.3" height="2.29" fill="#bbd2f5"/>
<rect x="541.2" y="131.69" width="25.3" height="2.29" fill="#c6daf7"/>
<rect x="541.2" y="133.63" width="25.3" height="2.29" fill="#cbddf7"/>
<rect x="541.2" y="135.56" width="25.3" height="2.29" fill="#c8dbf7"/>
<rect x="541.2" y="137.50" width="25.3" height="2.29" fill="#c4d8f6"/>
<rect x="541.2" y="139.44" width="25.3" height="2.29" fill="#bbd2f5"/>
<rect x="541.2" y="141.37" width="25.3" height="2.29" fill="#c0d6f6"/>
<rect x="541.2" y="143.31" width="25.3" height="2.29" fill="#c8dbf7"/>
<rect x="541.2" y="145.24" width="25.3" height="2.29" fill="#bdd4f5"/>
<rect x="541.2" y="147.18" width="25.3" height="2.29" fill="#c5d9f6"/>
<rect x="541.2" y="149.11" width="25.3" height="2.29" fill="#c2d7f6"/>
<rect x="541.2" y="151.05" width="25.3" height="2.29" fill="#cedff7"/>
<rect x="541.2" y="152.98" width="25.3" height="2.29" fill="#d3e2f8"/>
<rect x="541.2" y="154.92" width="25.3" height="2.29" fill="#cddef7"/>
<rect x="541.2" y="156.86" width="25.3" height="2.29" fill="#f7f6f8"/>
<rect x="541.2" y="158.79" width="25.3" height="2.29" fill="#cbddf7"/>
<rect x="541.2" y="160.73" width="25.3" height="2.29" fill="#cbddf7"/>
<rect x="541.2" y="162.66" width="25.3" height="2.29" fill="#f6f0f2"/>
<rect x="541.2" y="164.60" width="25.3" height="2.29" fill="#f7f3f5"/>
<rect x="541.2" y="166.53" width="25.3" height="2.29" fill="#efccd1"/>
<rect x="541.2" y="168.47" width="25.3" height="2.29" fill="#dce8f9"/>
<rect x="541.2" y="170.41" width="25.3" height="2.29" fill="#ecf0f8"/>
<rect x="541.2" y="172.34" width="25.3" height="2.29" fill="#d6e4f8"/>
<rect x="541.2" y="174.28" width="25.3" height="2.29" fill="#eff2f8"/>
<rect x="541.2" y="176.21" width="25.3" height="2.29" fill="#ebf0f8"/>
<rect x="541.2" y="178.15" width="25.3" height="2.29" fill="#f7f6f8"/>
<rect x="541.2" y="180.08" width="25.3" height="2.29" fill="#f7f6f8"/>
<rect x="541.2" y="182.02" width="25.3" height="2.29" fill="#f7f6f8"/>
<rect x="541.2" y="183.95" width="25.3" height="2.29" fill="#f6f6f8"/>
<rect x="541.2" y="185.89" width="25.3" height="2.29" fill="#f3f4f8"/>
<rect x="541.2" y="187.83" width="25.3" height="2.29" fill="#f4e5e8"/>
<rect x="541.2" y="189.76" width="25.3" height="2.29" fill="#f6eef1"/>
<rect x="541.2" y="191.70" width="25.3" height="2.29" fill="#eff2f8"/>
<rect x="541.2" y="193.63" width="25.3" height="2.29" fill="#edc6cc"/>
<rect x="541.2" y="195.57" width="25.3" height="2.29" fill="#d9848d"/>
<rect x="541.2" y="197.50" width="25.3" height="2.29" fill="#ecc4c9"/>
<rect x="541.2" y="199.44" width="25.3" height="2.29" fill="#d16a74"/>
<rect x="541.2" y="201.37" width="25.3" height="2.29" fill="#e5adb4"/>
<rect x="541.2" y="203.31" width="25.3" height="2.29" fill="#c33e4a"/>
<rect x="541.2" y="205.25" width="25.3" height="2.29" fill="#f4e0e3"/>
<rect x="541.2" y="207.18" width="25.3" height="2.29" fill="#f5e7ea"/>
<rect x="541.2" y="209.12" width="25.3" height="2.29" fill="#f4e5e8"/>
<rect x="541.2" y="211.05" width="25.3" height="2.29" fill="#f3dde1"/>
<rect x="541.2" y="212.99" width="25.3" height="2.29" fill="#f3dde1"/>
<rect x="541.2" y="214.92" width="25.3" height="2.29" fill="#e8eef9"/>
<rect x="541.2" y="216.86" width="25.3" height="2.29" fill="#cd5f6a"/>
<rect x="541.2" y="218.79" width="25.3" height="2.29" fill="#f6eff1"/>
<rect x="541.2" y="220.73" width="25.3" height="2.29" fill="#eef1f8"/>
<rect x="541.2" y="222.67" width="25.3" height="2.29" fill="#cd5e69"/>
<rect x="541.2" y="224.60" width="25.3" height="2.29" fill="#efcbd0"/>
<rect x="541.2" y="226.54" width="25.3" height="2.29" fill="#d9e6f9"/>
<rect x="541.2" y="228.47" width="25.3" height="2.29" fill="#e4a9b1"/>
<rect x="541.2" y="230.41" width="25.3" height="2.29" fill="#eec8cd"/>
<rect x="541.2" y="232.34" width="25.3" height="2.29" fill="#f7f6f8"/>
<rect x="541.2" y="234.28" width="25.3" height="2.29" fill="#edc6cb"/>
<rect x="541.2" y="236.22" width="25.3" height="2.29" fill="#d3717b"/>
<rect x="541.2" y="238.15" width="25.3" height="2.29" fill="#e5abb2"/>
<rect x="541.2" y="240.09" width="25.3" height="2.29" fill="#d9e6f9"/>
<rect x="541.2" y="242.02" width="25.3" height="2.29" fill="#df99a1"/>
<rect x="541.2" y="243.96" width="25.3" height="2.29" fill="#e19ea6"/>
<rect x="541.2" y="245.89" width="25.3" height="2.29" fill="#e6b0b7"/>
<rect x="541.2" y="247.83" width="25.3" height="2.29" fill="#de969e"/>
<rect x="541.2" y="249.76" width="25.3" height="2.29" fill="#edc7cc"/>
<rect x="566.2" y="23.30" width="25.3" height="2.29" fill="#d9e6f9"/>
<rect x="566.2" y="25.24" width="25.3" height="2.29" fill="#d5e3f8"/>
<rect x="566.2" y="27.17" width="25.3" height="2.29" fill="#d2e1f8"/>
<rect x="566.2" y="29.11" width="25.3" height="2.29" fill="#d4e3f8"/>
<rect x="566.2" y="31.04" width="25.3" height="2.29" fill="#e2ebf9"/>
<rect x="566.2" y="32.98" width="25.3" height="2.29" fill="#d6e4f8"/>
<rect x="566.2" y="34.91" width="25.3" height="2.29" fill="#d4e3f8"/>
<rect x="566.2" y="36.85" width="25.3" height="2.29" fill="#d8e5f8"/>
<rect x="566.2" y="38.78" width="25.3" height="2.29" fill="#e6edf9"/>
<rect x="566.2" y="40.72" width="25.3" height="2.29" fill="#bdd4f5"/>
<rect x="566.2" y="42.66" width="25.3" height="2.29" fill="#e1ebf9"/>
<rect x="566.2" y="44.59" width="25.3" height="2.29" fill="#dee9f9"/>
<rect x="566.2" y="46.53" width="25.3" height="2.29" fill="#c7dbf7"/>
<rect x="566.2" y="48.46" width="25.3" height="2.29" fill="#c4d8f6"/>
<rect x="566.2" y="50.40" width="25.3" height="2.29" fill="#d1e1f8"/>
<rect x="566.2" y="52.33" width="25.3" height="2.29" fill="#d8e6f9"/>
<rect x="566.2" y="54.27" width="25.3" height="2.29" fill="#d1e1f8"/>
<rect x="566.2" y="56.21" width="25.3" height="2.29" fill="#d5e3f8"/>
<rect x="566.2" y="58.14" width="25.3" height="2.29" fill="#ebf0f8"/>
<rect x="566.2" y="60.08" width="25.3" height="2.29" fill="#d8e5f8"/>
<rect x="566.2" y="62.01" width="25.3" height="2.29" fill="#d4e2f8"/>
<rect x="566.2" y="63.95" width="25.3" height="2.29" fill="#edc7cc"/>
<rect x="566.2" y="65.88" width="25.3" height="2.29" fill="#e8eef9"/>
<rect x="566.2" y="67.82" width="25.3" height="2.29" fill="#ebf0f8"/>
<rect x="566.2" y="69.75" width="25.3" height="2.29" fill="#e7b3b9"/>
<rect x="566.2" y="71.69" width="25.3" height="2.29" fill="#f7f6f8"/>
<rect x="566.2" y="73.63" width="25.3" height="2.29" fill="#cedff7"/>
<rect x="566.2" y="75.56" width="25.3" height="2.29" fill="#bdd4f5"/>
<rect x="566.2" y="77.50" width="25.3" height="2.29" fill="#f7f6f8"/>
<rect x="566.2" y="79.43" width="25.3" height="2.29" fill="#e7eef9"/>
<rect x="566.2" y="81.37" width="25.3" height="2.29" fill="#eef1f8"/>
<rect x="566.2" y="83.30" width="25.3" height="2.29" fill="#ecc2c8"/>
<rect x="566.2" y="85.24" width="25.3" height="2.29" fill="#eabcc2"/>
<rect x="566.2" y="87.17" width="25.3" height="2.29" fill="#f2f3f8"/>
<rect x="566.2" y="89.11" width="25.3" height="2.29" fill="#f7f6f8"/>
<rect x="566.2" y="91.05" width="25.3" height="2.29" fill="#f4f4f8"/>
<rect x="566.2" y="92.98" width="25.3" height="2.29" fill="#e6adb5"/>
<rect x="566.2" y="94.92" width="25.3" height="2.29" fill="#f7f6f8"/>
<rect x="566.2" y="96.85" width="25.3" height="2.29" fill="#e5edf9"/>
<rect x="566.2" y="98.79" width="25.3" height="2.29" fill="#f4e2e5"/>
<rect x="566.2" y="100.72" width="25.3" height="2.29" fill="#e1eaf9"/>
<rect x="566.2" y="102.66" width="25.3" height="2.29" fill="#f7f6f8"/>
<rect x="566.2" y="104.59" width="25.3" height="2.29" fill="#ebf0f8"/>
<rect x="566.2" y="106.53" width="25.3" height="2.29" fill="#f6edf0"/>
<rect x="566.2" y="108.47" width="25.3" height="2.29" fill="#f7f6f8"/>
<rect x="566.2" y="110.40" width="25.3" height="2.29" fill="#e3ebf9"/>
<rect x="566.2" y="112.34" width="25.3" height="2.29" fill="#f7f6f8"/>
<rect x="566.2" y="114.27" width="25.3" height="2.29" fill="#ecf0f8"/>
<rect x="566.2" y="116.21" width="25.3" height="2.29" fill="#d1e1f8"/>
<rect x="566.2" y="118.14" width="25.3" height="2.29" fill="#eabdc3"/>
<rect x="566.2" y="120.08" width="25.3" height="2.29" fill="#d7e4f8"/>
<rect x="566.2" y="122.02" width="25.3" height="2.29" fill="#e2ebf9"/>
<rect x="566.2" y="123.95" width="25.3" height="2.29" fill="#ecf0f8"/>
<rect x="566.2" y="125.89" width="25.3" height="2.29" fill="#dae7f9"/>
<rect x="566.2" y="127.82" width="25.3" height="2.29" fill="#ccdef7"/>
<rect x="566.2" y="129.76" width="25.3" height="2.29" fill="#e8b6bc"/>
<rect x="566.2" y="131.69" width="25.3" height="2.29" fill="#e6edf9"/>
<rect x="566.2" y="133.63" width="25.3" height="2.29" fill="#e1eaf9"/>
<rect x="566.2" y="135.56" width="25.3" height="2.29" fill="#e6edf9"/>
<rect x="566.2" y="137.50" width="25.3" height="2.29" fill="#e4ecf9"/>
<rect x="566.2" y="139.44" width="25.3" height="2.29" fill="#e9b9bf"/>
<rect x="566.2" y="141.37" width="25.3" height="2.29" fill="#e7b2b9"/>
<rect x="566.2" y="143.31" width="25.3" height="2.29" fill="#e7b2b9"/>
<rect x="566.2" y="145.24" width="25.3" height="2.29" fill="#f7f4f6"/>
<rect x="566.2" y="147.18" width="25.3" height="2.29" fill="#df98a0"/>
<rect x="566.2" y="149.11" width="25.3" height="2.29" fill="#dd919a"/>
<rect x="566.2" y="151.05" width="25.3" height="2.29" fill="#d5e4f8"/>
<rect x="566.2" y="152.98" width="25.3" height="2.29" fill="#d4e3f8"/>
<rect x="566.2" y="154.92" width="25.3" height="2.29" fill="#c4d8f6"/>
<rect x="566.2" y="156.86" width="25.3" height="2.29" fill="#d4e3f8"/>
<rect x="566.2" y="158.79" width="25.3" height="2.29" fill="#cedff7"/>
<rect x="566.2" y="160.73" width="25.3" height="2.29" fill="#cadcf7"/>
<rect x="566.2" y="162.66" width="25.3" height="2.29" fill="#e0eaf9"/>
<rect x="566.2" y="164.60" width="25.3" height="2.29" fill="#ecf0f8"/>
<rect x="566.2" y="166.53" width="25.3" height="2.29" fill="#f2d8dc"/>
<rect x="566.2" y="168.47" width="25.3" height="2.29" fill="#f7f6f8"/>
<rect x="566.2" y="170.41" width="25.3" height="2.29" fill="#f0d0d5"/>
<rect x="566.2" y="172.34" width="25.3" height="2.29" fill="#dee9f9"/>
<rect x="566.2" y="174.28" width="25.3" height="2.29" fill="#d4e3f8"/>
<rect x="566.2" y="176.21" width="25.3" height="2.29" fill="#cddef7"/>
<rect x="566.2" y="178.15" width="25.3" height="2.29" fill="#c6daf6"/>
<rect x="566.2" y="180.08" width="25.3" height="2.29" fill="#c7daf7"/>
<rect x="566.2" y="182.02" width="25.3" height="2.29" fill="#c6daf6"/>
<rect x="566.2" y="183.95" width="25.3" height="2.29" fill="#cddef7"/>
<rect x="566.2" y="185.89" width="25.3" height="2.29" fill="#f5f5f8"/>
<rect x="566.2" y="187.83" width="25.3" height="2.29" fill="#f6f0f3"/>
<rect x="566.2" y="189.76" width="25.3" height="2.29" fill="#d8e5f8"/>
<rect x="566.2" y="191.70" width="25.3" height="2.29" fill="#e5edf9"/>
<rect x="566.2" y="193.63" width="25.3" height="2.29" fill="#d9e6f9"/>
<rect x="566.2" y="195.57" width="25.3" height="2.29" fill="#f6f5f8"/>
<rect x="566.2" y="197.50" width="25.3" height="2.29" fill="#f1f3f8"/>
<rect x="566.2" y="199.44" width="25.3" height="2.29" fill="#f7f6f8"/>
<rect x="566.2" y="201.37" width="25.3" height="2.29" fill="#e7eef9"/>
<rect x="566.2" y="203.31" width="25.3" height="2.29" fill="#d5e4f8"/>
<rect x="566.2" y="205.25" width="25.3" height="2.29" fill="#d9e6f9"/>
<rect x="566.2" y="207.18" width="25.3" height="2.29" fill="#da8790"/>
<rect x="566.2" y="209.12" width="25.3" height="2.29" fill="#f3dbdf"/>
<rect x="566.2" y="211.05" width="25.3" height="2.29" fill="#edc5ca"/>
<rect x="566.2" y="212.99" width="25.3" height="2.29" fill="#bf333f"/>
<rect x="566.2" y="214.92" width="25.3" height="2.29" fill="#f1d1d6"/>
<rect x="566.2" y="216.86" width="25.3" height="2.29" fill="#f3dce0"/>
<rect x="566.2" y="218.79" width="25.3" height="2.29" fill="#f3dade"/>
<rect x="566.2" y="220.73" width="25.3" height="2.29" fill="#f3dfe3"/>
<rect x="566.2" y="222.67" width="25.3" height="2.29" fill="#f6edef"/>
<rect x="566.2" y="224.60" width="25.3" height="2.29" fill="#f4f4f8"/>
<rect x="566.2" y="226.54" width="25.3" height="2.29" fill="#d67c85"/>
<rect x="566.2" y="228.47" width="25.3" height="2.29" fill="#f6eff2"/>
<rect x="566.2" y="230.41" width="25.3" height="2.29" fill="#f5eaed"/>
<rect x="566.2" y="232.34" width="25.3" height="2.29" fill="#f5ecef"/>
<rect x="566.2" y="234.28" width="25.3" height="2.29" fill="#f4e0e3"/>
<rect x="566.2" y="236.22" width="25.3" height="2.29" fill="#f7f6f8"/>
<rect x="566.2" y="238.15" width="25.3" height="2.29" fill="#f5e7ea"/>
<rect x="566.2" y="240.09" width="25.3" height="2.29" fill="#f6f0f2"/>
<rect x="566.2" y="242.02" width="25.3" height="2.29" fill="#e8eef9"/>
<rect x="566.2" y="243.96" width="25.3" height="2.29" fill="#f7f5f7"/>
<rect x="566.2" y="245.89" width="25.3" height="2.29" fill="#f4e3e6"/>
<rect x="566.2" y="247.83" width="25.3" height="2.29" fill="#eef1f8"/>
<rect x="566.2" y="249.76" width="25.3" height="2.29" fill="#ebf0f8"/>
<rect x="591.2" y="23.30" width="25.3" height="2.29" fill="#e3a4ac"/>
<rect x="591.2" y="25.24" width="25.3" height="2.29" fill="#cedff7"/>
<rect x="591.2" y="27.17" width="25.3" height="2.29" fill="#c9dcf7"/>
<rect x="591.2" y="29.11" width="25.3" height="2.29" fill="#e4a9b0"/>
<rect x="591.2" y="31.04" width="25.3" height="2.29" fill="#e5edf9"/>
<rect x="591.2" y="32.98" width="25.3" height="2.29" fill="#d1e1f8"/>
<rect x="591.2" y="34.91" width="25.3" height="2.29" fill="#f7f6f8"/>
<rect x="591.2" y="36.85" width="25.3" height="2.29" fill="#ebf0f8"/>
<rect x="591.2" y="38.78" width="25.3" height="2.29" fill="#c9dbf7"/>
<rect x="591.2" y="40.72" width="25.3" height="2.29" fill="#f3dfe2"/>
<rect x="591.2" y="42.66" width="25.3" height="2.29" fill="#f6f5f8"/>
<rect x="591.2" y="44.59" width="25.3" height="2.29" fill="#eaeff8"/>
<rect x="591.2" y="46.53" width="25.3" height="2.29" fill="#dfe9f9"/>
<rect x="591.2" y="48.46" width="25.3" height="2.29" fill="#d5e4f8"/>
<rect x="591.2" y="50.40" width="25.3" height="2.29" fill="#d6e4f8"/>
<rect x="591.2" y="52.33" width="25.3" height="2.29" fill="#e2ebf9"/>
<rect x="591.2" y="54.27" width="25.3" height="2.29" fill="#e19da5"/>
<rect x="591.2" y="56.21" width="25.3" height="2.29" fill="#e9eff9"/>
<rect x="591.2" y="58.14" width="25.3" height="2.29" fill="#dbe7f9"/>
<rect x="591.2" y="60.08" width="25.3" height="2.29" fill="#f7f6f8"/>
<rect x="591.2" y="62.01" width="25.3" height="2.29" fill="#f6f5f8"/>
<rect x="591.2" y="63.95" width="25.3" height="2.29" fill="#e5aab2"/>
<rect x="591.2" y="65.88" width="25.3" height="2.29" fill="#eaeff8"/>
<rect x="591.2" y="67.82" width="25.3" height="2.29" fill="#e7edf9"/>
<rect x="591.2" y="69.75" width="25.3" height="2.29" fill="#bdd4f5"/>
<rect x="591.2" y="71.69" width="25.3" height="2.29" fill="#f6f5f8"/>
<rect x="591.2" y="73.63" width="25.3" height="2.29" fill="#bdd4f5"/>
<rect x="591.2" y="75.56" width="25.3" height="2.29" fill="#f7f6f8"/>
<rect x="591.2" y="77.50" width="25.3" height="2.29" fill="#bdd4f5"/>
<rect x="591.2" y="79.43" width="25.3" height="2.29" fill="#f6f5f8"/>
<rect x="591.2" y="81.37" width="25.3" height="2.29" fill="#d2e1f8"/>
<rect x="591.2" y="83.30" width="25.3" height="2.29" fill="#d5e3f8"/>
<rect x="591.2" y="85.24" width="25.3" height="2.29" fill="#b3cdf4"/>
<rect x="591.2" y="87.17" width="25.3" height="2.29" fill="#dae7f9"/>
<rect x="591.2" y="89.11" width="25.3" height="2.29" fill="#c1d6f6"/>
<rect x="591.2" y="91.05" width="25.3" height="2.29" fill="#b9d1f5"/>
<rect x="591.2" y="92.98" width="25.3" height="2.29" fill="#d0e0f8"/>
<rect x="591.2" y="94.92" width="25.3" height="2.29" fill="#f6eef0"/>
<rect x="591.2" y="96.85" width="25.3" height="2.29" fill="#d9e6f9"/>
<rect x="591.2" y="98.79" width="25.3" height="2.29" fill="#dfe9f9"/>
<rect x="591.2" y="100.72" width="25.3" height="2.29" fill="#d2e1f8"/>
<rect x="591.2" y="102.66" width="25.3" height="2.29" fill="#d6e4f8"/>
<rect x="591.2" y="104.59" width="25.3" height="2.29" fill="#dee9f9"/>
<rect x="591.2" y="106.53" width="25.3" height="2.29" fill="#e0eaf9"/>
<rect x="591.2" y="108.47" width="25.3" height="2.29" fill="#dde8f9"/>
<rect x="591.2" y="110.40" width="25.3" height="2.29" fill="#e3ebf9"/>
<rect x="591.2" y="112.34" width="25.3" height="2.29" fill="#f2f3f8"/>
<rect x="591.2" y="114.27" width="25.3" height="2.29" fill="#e4ecf9"/>
<rect x="591.2" y="116.21" width="25.3" height="2.29" fill="#d5e3f8"/>
<rect x="591.2" y="118.14" width="25.3" height="2.29" fill="#dee9f9"/>
<rect x="591.2" y="120.08" width="25.3" height="2.29" fill="#c4d8f6"/>
<rect x="591.2" y="122.02" width="25.3" height="2.29" fill="#c3d8f6"/>
<rect x="591.2" y="123.95" width="25.3" height="2.29" fill="#d4e3f8"/>
<rect x="591.2" y="125.89" width="25.3" height="2.29" fill="#cddef7"/>
<rect x="591.2" y="127.82" width="25.3" height="2.29" fill="#cedff7"/>
<rect x="591.2" y="129.76" width="25.3" height="2.29" fill="#ccdef7"/>
<rect x="591.2" y="131.69" width="25.3" height="2.29" fill="#e9eff9"/>
<rect x="591.2" y="133.63" width="25.3" height="2.29" fill="#f7f6f8"/>
<rect x="591.2" y="135.56" width="25.3" height="2.29" fill="#ccdef7"/>
<rect x="591.2" y="137.50" width="25.3" height="2.29" fill="#ccdef7"/>
<rect x="591.2" y="139.44" width="25.3" height="2.29" fill="#c6daf6"/>
<rect x="591.2" y="141.37" width="25.3" height="2.29" fill="#e4ecf9"/>
<rect x="591.2" y="143.31" width="25.3" height="2.29" fill="#f7f5f7"/>
<rect x="591.2" y="145.24" width="25.3" height="2.29" fill="#c6daf6"/>
<rect x="591.2" y="147.18" width="25.3" height="2.29" fill="#cfdff7"/>
<rect x="591.2" y="149.11" width="25.3" height="2.29" fill="#d7e4f8"/>
<rect x="591.2" y="151.05" width="25.3" height="2.29" fill="#e4ecf9"/>
<rect x="591.2" y="152.98" width="25.3" height="2.29" fill="#e2ebf9"/>
<rect x="591.2" y="154.92" width="25.3" height="2.29" fill="#dde8f9"/>
<rect x="591.2" y="156.86" width="25.3" height="2.29" fill="#f5e8eb"/>
<rect x="591.2" y="158.79" width="25.3" height="2.29" fill="#d3e2f8"/>
<rect x="591.2" y="160.73" width="25.3" height="2.29" fill="#e3a4ac"/>
<rect x="591.2" y="162.66" width="25.3" height="2.29" fill="#d8e6f9"/>
<rect x="591.2" y="164.60" width="25.3" height="2.29" fill="#e3a4ac"/>
<rect x="591.2" y="166.53" width="25.3" height="2.29" fill="#e8eef9"/>
<rect x="591.2" y="168.47" width="25.3" height="2.29" fill="#e6edf9"/>
<rect x="591.2" y="170.41" width="25.3" height="2.29" fill="#f5f5f8"/>
<rect x="591.2" y="172.34" width="25.3" height="2.29" fill="#f7f6f8"/>
<rect x="591.2" y="174.28" width="25.3" height="2.29" fill="#d1e1f8"/>
<rect x="591.2" y="176.21" width="25.3" height="2.29" fill="#f1f3f8"/>
<rect x="591.2" y="178.15" width="25.3" height="2.29" fill="#e6afb6"/>
<rect x="591.2" y="180.08" width="25.3" height="2.29" fill="#ccddf7"/>
<rect x="591.2" y="182.02" width="25.3" height="2.29" fill="#d8e5f9"/>
<rect x="591.2" y="183.95" width="25.3" height="2.29" fill="#e8eef9"/>
<rect x="591.2" y="185.89" width="25.3" height="2.29" fill="#f7f6f8"/>
<rect x="591.2" y="187.83" width="25.3" height="2.29" fill="#c6daf6"/>
<rect x="591.2" y="189.76" width="25.3" height="2.29" fill="#f5ecee"/>
<rect x="591.2" y="191.70" width="25.3" height="2.29" fill="#f3f4f8"/>
<rect x="591.2" y="193.63" width="25.3" height="2.29" fill="#efcdd1"/>
<rect x="591.2" y="195.57" width="25.3" height="2.29" fill="#f6f2f5"/>
<rect x="591.2" y="197.50" width="25.3" height="2.29" fill="#edc5ca"/>
<rect x="591.2" y="199.44" width="25.3" height="2.29" fill="#f1d2d7"/>
<rect x="591.2" y="201.37" width="25.3" height="2.29" fill="#d9e6f9"/>
<rect x="591.2" y="203.31" width="25.3" height="2.29" fill="#f4e1e4"/>
<rect x="591.2" y="205.25" width="25.3" height="2.29" fill="#d77f88"/>
<rect x="591.2" y="207.18" width="25.3" height="2.29" fill="#f7f6f8"/>
<rect x="591.2" y="209.12" width="25.3" height="2.29" fill="#d8818a"/>
<rect x="591.2" y="211.05" width="25.3" height="2.29" fill="#f0d0d4"/>
<rect x="591.2" y="212.99" width="25.3" height="2.29" fill="#d67b84"/>
<rect x="591.2" y="214.92" width="25.3" height="2.29" fill="#e19da6"/>
<rect x="591.2" y="216.86" width="25.3" height="2.29" fill="#ecc4c9"/>
<rect x="591.2" y="218.79" width="25.3" height="2.29" fill="#ca535e"/>
<rect x="591.2" y="220.73" width="25.3" height="2.29" fill="#e3a4ac"/>
<rect x="591.2" y="222.67" width="25.3" height="2.29" fill="#d9e6f9"/>
<rect x="591.2" y="224.60" width="25.3" height="2.29" fill="#d9e6f9"/>
<rect x="591.2" y="226.54" width="25.3" height="2.29" fill="#f3dce0"/>
<rect x="591.2" y="228.47" width="25.3" height="2.29" fill="#f6eff2"/>
<rect x="591.2" y="230.41" width="25.3" height="2.29" fill="#eec9ce"/>
<rect x="591.2" y="232.34" width="25.3" height="2.29" fill="#d78089"/>
<rect x="591.2" y="234.28" width="25.3" height="2.29" fill="#f7f5f7"/>
<rect x="591.2" y="236.22" width="25.3" height="2.29" fill="#f1d4d8"/>
<rect x="591.2" y="238.15" width="25.3" height="2.29" fill="#f5e9ec"/>
<rect x="591.2" y="240.09" width="25.3" height="2.29" fill="#d4757f"/>
<rect x="591.2" y="242.02" width="25.3" height="2.29" fill="#f3dde1"/>
<rect x="591.2" y="243.96" width="25.3" height="2.29" fill="#f2d6da"/>
<rect x="591.2" y="245.89" width="25.3" height="2.29" fill="#e19da5"/>
<rect x="591.2" y="247.83" width="25.3" height="2.29" fill="#e8b4bb"/>
<rect x="591.2" y="249.76" width="25.3" height="2.29" fill="#efcdd1"/>
<rect x="616.3" y="23.30" width="25.3" height="2.29" fill="#cedff7"/>
<rect x="616.3" y="25.24" width="25.3" height="2.29" fill="#cadcf7"/>
<rect x="616.3" y="27.17" width="25.3" height="2.29" fill="#c9dcf7"/>
<rect x="616.3" y="29.11" width="25.3" height="2.29" fill="#e8eef9"/>
<rect x="616.3" y="31.04" width="25.3" height="2.29" fill="#e0eaf9"/>
<rect x="616.3" y="32.98" width="25.3" height="2.29" fill="#f4e3e7"/>
<rect x="616.3" y="34.91" width="25.3" height="2.29" fill="#d8e5f9"/>
<rect x="616.3" y="36.85" width="25.3" height="2.29" fill="#d3e2f8"/>
<rect x="616.3" y="38.78" width="25.3" height="2.29" fill="#d5e3f8"/>
<rect x="616.3" y="40.72" width="25.3" height="2.29" fill="#c6daf6"/>
<rect x="616.3" y="42.66" width="25.3" height="2.29" fill="#e8eef9"/>
<rect x="616.3" y="44.59" width="25.3" height="2.29" fill="#e4ecf9"/>
<rect x="616.3" y="46.53" width="25.3" height="2.29" fill="#c9dbf7"/>
<rect x="616.3" y="48.46" width="25.3" height="2.29" fill="#edf1f8"/>
<rect x="616.3" y="50.40" width="25.3" height="2.29" fill="#bdd4f5"/>
<rect x="616.3" y="52.33" width="25.3" height="2.29" fill="#d3e2f8"/>
<rect x="616.3" y="54.27" width="25.3" height="2.29" fill="#cddef7"/>
<rect x="616.3" y="56.21" width="25.3" height="2.29" fill="#d3e2f8"/>
<rect x="616.3" y="58.14" width="25.3" height="2.29" fill="#d7e4f8"/>
<rect x="616.3" y="60.08" width="25.3" height="2.29" fill="#f1f3f8"/>
<rect x="616.3" y="62.01" width="25.3" height="2.29" fill="#dce8f9"/>
<rect x="616.3" y="63.95" width="25.3" height="2.29" fill="#e2ebf9"/>
<rect x="616.3" y="65.88" width="25.3" height="2.29" fill="#e0eaf9"/>
<rect x="616.3" y="67.82" width="25.3" height="2.29" fill="#e1eaf9"/>
<rect x="616.3" y="69.75" width="25.3" height="2.29" fill="#d8e6f9"/>
<rect x="616.3" y="71.69" width="25.3" height="2.29" fill="#dbe8f9"/>
<rect x="616.3" y="73.63" width="25.3" height="2.29" fill="#f0f2f8"/>
<rect x="616.3" y="75.56" width="25.3" height="2.29" fill="#d1e1f8"/>
<rect x="616.3" y="77.50" width="25.3" height="2.29" fill="#cddef7"/>
<rect x="616.3" y="79.43" width="25.3" height="2.29" fill="#d9e6f9"/>
<rect x="616.3" y="81.37" width="25.3" height="2.29" fill="#d1e1f8"/>
<rect x="616.3" y="83.30" width="25.3" height="2.29" fill="#dce8f9"/>
<rect x="616.3" y="85.24" width="25.3" height="2.29" fill="#d5e3f8"/>
<rect x="616.3" y="87.17" width="25.3" height="2.29" fill="#f7f6f8"/>
<rect x="616.3" y="89.11" width="25.3" height="2.29" fill="#e6edf9"/>
<rect x="616.3" y="91.05" width="25.3" height="2.29" fill="#bdd4f5"/>
<rect x="616.3" y="92.98" width="25.3" height="2.29" fill="#caddf7"/>
<rect x="616.3" y="94.92" width="25.3" height="2.29" fill="#c7dbf7"/>
<rect x="616.3" y="96.85" width="25.3" height="2.29" fill="#c8dbf7"/>
<rect x="616.3" y="98.79" width="25.3" height="2.29" fill="#d2e2f8"/>
<rect x="616.3" y="100.72" width="25.3" height="2.29" fill="#c9dcf7"/>
<rect x="616.3" y="102.66" width="25.3" height="2.29" fill="#d5e3f8"/>
<rect x="616.3" y="104.59" width="25.3" height="2.29" fill="#edf1f8"/>
<rect x="616.3" y="106.53" width="25.3" height="2.29" fill="#f7f6f8"/>
<rect x="616.3" y="108.47" width="25.3" height="2.29" fill="#e3ebf9"/>
<rect x="616.3" y="110.40" width="25.3" height="2.29" fill="#edf1f8"/>
<rect x="616.3" y="112.34" width="25.3" height="2.29" fill="#e4ecf9"/>
<rect x="616.3" y="114.27" width="25.3" height="2.29" fill="#dde9f9"/>
<rect x="616.3" y="116.21" width="25.3" height="2.29" fill="#c6daf6"/>
<rect x="616.3" y="118.14" width="25.3" height="2.29" fill="#cfdff7"/>
<rect x="616.3" y="120.08" width="25.3" height="2.29" fill="#f7f6f8"/>
<rect x="616.3" y="122.02" width="25.3" height="2.29" fill="#eff2f8"/>
<rect x="616.3" y="123.95" width="25.3" height="2.29" fill="#efcbd0"/>
<rect x="616.3" y="125.89" width="25.3" height="2.29" fill="#dce8f9"/>
<rect x="616.3" y="127.82" width="25.3" height="2.29" fill="#dae7f9"/>
<rect x="616.3" y="129.76" width="25.3" height="2.29" fill="#f7f6f8"/>
<rect x="616.3" y="131.69" width="25.3" height="2.29" fill="#d6e4f8"/>
<rect x="616.3" y="133.63" width="25.3" height="2.29" fill="#dbe7f9"/>
<rect x="616.3" y="135.56" width="25.3" height="2.29" fill="#ccddf7"/>
<rect x="616.3" y="137.50" width="25.3" height="2.29" fill="#d6e4f8"/>
<rect x="616.3" y="139.44" width="25.3" height="2.29" fill="#d0e0f8"/>
<rect x="616.3" y="141.37" width="25.3" height="2.29" fill="#dae6f9"/>
<rect x="616.3" y="143.31" width="25.3" height="2.29" fill="#c5d9f6"/>
<rect x="616.3" y="145.24" width="25.3" height="2.29" fill="#cfdff7"/>
<rect x="616.3" y="147.18" width="25.3" height="2.29" fill="#f7f6f8"/>
<rect x="616.3" y="149.11" width="25.3" height="2.29" fill="#d6e4f8"/>
<rect x="616.3" y="151.05" width="25.3" height="2.29" fill="#dee9f9"/>
<rect x="616.3" y="152.98" width="25.3" height="2.29" fill="#eaeff8"/>
<rect x="616.3" y="154.92" width="25.3" height="2.29" fill="#d4e3f8"/>
<rect x="616.3" y="156.86" width="25.3" height="2.29" fill="#ccdef7"/>
<rect x="616.3" y="158.79" width="25.3" height="2.29" fill="#f1f3f8"/>
<rect x="616.3" y="160.73" width="25.3" height="2.29" fill="#f2f3f8"/>
<rect x="616.3" y="162.66" width="25.3" height="2.29" fill="#ecf0f8"/>
<rect x="616.3" y="164.60" width="25.3" height="2.29" fill="#e3ecf9"/>
<rect x="616.3" y="166.53" width="25.3" height="2.29" fill="#cfe0f8"/>
<rect x="616.3" y="168.47" width="25.3" height="2.29" fill="#f6eff2"/>
<rect x="616.3" y="170.41" width="25.3" height="2.29" fill="#f2f3f8"/>
<rect x="616.3" y="172.34" width="25.3" height="2.29" fill="#ebf0f8"/>
<rect x="616.3" y="174.28" width="25.3" height="2.29" fill="#d2e1f8"/>
<rect x="616.3" y="176.21" width="25.3" height="2.29" fill="#edf1f8"/>
<rect x="616.3" y="178.15" width="25.3" height="2.29" fill="#e8eef9"/>
<rect x="616.3" y="180.08" width="25.3" height="2.29" fill="#db8c95"/>
<rect x="616.3" y="182.02" width="25.3" height="2.29" fill="#dde8f9"/>
<rect x="616.3" y="183.95" width="25.3" height="2.29" fill="#f7f6f8"/>
<rect x="616.3" y="185.89" width="25.3" height="2.29" fill="#f6eff2"/>
<rect x="616.3" y="187.83" width="25.3" height="2.29" fill="#f3f4f8"/>
<rect x="616.3" y="189.76" width="25.3" height="2.29" fill="#f5ebee"/>
<rect x="616.3" y="191.70" width="25.3" height="2.29" fill="#f5e9ec"/>
<rect x="616.3" y="193.63" width="25.3" height="2.29" fill="#f6f2f4"/>
<rect x="616.3" y="195.57" width="25.3" height="2.29" fill="#f7f6f8"/>
<rect x="616.3" y="197.50" width="25.3" height="2.29" fill="#edc7cc"/>
<rect x="616.3" y="199.44" width="25.3" height="2.29" fill="#f2d7db"/>
<rect x="616.3" y="201.37" width="25.3" height="2.29" fill="#e8eef9"/>
<rect x="616.3" y="203.31" width="25.3" height="2.29" fill="#f3dde0"/>
<rect x="616.3" y="205.25" width="25.3" height="2.29" fill="#f3dbdf"/>
<rect x="616.3" y="207.18" width="25.3" height="2.29" fill="#de939c"/>
<rect x="616.3" y="209.12" width="25.3" height="2.29" fill="#edc7cc"/>
<rect x="616.3" y="211.05" width="25.3" height="2.29" fill="#d3717b"/>
<rect x="616.3" y="212.99" width="25.3" height="2.29" fill="#f1d2d6"/>
<rect x="616.3" y="214.92" width="25.3" height="2.29" fill="#f6eff1"/>
<rect x="616.3" y="216.86" width="25.3" height="2.29" fill="#d9e6f9"/>
<rect x="616.3" y="218.79" width="25.3" height="2.29" fill="#f7f6f8"/>
<rect x="616.3" y="220.73" width="25.3" height="2.29" fill="#f3f4f8"/>
<rect x="616.3" y="222.67" width="25.3" height="2.29" fill="#f4e0e4"/>
<rect x="616.3" y="224.60" width="25.3" height="2.29" fill="#eff2f8"/>
<rect x="616.3" y="226.54" width="25.3" height="2.29" fill="#f6eef0"/>
<rect x="616.3" y="228.47" width="25.3" height="2.29" fill="#eabdc3"/>
<rect x="616.3" y="230.41" width="25.3" height="2.29" fill="#d26d77"/>
<rect x="616.3" y="232.34" width="25.3" height="2.29" fill="#f2d8dc"/>
<rect x="616.3" y="234.28" width="25.3" height="2.29" fill="#d9e6f9"/>
<rect x="616.3" y="236.22" width="25.3" height="2.29" fill="#f2d7db"/>
<rect x="616.3" y="238.15" width="25.3" height="2.29" fill="#e5abb3"/>
<rect x="616.3" y="240.09" width="25.3" height="2.29" fill="#f0f2f8"/>
<rect x="616.3" y="242.02" width="25.3" height="2.29" fill="#f2f3f8"/>
<rect x="616.3" y="243.96" width="25.3" height="2.29" fill="#f3dfe3"/>
<rect x="616.3" y="245.89" width="25.3" height="2.29" fill="#f5ebee"/>
<rect x="616.3" y="247.83" width="25.3" height="2.29" fill="#f1f3f8"/>
<rect x="616.3" y="249.76" width="25.3" height="2.29" fill="#f5f5f8"/>
<rect x="641.3" y="23.30" width="25.3" height="2.29" fill="#d7e5f8"/>
<rect x="641.3" y="25.24" width="25.3" height="2.29" fill="#d5e3f8"/>
<rect x="641.3" y="27.17" width="25.3" height="2.29" fill="#d4e3f8"/>
<rect x="641.3" y="29.11" width="25.3" height="2.29" fill="#cfe0f8"/>
<rect x="641.3" y="31.04" width="25.3" height="2.29" fill="#d2e1f8"/>
<rect x="641.3" y="32.98" width="25.3" height="2.29" fill="#dde8f9"/>
<rect x="641.3" y="34.91" width="25.3" height="2.29" fill="#cfe0f8"/>
<rect x="641.3" y="36.85" width="25.3" height="2.29" fill="#cbddf7"/>
<rect x="641.3" y="38.78" width="25.3" height="2.29" fill="#d4e3f8"/>
<rect x="641.3" y="40.72" width="25.3" height="2.29" fill="#ccdef7"/>
<rect x="641.3" y="42.66" width="25.3" height="2.29" fill="#d5e4f8"/>
<rect x="641.3" y="44.59" width="25.3" height="2.29" fill="#cfdff7"/>
<rect x="641.3" y="46.53" width="25.3" height="2.29" fill="#e9b8bf"/>
<rect x="641.3" y="48.46" width="25.3" height="2.29" fill="#e1ebf9"/>
<rect x="641.3" y="50.40" width="25.3" height="2.29" fill="#ecc1c7"/>
<rect x="641.3" y="52.33" width="25.3" height="2.29" fill="#d4e3f8"/>
<rect x="641.3" y="54.27" width="25.3" height="2.29" fill="#dbe8f9"/>
<rect x="641.3" y="56.21" width="25.3" height="2.29" fill="#e2ebf9"/>
<rect x="641.3" y="58.14" width="25.3" height="2.29" fill="#df979f"/>
<rect x="641.3" y="60.08" width="25.3" height="2.29" fill="#d8e5f9"/>
<rect x="641.3" y="62.01" width="25.3" height="2.29" fill="#dbe7f9"/>
<rect x="641.3" y="63.95" width="25.3" height="2.29" fill="#f2f3f8"/>
<rect x="641.3" y="65.88" width="25.3" height="2.29" fill="#d6e4f8"/>
<rect x="641.3" y="67.82" width="25.3" height="2.29" fill="#d1e1f8"/>
<rect x="641.3" y="69.75" width="25.3" height="2.29" fill="#bed4f5"/>
<rect x="641.3" y="71.69" width="25.3" height="2.29" fill="#cddef7"/>
<rect x="641.3" y="73.63" width="25.3" height="2.29" fill="#e4ecf9"/>
<rect x="641.3" y="75.56" width="25.3" height="2.29" fill="#d2e1f8"/>
<rect x="641.3" y="77.50" width="25.3" height="2.29" fill="#cadcf7"/>
<rect x="641.3" y="79.43" width="25.3" height="2.29" fill="#d0e0f8"/>
<rect x="641.3" y="81.37" width="25.3" height="2.29" fill="#d2e2f8"/>
<rect x="641.3" y="83.30" width="25.3" height="2.29" fill="#e3ecf9"/>
<rect x="641.3" y="85.24" width="25.3" height="2.29" fill="#f6f1f4"/>
<rect x="641.3" y="87.17" width="25.3" height="2.29" fill="#e7eef9"/>
<rect x="641.3" y="89.11" width="25.3" height="2.29" fill="#f6f0f3"/>
<rect x="641.3" y="91.05" width="25.3" height="2.29" fill="#efced2"/>
<rect x="641.3" y="92.98" width="25.3" height="2.29" fill="#dd939b"/>
<rect x="641.3" y="94.92" width="25.3" height="2.29" fill="#d3e2f8"/>
<rect x="641.3" y="96.85" width="25.3" height="2.29" fill="#f7f6f8"/>
<rect x="641.3" y="98.79" width="25.3" height="2.29" fill="#edc5ca"/>
<rect x="641.3" y="100.72" width="25.3" height="2.29" fill="#ebf0f8"/>
<rect x="641.3" y="102.66" width="25.3" height="2.29" fill="#f7f3f5"/>
<rect x="641.3" y="104.59" width="25.3" height="2.29" fill="#da8790"/>
<rect x="641.3" y="106.53" width="25.3" height="2.29" fill="#cfe0f8"/>
<rect x="641.3" y="108.47" width="25.3" height="2.29" fill="#eabcc2"/>
<rect x="641.3" y="110.40" width="25.3" height="2.29" fill="#e0eaf9"/>
<rect x="641.3" y="112.34" width="25.3" height="2.29" fill="#e7b3ba"/>
<rect x="641.3" y="114.27" width="25.3" height="2.29" fill="#c6daf6"/>
<rect x="641.3" y="116.21" width="25.3" height="2.29" fill="#ebf0f8"/>
<rect x="641.3" y="118.14" width="25.3" height="2.29" fill="#c6daf6"/>
<rect x="641.3" y="120.08" width="25.3" height="2.29" fill="#d1e1f8"/>
<rect x="641.3" y="122.02" width="25.3" height="2.29" fill="#f2f3f8"/>
<rect x="641.3" y="123.95" width="25.3" height="2.29" fill="#e3ebf9"/>
<rect x="641.3" y="125.89" width="25.3" height="2.29" fill="#d7e5f8"/>
<rect x="641.3" y="127.82" width="25.3" height="2.29" fill="#f4f4f8"/>
<rect x="641.3" y="129.76" width="25.3" height="2.29" fill="#f3f4f8"/>
<rect x="641.3" y="131.69" width="25.3" height="2.29" fill="#f6eef1"/>
<rect x="641.3" y="133.63" width="25.3" height="2.29" fill="#ebf0f8"/>
<rect x="641.3" y="135.56" width="25.3" height="2.29" fill="#ecf0f8"/>
<rect x="641.3" y="137.50" width="25.3" height="2.29" fill="#edf1f8"/>
<rect x="641.3" y="139.44" width="25.3" height="2.29" fill="#e7eef9"/>
<rect x="641.3" y="141.37" width="25.3" height="2.29" fill="#edf1f8"/>
<rect x="641.3" y="143.31" width="25.3" height="2.29" fill="#e5edf9"/>
<rect x="641.3" y="145.24" width="25.3" height="2.29" fill="#d0e0f8"/>
<rect x="641.3" y="147.18" width="25.3" height="2.29" fill="#dfeaf9"/>
<rect x="641.3" y="149.11" width="25.3" height="2.29" fill="#f7f5f7"/>
<rect x="641.3" y="151.05" width="25.3" height="2.29" fill="#f6f6f8"/>
<rect x="641.3" y="152.98" width="25.3" height="2.29" fill="#de969e"/>
<rect x="641.3" y="154.92" width="25.3" height="2.29" fill="#ebbec4"/>
<rect x="641.3" y="156.86" width="25.3" height="2.29" fill="#f5ecee"/>
<rect x="641.3" y="158.79" width="25.3" height="2.29" fill="#e4a8b0"/>
<rect x="641.3" y="160.73" width="25.3" height="2.29" fill="#f3f4f8"/>
<rect x="641.3" y="162.66" width="25.3" height="2.29" fill="#edf1f8"/>
<rect x="641.3" y="164.60" width="25.3" height="2.29" fill="#edf1f8"/>
<rect x="641.3" y="166.53" width="25.3" height="2.29" fill="#e6edf9"/>
<rect x="641.3" y="168.47" width="25.3" height="2.29" fill="#f0f2f8"/>
<rect x="641.3" y="170.41" width="25.3" height="2.29" fill="#e5edf9"/>
<rect x="641.3" y="172.34" width="25.3" height="2.29" fill="#dbe7f9"/>
<rect x="641.3" y="174.28" width="25.3" height="2.29" fill="#f2f3f8"/>
<rect x="641.3" y="176.21" width="25.3" height="2.29" fill="#f3f4f8"/>
<rect x="641.3" y="178.15" width="25.3" height="2.29" fill="#f5eaed"/>
<rect x="641.3" y="180.08" width="25.3" height="2.29" fill="#f7f3f5"/>
<rect x="641.3" y="182.02" width="25.3" height="2.29" fill="#e4ecf9"/>
<rect x="641.3" y="183.95" width="25.3" height="2.29" fill="#ebf0f8"/>
<rect x="641.3" y="185.89" width="25.3" height="2.29" fill="#f2d8dc"/>
<rect x="641.3" y="187.83" width="25.3" height="2.29" fill="#da8891"/>
<rect x="641.3" y="189.76" width="25.3" height="2.29" fill="#f4e5e8"/>
<rect x="641.3" y="191.70" width="25.3" height="2.29" fill="#d77f89"/>
<rect x="641.3" y="193.63" width="25.3" height="2.29" fill="#cedff7"/>
<rect x="641.3" y="195.57" width="25.3" height="2.29" fill="#e0eaf9"/>
<rect x="641.3" y="197.50" width="25.3" height="2.29" fill="#d7e4f8"/>
<rect x="641.3" y="199.44" width="25.3" height="2.29" fill="#f1f3f8"/>
<rect x="641.3" y="201.37" width="25.3" height="2.29" fill="#f1f3f8"/>
<rect x="641.3" y="203.31" width="25.3" height="2.29" fill="#ccdef7"/>
<rect x="641.3" y="205.25" width="25.3" height="2.29" fill="#e3a4ac"/>
<rect x="641.3" y="207.18" width="25.3" height="2.29" fill="#dce8f9"/>
<rect x="641.3" y="209.12" width="25.3" height="2.29" fill="#dce8f9"/>
<rect x="641.3" y="211.05" width="25.3" height="2.29" fill="#ccdef7"/>
<rect x="641.3" y="212.99" width="25.3" height="2.29" fill="#f4e3e6"/>
<rect x="641.3" y="214.92" width="25.3" height="2.29" fill="#cadcf7"/>
<rect x="641.3" y="216.86" width="25.3" height="2.29" fill="#e1eaf9"/>
<rect x="641.3" y="218.79" width="25.3" height="2.29" fill="#d3e2f8"/>
<rect x="641.3" y="220.73" width="25.3" height="2.29" fill="#d3e2f8"/>
<rect x="641.3" y="222.67" width="25.3" height="2.29" fill="#eaeff8"/>
<rect x="641.3" y="224.60" width="25.3" height="2.29" fill="#f6eff2"/>
<rect x="641.3" y="226.54" width="25.3" height="2.29" fill="#f7f6f8"/>
<rect x="641.3" y="228.47" width="25.3" height="2.29" fill="#e6afb6"/>
<rect x="641.3" y="230.41" width="25.3" height="2.29" fill="#e1ebf9"/>
<rect x="641.3" y="232.34" width="25.3" height="2.29" fill="#e3ecf9"/>
<rect x="641.3" y="234.28" width="25.3" height="2.29" fill="#e3ecf9"/>
<rect x="641.3" y="236.22" width="25.3" height="2.29" fill="#ccdef7"/>
<rect x="641.3" y="238.15" width="25.3" height="2.29" fill="#eff2f8"/>
<rect x="641.3" y="240.09" width="25.3" height="2.29" fill="#f6f6f8"/>
<rect x="641.3" y="242.02" width="25.3" height="2.29" fill="#efced2"/>
<rect x="641.3" y="243.96" width="25.3" height="2.29" fill="#edf1f8"/>
<rect x="641.3" y="245.89" width="25.3" height="2.29" fill="#f6eef1"/>
<rect x="641.3" y="247.83" width="25.3" height="2.29" fill="#f6f2f4"/>
<rect x="641.3" y="249.76" width="25.3" height="2.29" fill="#d9e6f9"/>
<rect x="666.3" y="23.30" width="25.3" height="2.29" fill="#ebbfc5"/>
<rect x="666.3" y="25.24" width="25.3" height="2.29" fill="#e4ecf9"/>
<rect x="666.3" y="27.17" width="25.3" height="2.29" fill="#f7f6f8"/>
<rect x="666.3" y="29.11" width="25.3" height="2.29" fill="#e9b9bf"/>
<rect x="666.3" y="31.04" width="25.3" height="2.29" fill="#f7f5f7"/>
<rect x="666.3" y="32.98" width="25.3" height="2.29" fill="#f4f4f8"/>
<rect x="666.3" y="34.91" width="25.3" height="2.29" fill="#f7f6f8"/>
<rect x="666.3" y="36.85" width="25.3" height="2.29" fill="#eff2f8"/>
<rect x="666.3" y="38.78" width="25.3" height="2.29" fill="#f6f1f3"/>
<rect x="666.3" y="40.72" width="25.3" height="2.29" fill="#e9b7be"/>
<rect x="666.3" y="42.66" width="25.3" height="2.29" fill="#eff2f8"/>
<rect x="666.3" y="44.59" width="25.3" height="2.29" fill="#f5eaec"/>
<rect x="666.3" y="46.53" width="25.3" height="2.29" fill="#f6f6f8"/>
<rect x="666.3" y="48.46" width="25.3" height="2.29" fill="#e2a2aa"/>
<rect x="666.3" y="50.40" width="25.3" height="2.29" fill="#f7f6f8"/>
<rect x="666.3" y="52.33" width="25.3" height="2.29" fill="#f3e0e3"/>
<rect x="666.3" y="54.27" width="25.3" height="2.29" fill="#eec8cd"/>
<rect x="666.3" y="56.21" width="25.3" height="2.29" fill="#f2d9dd"/>
<rect x="666.3" y="58.14" width="25.3" height="2.29" fill="#f6edef"/>
<rect x="666.3" y="60.08" width="25.3" height="2.29" fill="#eaeff8"/>
<rect x="666.3" y="62.01" width="25.3" height="2.29" fill="#f4e2e6"/>
<rect x="666.3" y="63.95" width="25.3" height="2.29" fill="#f5f5f8"/>
<rect x="666.3" y="65.88" width="25.3" height="2.29" fill="#e8eef9"/>
<rect x="666.3" y="67.82" width="25.3" height="2.29" fill="#f7f5f7"/>
<rect x="666.3" y="69.75" width="25.3" height="2.29" fill="#f1d4d8"/>
<rect x="666.3" y="71.69" width="25.3" height="2.29" fill="#f4e3e6"/>
<rect x="666.3" y="73.63" width="25.3" height="2.29" fill="#f4e1e5"/>
<rect x="666.3" y="75.56" width="25.3" height="2.29" fill="#f2d6da"/>
<rect x="666.3" y="77.50" width="25.3" height="2.29" fill="#f3dee2"/>
<rect x="666.3" y="79.43" width="25.3" height="2.29" fill="#db8a93"/>
<rect x="666.3" y="81.37" width="25.3" height="2.29" fill="#edc6cb"/>
<rect x="666.3" y="83.30" width="25.3" height="2.29" fill="#f5f5f8"/>
<rect x="666.3" y="85.24" width="25.3" height="2.29" fill="#d9858e"/>
<rect x="666.3" y="87.17" width="25.3" height="2.29" fill="#eef1f8"/>
<rect x="666.3" y="89.11" width="25.3" height="2.29" fill="#f6f1f4"/>
<rect x="666.3" y="91.05" width="25.3" height="2.29" fill="#f6f6f8"/>
<rect x="666.3" y="92.98" width="25.3" height="2.29" fill="#f3dbdf"/>
<rect x="666.3" y="94.92" width="25.3" height="2.29" fill="#f2d6da"/>
<rect x="666.3" y="96.85" width="25.3" height="2.29" fill="#f3f4f8"/>
<rect x="666.3" y="98.79" width="25.3" height="2.29" fill="#f5f5f8"/>
<rect x="666.3" y="100.72" width="25.3" height="2.29" fill="#f2d5d9"/>
<rect x="666.3" y="102.66" width="25.3" height="2.29" fill="#f5eaed"/>
<rect x="666.3" y="104.59" width="25.3" height="2.29" fill="#eabbc1"/>
<rect x="666.3" y="106.53" width="25.3" height="2.29" fill="#f7f5f7"/>
<rect x="666.3" y="108.47" width="25.3" height="2.29" fill="#f7f6f8"/>
<rect x="666.3" y="110.40" width="25.3" height="2.29" fill="#ecf0f8"/>
<rect x="666.3" y="112.34" width="25.3" height="2.29" fill="#d8e5f9"/>
<rect x="666.3" y="114.27" width="25.3" height="2.29" fill="#e7b2b8"/>
<rect x="666.3" y="116.21" width="25.3" height="2.29" fill="#d9e6f9"/>
<rect x="666.3" y="118.14" width="25.3" height="2.29" fill="#d9e6f9"/>
<rect x="666.3" y="120.08" width="25.3" height="2.29" fill="#f2d6da"/>
<rect x="666.3" y="122.02" width="25.3" height="2.29" fill="#e5adb4"/>
<rect x="666.3" y="123.95" width="25.3" height="2.29" fill="#f7f6f8"/>
<rect x="666.3" y="125.89" width="25.3" height="2.29" fill="#ecc4c9"/>
<rect x="666.3" y="127.82" width="25.3" height="2.29" fill="#dbe7f9"/>
<rect x="666.3" y="129.76" width="25.3" height="2.29" fill="#e1eaf9"/>
<rect x="666.3" y="131.69" width="25.3" height="2.29" fill="#d3e2f8"/>
<rect x="666.3" y="133.63" width="25.3" height="2.29" fill="#e6edf9"/>
<rect x="666.3" y="135.56" width="25.3" height="2.29" fill="#f4e2e6"/>
<rect x="666.3" y="137.50" width="25.3" height="2.29" fill="#e0eaf9"/>
<rect x="666.3" y="139.44" width="25.3" height="2.29" fill="#f6f5f8"/>
<rect x="666.3" y="141.37" width="25.3" height="2.29" fill="#f7f6f8"/>
<rect x="666.3" y="143.31" width="25.3" height="2.29" fill="#f0f3f8"/>
<rect x="666.3" y="145.24" width="25.3" height="2.29" fill="#f4f4f8"/>
<rect x="666.3" y="147.18" width="25.3" height="2.29" fill="#d9e6f9"/>
<rect x="666.3" y="149.11" width="25.3" height="2.29" fill="#f7f6f8"/>
<rect x="666.3" y="151.05" width="25.3" height="2.29" fill="#f3dee1"/>
<rect x="666.3" y="152.98" width="25.3" height="2.29" fill="#e6b0b7"/>
<rect x="666.3" y="154.92" width="25.3" height="2.29" fill="#f4e5e8"/>
<rect x="666.3" y="156.86" width="25.3" height="2.29" fill="#f7f6f8"/>
<rect x="666.3" y="158.79" width="25.3" height="2.29" fill="#f1d4d8"/>
<rect x="666.3" y="160.73" width="25.3" height="2.29" fill="#efcdd2"/>
<rect x="666.3" y="162.66" width="25.3" height="2.29" fill="#d9e6f9"/>
<rect x="666.3" y="164.60" width="25.3" height="2.29" fill="#f5e7ea"/>
<rect x="666.3" y="166.53" width="25.3" height="2.29" fill="#d9e6f9"/>
<rect x="666.3" y="168.47" width="25.3" height="2.29" fill="#ebc1c6"/>
<rect x="666.3" y="170.41" width="25.3" height="2.29" fill="#f3dfe2"/>
<rect x="666.3" y="172.34" width="25.3" height="2.29" fill="#e3a5ad"/>
<rect x="666.3" y="174.28" width="25.3" height="2.29" fill="#ccdef7"/>
<rect x="666.3" y="176.21" width="25.3" height="2.29" fill="#ccdef7"/>
<rect x="666.3" y="178.15" width="25.3" height="2.29" fill="#d2e2f8"/>
<rect x="666.3" y="180.08" width="25.3" height="2.29" fill="#e3ebf9"/>
<rect x="666.3" y="182.02" width="25.3" height="2.29" fill="#f6f6f8"/>
<rect x="666.3" y="183.95" width="25.3" height="2.29" fill="#ccdef7"/>
<rect x="666.3" y="185.89" width="25.3" height="2.29" fill="#f5f5f8"/>
<rect x="666.3" y="187.83" width="25.3" height="2.29" fill="#e8eef9"/>
<rect x="666.3" y="189.76" width="25.3" height="2.29" fill="#e1a0a8"/>
<rect x="666.3" y="191.70" width="25.3" height="2.29" fill="#efcbd0"/>
<rect x="666.3" y="193.63" width="25.3" height="2.29" fill="#f7f6f8"/>
<rect x="666.3" y="195.57" width="25.3" height="2.29" fill="#f6f5f8"/>
<rect x="666.3" y="197.50" width="25.3" height="2.29" fill="#e6edf9"/>
<rect x="666.3" y="199.44" width="25.3" height="2.29" fill="#f7f6f8"/>
<rect x="666.3" y="201.37" width="25.3" height="2.29" fill="#ccdef7"/>
<rect x="666.3" y="203.31" width="25.3" height="2.29" fill="#f7f3f5"/>
<rect x="666.3" y="205.25" width="25.3" height="2.29" fill="#f5e7e9"/>
<rect x="666.3" y="207.18" width="25.3" height="2.29" fill="#f4e5e8"/>
<rect x="666.3" y="209.12" width="25.3" height="2.29" fill="#f5eaed"/>
<rect x="666.3" y="211.05" width="25.3" height="2.29" fill="#f6eff2"/>
<rect x="666.3" y="212.99" width="25.3" height="2.29" fill="#eabdc3"/>
<rect x="666.3" y="214.92" width="25.3" height="2.29" fill="#e09da5"/>
<rect x="666.3" y="216.86" width="25.3" height="2.29" fill="#f5e8eb"/>
<rect x="666.3" y="218.79" width="25.3" height="2.29" fill="#f4e0e4"/>
<rect x="666.3" y="220.73" width="25.3" height="2.29" fill="#e19ea6"/>
<rect x="666.3" y="222.67" width="25.3" height="2.29" fill="#eef2f8"/>
<rect x="666.3" y="224.60" width="25.3" height="2.29" fill="#eec9ce"/>
<rect x="666.3" y="226.54" width="25.3" height="2.29" fill="#f5e9ec"/>
<rect x="666.3" y="228.47" width="25.3" height="2.29" fill="#eff2f8"/>
<rect x="666.3" y="230.41" width="25.3" height="2.29" fill="#d9e6f9"/>
<rect x="666.3" y="232.34" width="25.3" height="2.29" fill="#eef2f8"/>
<rect x="666.3" y="234.28" width="25.3" height="2.29" fill="#ebf0f8"/>
<rect x="666.3" y="236.22" width="25.3" height="2.29" fill="#d9e6f9"/>
<rect x="666.3" y="238.15" width="25.3" height="2.29" fill="#f7f3f5"/>
<rect x="666.3" y="240.09" width="25.3" height="2.29" fill="#dee9f9"/>
<rect x="666.3" y="242.02" width="25.3" height="2.29" fill="#d8e6f9"/>
<rect x="666.3" y="243.96" width="25.3" height="2.29" fill="#d5e3f8"/>
<rect x="666.3" y="245.89" width="25.3" height="2.29" fill="#eff2f8"/>
<rect x="666.3" y="247.83" width="25.3" height="2.29" fill="#dae7f9"/>
<rect x="666.3" y="249.76" width="25.3" height="2.29" fill="#e5edf9"/>
<rect x="691.4" y="23.30" width="25.3" height="2.29" fill="#f7f6f8"/>
<rect x="691.4" y="25.24" width="25.3" height="2.29" fill="#dbe7f9"/>
<rect x="691.4" y="27.17" width="25.3" height="2.29" fill="#d8e6f9"/>
<rect x="691.4" y="29.11" width="25.3" height="2.29" fill="#d3e2f8"/>
<rect x="691.4" y="31.04" width="25.3" height="2.29" fill="#f0f2f8"/>
<rect x="691.4" y="32.98" width="25.3" height="2.29" fill="#eaeff8"/>
<rect x="691.4" y="34.91" width="25.3" height="2.29" fill="#d9e6f9"/>
<rect x="691.4" y="36.85" width="25.3" height="2.29" fill="#ebf0f8"/>
<rect x="691.4" y="38.78" width="25.3" height="2.29" fill="#f2f3f8"/>
<rect x="691.4" y="40.72" width="25.3" height="2.29" fill="#f1d3d7"/>
<rect x="691.4" y="42.66" width="25.3" height="2.29" fill="#ebf0f8"/>
<rect x="691.4" y="44.59" width="25.3" height="2.29" fill="#e8b7bd"/>
<rect x="691.4" y="46.53" width="25.3" height="2.29" fill="#e1a0a8"/>
<rect x="691.4" y="48.46" width="25.3" height="2.29" fill="#e7b2b8"/>
<rect x="691.4" y="50.40" width="25.3" height="2.29" fill="#e9bac0"/>
<rect x="691.4" y="52.33" width="25.3" height="2.29" fill="#d4737d"/>
<rect x="691.4" y="54.27" width="25.3" height="2.29" fill="#ecc2c8"/>
<rect x="691.4" y="56.21" width="25.3" height="2.29" fill="#d9868f"/>
<rect x="691.4" y="58.14" width="25.3" height="2.29" fill="#f7f6f8"/>
<rect x="691.4" y="60.08" width="25.3" height="2.29" fill="#e4a9b0"/>
<rect x="691.4" y="62.01" width="25.3" height="2.29" fill="#e6aeb5"/>
<rect x="691.4" y="63.95" width="25.3" height="2.29" fill="#f7f5f7"/>
<rect x="691.4" y="65.88" width="25.3" height="2.29" fill="#d3e2f8"/>
<rect x="691.4" y="67.82" width="25.3" height="2.29" fill="#eabdc3"/>
<rect x="691.4" y="69.75" width="25.3" height="2.29" fill="#f6edf0"/>
<rect x="691.4" y="71.69" width="25.3" height="2.29" fill="#f3dadd"/>
<rect x="691.4" y="73.63" width="25.3" height="2.29" fill="#f5ebee"/>
<rect x="691.4" y="75.56" width="25.3" height="2.29" fill="#f6eef0"/>
<rect x="691.4" y="77.50" width="25.3" height="2.29" fill="#f4e2e5"/>
<rect x="691.4" y="79.43" width="25.3" height="2.29" fill="#f6f2f4"/>
<rect x="691.4" y="81.37" width="25.3" height="2.29" fill="#e6afb6"/>
<rect x="691.4" y="83.30" width="25.3" height="2.29" fill="#dae7f9"/>
<rect x="691.4" y="85.24" width="25.3" height="2.29" fill="#f6f6f8"/>
<rect x="691.4" y="87.17" width="25.3" height="2.29" fill="#e19ea6"/>
<rect x="691.4" y="89.11" width="25.3" height="2.29" fill="#ebc0c6"/>
<rect x="691.4" y="91.05" width="25.3" height="2.29" fill="#f6edf0"/>
<rect x="691.4" y="92.98" width="25.3" height="2.29" fill="#d9e6f9"/>
<rect x="691.4" y="94.92" width="25.3" height="2.29" fill="#f7f6f8"/>
<rect x="691.4" y="96.85" width="25.3" height="2.29" fill="#f0cfd4"/>
<rect x="691.4" y="98.79" width="25.3" height="2.29" fill="#da8891"/>
<rect x="691.4" y="100.72" width="25.3" height="2.29" fill="#f5e9ec"/>
<rect x="691.4" y="102.66" width="25.3" height="2.29" fill="#f2d9dd"/>
<rect x="691.4" y="104.59" width="25.3" height="2.29" fill="#edc4ca"/>
<rect x="691.4" y="106.53" width="25.3" height="2.29" fill="#dc8d96"/>
<rect x="691.4" y="108.47" width="25.3" height="2.29" fill="#f2d5d9"/>
<rect x="691.4" y="110.40" width="25.3" height="2.29" fill="#f6eef1"/>
<rect x="691.4" y="112.34" width="25.3" height="2.29" fill="#db8a93"/>
<rect x="691.4" y="114.27" width="25.3" height="2.29" fill="#f2d7db"/>
<rect x="691.4" y="116.21" width="25.3" height="2.29" fill="#e0eaf9"/>
<rect x="691.4" y="118.14" width="25.3" height="2.29" fill="#f6eff1"/>
<rect x="691.4" y="120.08" width="25.3" height="2.29" fill="#e0eaf9"/>
<rect x="691.4" y="122.02" width="25.3" height="2.29" fill="#e8b4bb"/>
<rect x="691.4" y="123.95" width="25.3" height="2.29" fill="#f3dde1"/>
<rect x="691.4" y="125.89" width="25.3" height="2.29" fill="#f4f4f8"/>
<rect x="691.4" y="127.82" width="25.3" height="2.29" fill="#d9e6f9"/>
<rect x="691.4" y="129.76" width="25.3" height="2.29" fill="#edf1f8"/>
<rect x="691.4" y="131.69" width="25.3" height="2.29" fill="#f6f1f3"/>
<rect x="691.4" y="133.63" width="25.3" height="2.29" fill="#f6f0f3"/>
<rect x="691.4" y="135.56" width="25.3" height="2.29" fill="#f2f3f8"/>
<rect x="691.4" y="137.50" width="25.3" height="2.29" fill="#d9e6f9"/>
<rect x="691.4" y="139.44" width="25.3" height="2.29" fill="#f5e6e9"/>
<rect x="691.4" y="141.37" width="25.3" height="2.29" fill="#f4e5e8"/>
<rect x="691.4" y="143.31" width="25.3" height="2.29" fill="#eecacf"/>
<rect x="691.4" y="145.24" width="25.3" height="2.29" fill="#f4e4e7"/>
<rect x="691.4" y="147.18" width="25.3" height="2.29" fill="#f5e7ea"/>
<rect x="691.4" y="149.11" width="25.3" height="2.29" fill="#f5e9ec"/>
<rect x="691.4" y="151.05" width="25.3" height="2.29" fill="#f7f3f5"/>
<rect x="691.4" y="152.98" width="25.3" height="2.29" fill="#ebf0f8"/>
<rect x="691.4" y="154.92" width="25.3" height="2.29" fill="#eabdc3"/>
<rect x="691.4" y="156.86" width="25.3" height="2.29" fill="#dae6f9"/>
<rect x="691.4" y="158.79" width="25.3" height="2.29" fill="#ccdef7"/>
<rect x="691.4" y="160.73" width="25.3" height="2.29" fill="#dde9f9"/>
<rect x="691.4" y="162.66" width="25.3" height="2.29" fill="#efced2"/>
<rect x="691.4" y="164.60" width="25.3" height="2.29" fill="#f3dee1"/>
<rect x="691.4" y="166.53" width="25.3" height="2.29" fill="#cc5a65"/>
<rect x="691.4" y="168.47" width="25.3" height="2.29" fill="#e6aeb5"/>
<rect x="691.4" y="170.41" width="25.3" height="2.29" fill="#f7f6f8"/>
<rect x="691.4" y="172.34" width="25.3" height="2.29" fill="#f6f1f3"/>
<rect x="691.4" y="174.28" width="25.3" height="2.29" fill="#e0eaf9"/>
<rect x="691.4" y="176.21" width="25.3" height="2.29" fill="#f4e3e6"/>
<rect x="691.4" y="178.15" width="25.3" height="2.29" fill="#eaeff8"/>
<rect x="691.4" y="180.08" width="25.3" height="2.29" fill="#f6eef1"/>
<rect x="691.4" y="182.02" width="25.3" height="2.29" fill="#f6f1f4"/>
<rect x="691.4" y="183.95" width="25.3" height="2.29" fill="#f4e5e8"/>
<rect x="691.4" y="185.89" width="25.3" height="2.29" fill="#e1eaf9"/>
<rect x="691.4" y="187.83" width="25.3" height="2.29" fill="#ecf0f8"/>
<rect x="691.4" y="189.76" width="25.3" height="2.29" fill="#edf1f8"/>
<rect x="691.4" y="191.70" width="25.3" height="2.29" fill="#f7f4f6"/>
<rect x="691.4" y="193.63" width="25.3" height="2.29" fill="#e6edf9"/>
<rect x="691.4" y="195.57" width="25.3" height="2.29" fill="#e2ebf9"/>
<rect x="691.4" y="197.50" width="25.3" height="2.29" fill="#ccdef7"/>
<rect x="691.4" y="199.44" width="25.3" height="2.29" fill="#d3e2f8"/>
<rect x="691.4" y="201.37" width="25.3" height="2.29" fill="#e2a3ab"/>
<rect x="691.4" y="203.31" width="25.3" height="2.29" fill="#e6edf9"/>
<rect x="691.4" y="205.25" width="25.3" height="2.29" fill="#f0cfd3"/>
<rect x="691.4" y="207.18" width="25.3" height="2.29" fill="#e0eaf9"/>
<rect x="691.4" y="209.12" width="25.3" height="2.29" fill="#e9eff9"/>
<rect x="691.4" y="211.05" width="25.3" height="2.29" fill="#dfeaf9"/>
<rect x="691.4" y="212.99" width="25.3" height="2.29" fill="#dee9f9"/>
<rect x="691.4" y="214.92" width="25.3" height="2.29" fill="#f7f6f8"/>
<rect x="691.4" y="216.86" width="25.3" height="2.29" fill="#f7f6f8"/>
<rect x="691.4" y="218.79" width="25.3" height="2.29" fill="#e9eff9"/>
<rect x="691.4" y="220.73" width="25.3" height="2.29" fill="#dce8f9"/>
<rect x="691.4" y="222.67" width="25.3" height="2.29" fill="#dbe8f9"/>
<rect x="691.4" y="224.60" width="25.3" height="2.29" fill="#d2e1f8"/>
<rect x="691.4" y="226.54" width="25.3" height="2.29" fill="#dae7f9"/>
<rect x="691.4" y="228.47" width="25.3" height="2.29" fill="#e2a2aa"/>
<rect x="691.4" y="230.41" width="25.3" height="2.29" fill="#f2f3f8"/>
<rect x="691.4" y="232.34" width="25.3" height="2.29" fill="#f5e9ec"/>
<rect x="691.4" y="234.28" width="25.3" height="2.29" fill="#f6edef"/>
<rect x="691.4" y="236.22" width="25.3" height="2.29" fill="#f6f0f3"/>
<rect x="691.4" y="238.15" width="25.3" height="2.29" fill="#f2f4f8"/>
<rect x="691.4" y="240.09" width="25.3" height="2.29" fill="#e6aeb5"/>
<rect x="691.4" y="242.02" width="25.3" height="2.29" fill="#f3dade"/>
<rect x="691.4" y="243.96" width="25.3" height="2.29" fill="#b9d1f5"/>
<rect x="691.4" y="245.89" width="25.3" height="2.29" fill="#f7f6f8"/>
<rect x="691.4" y="247.83" width="25.3" height="2.29" fill="#cedff7"/>
<rect x="691.4" y="249.76" width="25.3" height="2.29" fill="#d7e5f8"/>
<rect x="716.4" y="23.30" width="26.5" height="2.29" fill="#e7b1b8"/>
<rect x="716.4" y="25.24" width="26.5" height="2.29" fill="#f3dfe2"/>
<rect x="716.4" y="27.17" width="26.5" height="2.29" fill="#e2ebf9"/>
<rect x="716.4" y="29.11" width="26.5" height="2.29" fill="#edf1f8"/>
<rect x="716.4" y="31.04" width="26.5" height="2.29" fill="#e6edf9"/>
<rect x="716.4" y="32.98" width="26.5" height="2.29" fill="#ebbec4"/>
<rect x="716.4" y="34.91" width="26.5" height="2.29" fill="#f6eef0"/>
<rect x="716.4" y="36.85" width="26.5" height="2.29" fill="#f2d7db"/>
<rect x="716.4" y="38.78" width="26.5" height="2.29" fill="#ebf0f8"/>
<rect x="716.4" y="40.72" width="26.5" height="2.29" fill="#f2f4f8"/>
<rect x="716.4" y="42.66" width="26.5" height="2.29" fill="#e6aeb5"/>
<rect x="716.4" y="44.59" width="26.5" height="2.29" fill="#f6eff1"/>
<rect x="716.4" y="46.53" width="26.5" height="2.29" fill="#e4a8af"/>
<rect x="716.4" y="48.46" width="26.5" height="2.29" fill="#ebbec4"/>
<rect x="716.4" y="50.40" width="26.5" height="2.29" fill="#f1d2d6"/>
<rect x="716.4" y="52.33" width="26.5" height="2.29" fill="#ebbfc4"/>
<rect x="716.4" y="54.27" width="26.5" height="2.29" fill="#d77f88"/>
<rect x="716.4" y="56.21" width="26.5" height="2.29" fill="#eecacf"/>
<rect x="716.4" y="58.14" width="26.5" height="2.29" fill="#d2e2f8"/>
<rect x="716.4" y="60.08" width="26.5" height="2.29" fill="#f7f4f6"/>
<rect x="716.4" y="62.01" width="26.5" height="2.29" fill="#e4ecf9"/>
<rect x="716.4" y="63.95" width="26.5" height="2.29" fill="#f5f5f8"/>
<rect x="716.4" y="65.88" width="26.5" height="2.29" fill="#e0eaf9"/>
<rect x="716.4" y="67.82" width="26.5" height="2.29" fill="#e1ebf9"/>
<rect x="716.4" y="69.75" width="26.5" height="2.29" fill="#c9515c"/>
<rect x="716.4" y="71.69" width="26.5" height="2.29" fill="#e6afb6"/>
<rect x="716.4" y="73.63" width="26.5" height="2.29" fill="#eec8cd"/>
<rect x="716.4" y="75.56" width="26.5" height="2.29" fill="#f2d8dc"/>
<rect x="716.4" y="77.50" width="26.5" height="2.29" fill="#f7f6f8"/>
<rect x="716.4" y="79.43" width="26.5" height="2.29" fill="#f7f6f8"/>
<rect x="716.4" y="81.37" width="26.5" height="2.29" fill="#f2d7db"/>
<rect x="716.4" y="83.30" width="26.5" height="2.29" fill="#efcbd0"/>
<rect x="716.4" y="85.24" width="26.5" height="2.29" fill="#c23b47"/>
<rect x="716.4" y="87.17" width="26.5" height="2.29" fill="#f4e0e4"/>
<rect x="716.4" y="89.11" width="26.5" height="2.29" fill="#f4e2e5"/>
<rect x="716.4" y="91.05" width="26.5" height="2.29" fill="#d3727c"/>
<rect x="716.4" y="92.98" width="26.5" height="2.29" fill="#dce8f9"/>
<rect x="716.4" y="94.92" width="26.5" height="2.29" fill="#f2d4d9"/>
<rect x="716.4" y="96.85" width="26.5" height="2.29" fill="#f5f5f8"/>
<rect x="716.4" y="98.79" width="26.5" height="2.29" fill="#eef1f8"/>
<rect x="716.4" y="100.72" width="26.5" height="2.29" fill="#d9e6f9"/>
<rect x="716.4" y="102.66" width="26.5" height="2.29" fill="#f6eef0"/>
<rect x="716.4" y="104.59" width="26.5" height="2.29" fill="#f5eaec"/>
<rect x="716.4" y="106.53" width="26.5" height="2.29" fill="#f7f6f8"/>
<rect x="716.4" y="108.47" width="26.5" height="2.29" fill="#f0ced3"/>
<rect x="716.4" y="110.40" width="26.5" height="2.29" fill="#eecacf"/>
<rect x="716.4" y="112.34" width="26.5" height="2.29" fill="#f7f6f8"/>
<rect x="716.4" y="114.27" width="26.5" height="2.29" fill="#efccd1"/>
<rect x="716.4" y="116.21" width="26.5" height="2.29" fill="#e2ebf9"/>
<rect x="716.4" y="118.14" width="26.5" height="2.29" fill="#ebf0f8"/>
<rect x="716.4" y="120.08" width="26.5" height="2.29" fill="#e8eef9"/>
<rect x="716.4" y="122.02" width="26.5" height="2.29" fill="#f7f6f8"/>
<rect x="716.4" y="123.95" width="26.5" height="2.29" fill="#f6eef1"/>
<rect x="716.4" y="125.89" width="26.5" height="2.29" fill="#d9e6f9"/>
<rect x="716.4" y="127.82" width="26.5" height="2.29" fill="#cddef7"/>
<rect x="716.4" y="129.76" width="26.5" height="2.29" fill="#f0f2f8"/>
<rect x="716.4" y="131.69" width="26.5" height="2.29" fill="#e3a6ad"/>
<rect x="716.4" y="133.63" width="26.5" height="2.29" fill="#c6daf6"/>
<rect x="716.4" y="135.56" width="26.5" height="2.29" fill="#c6daf6"/>
<rect x="716.4" y="137.50" width="26.5" height="2.29" fill="#f7f6f8"/>
<rect x="716.4" y="139.44" width="26.5" height="2.29" fill="#cadcf7"/>
<rect x="716.4" y="141.37" width="26.5" height="2.29" fill="#d8e5f9"/>
<rect x="716.4" y="143.31" width="26.5" height="2.29" fill="#e6b0b7"/>
<rect x="716.4" y="145.24" width="26.5" height="2.29" fill="#e8eef9"/>
<rect x="716.4" y="147.18" width="26.5" height="2.29" fill="#dde9f9"/>
<rect x="716.4" y="149.11" width="26.5" height="2.29" fill="#d9e6f9"/>
<rect x="716.4" y="151.05" width="26.5" height="2.29" fill="#dce8f9"/>
<rect x="716.4" y="152.98" width="26.5" height="2.29" fill="#e9eff9"/>
<rect x="716.4" y="154.92" width="26.5" height="2.29" fill="#e4ecf9"/>
<rect x="716.4" y="156.86" width="26.5" height="2.29" fill="#f1f3f8"/>
<rect x="716.4" y="158.79" width="26.5" height="2.29" fill="#dfe9f9"/>
<rect x="716.4" y="160.73" width="26.5" height="2.29" fill="#dc8f98"/>
<rect x="716.4" y="162.66" width="26.5" height="2.29" fill="#dae7f9"/>
<rect x="716.4" y="164.60" width="26.5" height="2.29" fill="#f6f0f2"/>
<rect x="716.4" y="166.53" width="26.5" height="2.29" fill="#f7f6f8"/>
<rect x="716.4" y="168.47" width="26.5" height="2.29" fill="#f6f0f2"/>
<rect x="716.4" y="170.41" width="26.5" height="2.29" fill="#f3dade"/>
<rect x="716.4" y="172.34" width="26.5" height="2.29" fill="#f5e8eb"/>
<rect x="716.4" y="174.28" width="26.5" height="2.29" fill="#f7f6f8"/>
<rect x="716.4" y="176.21" width="26.5" height="2.29" fill="#eef2f8"/>
<rect x="716.4" y="178.15" width="26.5" height="2.29" fill="#e8eef9"/>
<rect x="716.4" y="180.08" width="26.5" height="2.29" fill="#f6eff2"/>
<rect x="716.4" y="182.02" width="26.5" height="2.29" fill="#f2f3f8"/>
<rect x="716.4" y="183.95" width="26.5" height="2.29" fill="#dee9f9"/>
<rect x="716.4" y="185.89" width="26.5" height="2.29" fill="#e3ebf9"/>
<rect x="716.4" y="187.83" width="26.5" height="2.29" fill="#dee9f9"/>
<rect x="716.4" y="189.76" width="26.5" height="2.29" fill="#e7eef9"/>
<rect x="716.4" y="191.70" width="26.5" height="2.29" fill="#e2ebf9"/>
<rect x="716.4" y="193.63" width="26.5" height="2.29" fill="#e6afb6"/>
<rect x="716.4" y="195.57" width="26.5" height="2.29" fill="#f4e5e8"/>
<rect x="716.4" y="197.50" width="26.5" height="2.29" fill="#f5ecef"/>
<rect x="716.4" y="199.44" width="26.5" height="2.29" fill="#f2d8dc"/>
<rect x="716.4" y="201.37" width="26.5" height="2.29" fill="#f4e4e7"/>
<rect x="716.4" y="203.31" width="26.5" height="2.29" fill="#ebbfc5"/>
<rect x="716.4" y="205.25" width="26.5" height="2.29" fill="#f6f2f4"/>
<rect x="716.4" y="207.18" width="26.5" height="2.29" fill="#f3dbde"/>
<rect x="716.4" y="209.12" width="26.5" height="2.29" fill="#f4e5e8"/>
<rect x="716.4" y="211.05" width="26.5" height="2.29" fill="#eff2f8"/>
<rect x="716.4" y="212.99" width="26.5" height="2.29" fill="#e2ebf9"/>
<rect x="716.4" y="214.92" width="26.5" height="2.29" fill="#f7f3f5"/>
<rect x="716.4" y="216.86" width="26.5" height="2.29" fill="#d8e5f9"/>
<rect x="716.4" y="218.79" width="26.5" height="2.29" fill="#e1ebf9"/>
<rect x="716.4" y="220.73" width="26.5" height="2.29" fill="#f2f4f8"/>
<rect x="716.4" y="222.67" width="26.5" height="2.29" fill="#d1e1f8"/>
<rect x="716.4" y="224.60" width="26.5" height="2.29" fill="#f7f6f8"/>
<rect x="716.4" y="226.54" width="26.5" height="2.29" fill="#ebbfc4"/>
<rect x="716.4" y="228.47" width="26.5" height="2.29" fill="#f3f4f8"/>
<rect x="716.4" y="230.41" width="26.5" height="2.29" fill="#dae6f9"/>
<rect x="716.4" y="232.34" width="26.5" height="2.29" fill="#f6eff1"/>
<rect x="716.4" y="234.28" width="26.5" height="2.29" fill="#f2f4f8"/>
<rect x="716.4" y="236.22" width="26.5" height="2.29" fill="#f6f2f5"/>
<rect x="716.4" y="238.15" width="26.5" height="2.29" fill="#d9e6f9"/>
<rect x="716.4" y="240.09" width="26.5" height="2.29" fill="#e1ebf9"/>
<rect x="716.4" y="242.02" width="26.5" height="2.29" fill="#dae7f9"/>
<rect x="716.4" y="243.96" width="26.5" height="2.29" fill="#e2ebf9"/>
<rect x="716.4" y="245.89" width="26.5" height="2.29" fill="#e7eef9"/>
<rect x="716.4" y="247.83" width="26.5" height="2.29" fill="#94b8f0"/>
<rect x="716.4" y="249.76" width="26.5" height="2.29" fill="#f7f6f8"/>
<rect x="75.85" y="412.80" width="20.20" height="48.20" fill="#8b8b8b" stroke="#2b2b2b" stroke-width="1.4"/>
<rect x="100.30" y="412.80" width="20.20" height="48.80" fill="#8b8b8b" stroke="#2b2b2b" stroke-width="1.4"/>
<rect x="124.75" y="412.80" width="20.20" height="48.80" fill="#8b8b8b" stroke="#2b2b2b" stroke-width="1.4"/>
<rect x="149.20" y="412.80" width="20.20" height="39.90" fill="#8b8b8b" stroke="#2b2b2b" stroke-width="1.4"/>
<rect x="173.65" y="412.80" width="20.20" height="48.20" fill="#8b8b8b" stroke="#2b2b2b" stroke-width="1.4"/>
<rect x="198.10" y="412.80" width="20.20" height="45.90" fill="#8b8b8b" stroke="#2b2b2b" stroke-width="1.4"/>
<rect x="222.55" y="412.80" width="20.20" height="19.10" fill="#8b8b8b" stroke="#2b2b2b" stroke-width="1.4"/>
<rect x="247.00" y="412.80" width="20.20" height="27.00" fill="#8b8b8b" stroke="#2b2b2b" stroke-width="1.4"/>
<rect x="271.45" y="412.80" width="20.20" height="18.60" fill="#8b8b8b" stroke="#2b2b2b" stroke-width="1.4"/>
<rect x="295.90" y="412.80" width="20.20" height="12.60" fill="#8b8b8b" stroke="#2b2b2b" stroke-width="1.4"/>
<rect x="320.35" y="412.80" width="20.20" height="10.60" fill="#8b8b8b" stroke="#2b2b2b" stroke-width="1.4"/>
<rect x="344.80" y="412.80" width="20.20" height="9.90" fill="#8b8b8b" stroke="#2b2b2b" stroke-width="1.4"/>
<rect x="369.25" y="395.00" width="20.20" height="16.60" fill="#8b8b8b" stroke="#2b2b2b" stroke-width="1.4"/>
<rect x="393.70" y="401.90" width="20.20" height="9.70" fill="#8b8b8b" stroke="#2b2b2b" stroke-width="1.4"/>
<rect x="418.15" y="399.70" width="20.20" height="11.90" fill="#8b8b8b" stroke="#2b2b2b" stroke-width="1.4"/>
<rect x="442.60" y="261.00" width="20.20" height="150.60" fill="#8b8b8b" stroke="#2b2b2b" stroke-width="1.4"/>
<rect x="467.05" y="254.30" width="20.20" height="157.30" fill="#8b8b8b" stroke="#2b2b2b" stroke-width="1.4"/>
<rect x="491.50" y="258.70" width="20.20" height="152.90" fill="#8b8b8b" stroke="#2b2b2b" stroke-width="1.4"/>
<rect x="515.95" y="412.80" width="20.20" height="22.30" fill="#8b8b8b" stroke="#2b2b2b" stroke-width="1.4"/>
<rect x="540.40" y="412.80" width="20.20" height="26.90" fill="#8b8b8b" stroke="#2b2b2b" stroke-width="1.4"/>
<rect x="564.85" y="412.80" width="20.20" height="18.10" fill="#8b8b8b" stroke="#2b2b2b" stroke-width="1.4"/>
<rect x="589.30" y="412.80" width="20.20" height="29.10" fill="#8b8b8b" stroke="#2b2b2b" stroke-width="1.4"/>
<rect x="613.75" y="412.80" width="20.20" height="27.20" fill="#8b8b8b" stroke="#2b2b2b" stroke-width="1.4"/>
<rect x="638.20" y="412.80" width="20.20" height="18.00" fill="#8b8b8b" stroke="#2b2b2b" stroke-width="1.4"/>
<rect x="662.65" y="406.80" width="20.20" height="4.80" fill="#8b8b8b" stroke="#2b2b2b" stroke-width="1.4"/>
<rect x="687.10" y="401.70" width="20.20" height="9.90" fill="#8b8b8b" stroke="#2b2b2b" stroke-width="1.4"/>
<rect x="711.55" y="408.30" width="20.20" height="3.30" fill="#8b8b8b" stroke="#2b2b2b" stroke-width="1.4"/>
<line x1="49" y1="260.4" x2="49" y2="443.8" stroke="#222" stroke-width="1.5"/>
<line x1="43.1" y1="261.10" x2="49.5" y2="261.10" stroke="#222" stroke-width="1.3"/>
<text transform="translate(35.9,261.10) scale(1.28,1) rotate(-90)" text-anchor="middle" font-size="8.7" fill="#111" stroke="#111" stroke-width="0.2">0.5</text>
<line x1="43.1" y1="291.43" x2="49.5" y2="291.43" stroke="#222" stroke-width="1.3"/>
<text transform="translate(35.9,291.43) scale(1.28,1) rotate(-90)" text-anchor="middle" font-size="8.7" fill="#111" stroke="#111" stroke-width="0.2">0.4</text>
<line x1="43.1" y1="321.76" x2="49.5" y2="321.76" stroke="#222" stroke-width="1.3"/>
<text transform="translate(35.9,321.76) scale(1.28,1) rotate(-90)" text-anchor="middle" font-size="8.7" fill="#111" stroke="#111" stroke-width="0.2">0.3</text>
<line x1="43.1" y1="352.09" x2="49.5" y2="352.09" stroke="#222" stroke-width="1.3"/>
<text transform="translate(35.9,352.09) scale(1.28,1) rotate(-90)" text-anchor="middle" font-size="8.7" fill="#111" stroke="#111" stroke-width="0.2">0.2</text>
<line x1="43.1" y1="382.42" x2="49.5" y2="382.42" stroke="#222" stroke-width="1.3"/>
<text transform="translate(35.9,382.42) scale(1.28,1) rotate(-90)" text-anchor="middle" font-size="8.7" fill="#111" stroke="#111" stroke-width="0.2">0.1</text>
<line x1="43.1" y1="412.75" x2="49.5" y2="412.75" stroke="#222" stroke-width="1.3"/>
<text transform="translate(35.9,412.75) scale(1.28,1) rotate(-90)" text-anchor="middle" font-size="8.7" fill="#111" stroke="#111" stroke-width="0.2">0.0</text>
<line x1="43.1" y1="443.08" x2="49.5" y2="443.08" stroke="#222" stroke-width="1.3"/>
<text transform="translate(35.9,443.08) scale(1.28,1) rotate(-90)" text-anchor="middle" font-size="8.7" fill="#111" stroke="#111" stroke-width="0.2">-0.1</text>
<text transform="translate(11,357.5) scale(1.38,1) rotate(-90)" text-anchor="middle" font-size="9.37" fill="#111" stroke="#111" stroke-width="0.25">eigengene expression</text>
<text transform="translate(111.9,490.4) scale(0.94,1)" text-anchor="middle" font-family="Liberation Serif" font-size="17.2" fill="#3a3a3a">YS1</text>
<text transform="translate(187,490.4) scale(0.94,1)" text-anchor="middle" font-family="Liberation Serif" font-size="17.2" fill="#3a3a3a">YS2</text>
<text transform="translate(260.5,490.4) scale(0.94,1)" text-anchor="middle" font-family="Liberation Serif" font-size="17.2" fill="#3a3a3a">YS3</text>
<text transform="translate(331.7,490.4) scale(0.94,1)" text-anchor="middle" font-family="Liberation Serif" font-size="17.2" fill="#3a3a3a">RS1</text>
<text transform="translate(403.8,490.4) scale(0.94,1)" text-anchor="middle" font-family="Liberation Serif" font-size="17.2" fill="#3a3a3a">RS2</text>
<text transform="translate(478.3,490.4) scale(0.94,1)" text-anchor="middle" font-family="Liberation Serif" font-size="17.2" fill="#3a3a3a">RS3</text>
<text transform="translate(551.5,490.4) scale(0.94,1)" text-anchor="middle" font-family="Liberation Serif" font-size="17.2" fill="#3a3a3a">PS1</text>
<text transform="translate(622.8,490.4) scale(0.94,1)" text-anchor="middle" font-family="Liberation Serif" font-size="17.2" fill="#3a3a3a">PS2</text>
<text transform="translate(698.2,490.4) scale(0.94,1)" text-anchor="middle" font-family="Liberation Serif" font-size="17.2" fill="#3a3a3a">PS3</text>
<rect x="55" y="519" width="354" height="209" fill="#8fa84f"/>
<rect x="408" y="519" width="329" height="184" fill="#62b39b"/>
<rect x="55" y="727" width="354" height="171" fill="#c27bc8"/>
<rect x="408" y="702" width="291" height="196" fill="#7f9be0"/>
<rect x="698" y="702" width="39" height="196" fill="#c68b6b"/>
<line x1="216.7" y1="519" x2="216.7" y2="727" stroke="#1a1a1a" stroke-width="1.2"/>
<line x1="55" y1="650.7" x2="216.7" y2="650.7" stroke="#1a1a1a" stroke-width="1.2"/>
<line x1="318.7" y1="519" x2="318.7" y2="640.7" stroke="#1a1a1a" stroke-width="1.2"/>
<line x1="216.7" y1="640.7" x2="408" y2="640.7" stroke="#1a1a1a" stroke-width="1.2"/>
<line x1="325.5" y1="640.7" x2="325.5" y2="727" stroke="#1a1a1a" stroke-width="1.2"/>
<line x1="696.5" y1="519" x2="696.5" y2="702" stroke="#1a1a1a" stroke-width="1.2"/>
<line x1="257.3" y1="727" x2="257.3" y2="898" stroke="#1a1a1a" stroke-width="1.2"/>
<line x1="55" y1="835.3" x2="257.3" y2="835.3" stroke="#1a1a1a" stroke-width="1.2"/>
<line x1="257.3" y1="809.3" x2="408" y2="809.3" stroke="#1a1a1a" stroke-width="1.2"/>
<line x1="336.7" y1="809.3" x2="336.7" y2="898" stroke="#1a1a1a" stroke-width="1.2"/>
<line x1="574.2" y1="702" x2="574.2" y2="898" stroke="#1a1a1a" stroke-width="1.2"/>
<line x1="408" y1="826.7" x2="574.2" y2="826.7" stroke="#1a1a1a" stroke-width="1.2"/>
<line x1="574.2" y1="787" x2="698" y2="787" stroke="#1a1a1a" stroke-width="1.2"/>
<line x1="574.2" y1="849" x2="698" y2="849" stroke="#1a1a1a" stroke-width="1.2"/>
<line x1="408.8" y1="518" x2="408.8" y2="899" stroke="#000" stroke-width="2.6"/>
<line x1="54" y1="727.3" x2="410" y2="727.3" stroke="#000" stroke-width="2.6"/>
<line x1="408" y1="702.3" x2="738" y2="702.3" stroke="#000" stroke-width="2.6"/>
<line x1="698.3" y1="701" x2="698.3" y2="899" stroke="#000" stroke-width="2.6"/>
<rect x="55.5" y="519.5" width="681" height="378.3" fill="none" stroke="#000" stroke-width="3"/>
<text transform="translate(136.20,588.43) scale(1.38,1)" text-anchor="middle" font-size="8.7" fill="#000" stroke="#000" stroke-width="0.22">response to UV−B</text>
<text transform="translate(135.80,692.43) scale(1.38,1)" text-anchor="middle" font-size="8.7" fill="#000" stroke="#000" stroke-width="0.22">response to karrikin</text>
<text transform="translate(267.90,577.13) scale(1.38,1)" text-anchor="middle" font-size="8.7" fill="#000" stroke="#000" stroke-width="0.22">response to</text>
<text transform="translate(267.50,590.13) scale(1.38,1)" text-anchor="middle" font-size="8.7" fill="#000" stroke="#000" stroke-width="0.22">starvation</text>
<text transform="translate(363.70,577.13) scale(1.38,1)" text-anchor="middle" font-size="8.7" fill="#000" stroke="#000" stroke-width="0.22">response to</text>
<text transform="translate(363.50,590.13) scale(1.38,1)" text-anchor="middle" font-size="8.7" fill="#000" stroke="#000" stroke-width="0.22">wounding</text>
<text transform="translate(270.80,674.13) scale(1.38,1)" text-anchor="middle" font-size="8.7" fill="#000" stroke="#000" stroke-width="0.22">response to</text>
<text transform="translate(271.00,687.43) scale(1.38,1)" text-anchor="middle" font-size="8.7" fill="#000" stroke="#000" stroke-width="0.22">extracellular</text>
<text transform="translate(271.00,700.83) scale(1.38,1)" text-anchor="middle" font-size="8.7" fill="#000" stroke="#000" stroke-width="0.22">stimulus</text>
<text transform="translate(367.00,680.83) scale(1.38,1)" text-anchor="middle" font-size="8.7" fill="#000" stroke="#000" stroke-width="0.22">response to</text>
<text transform="translate(367.00,694.13) scale(1.38,1)" text-anchor="middle" font-size="8.7" fill="#000" stroke="#000" stroke-width="0.22">oxidative stress</text>
<text transform="translate(156.70,784.83) scale(1.38,1)" text-anchor="middle" font-size="8.7" fill="#000" stroke="#000" stroke-width="0.22">phenylpropanoid biosynthetic process</text>
<text transform="translate(333.20,765.43) scale(1.38,1)" text-anchor="middle" font-size="8.7" fill="#000" stroke="#000" stroke-width="0.22">organic cyclic compound</text>
<text transform="translate(333.20,778.13) scale(1.38,1)" text-anchor="middle" font-size="8.7" fill="#000" stroke="#000" stroke-width="0.22">catabolic process</text>
<text transform="translate(156.50,863.83) scale(1.38,1)" text-anchor="middle" font-size="8.7" fill="#000" stroke="#000" stroke-width="0.22">aromatic compound</text>
<text transform="translate(156.50,876.83) scale(1.38,1)" text-anchor="middle" font-size="8.7" fill="#000" stroke="#000" stroke-width="0.22">catabolic process</text>
<text transform="translate(297.30,837.43) scale(1.38,1)" text-anchor="middle" font-size="8.7" fill="#000" stroke="#000" stroke-width="0.22">small</text>
<text transform="translate(297.30,850.83) scale(1.38,1)" text-anchor="middle" font-size="8.7" fill="#000" stroke="#000" stroke-width="0.22">molecule</text>
<text transform="translate(297.30,863.83) scale(1.38,1)" text-anchor="middle" font-size="8.7" fill="#000" stroke="#000" stroke-width="0.22">biosynthetic</text>
<text transform="translate(297.30,877.13) scale(1.38,1)" text-anchor="middle" font-size="8.7" fill="#000" stroke="#000" stroke-width="0.22">process</text>
<text transform="translate(491.50,767.83) scale(1.38,1)" text-anchor="middle" font-size="8.7" fill="#000" stroke="#000" stroke-width="0.22">secondary metabolic process</text>
<text transform="translate(491.50,865.83) scale(1.38,1)" text-anchor="middle" font-size="8.7" fill="#000" stroke="#000" stroke-width="0.22">pigment biosynthetic process</text>
<text transform="translate(636.00,741.93) scale(1.38,1)" text-anchor="middle" font-size="8.7" fill="#000" stroke="#000" stroke-width="0.22">phospholipid</text>
<text transform="translate(635.80,755.13) scale(1.38,1)" text-anchor="middle" font-size="8.7" fill="#000" stroke="#000" stroke-width="0.22">metabolic process</text>
<text transform="translate(636.00,821.93) scale(1.38,1)" text-anchor="middle" font-size="8.7" fill="#000" stroke="#000" stroke-width="0.22">lipid metabolic process</text>
<text transform="translate(636.00,870.73) scale(1.38,1)" text-anchor="middle" font-size="8.7" fill="#000" stroke="#000" stroke-width="0.22">organophosphate</text>
<text transform="translate(635.80,883.53) scale(1.38,1)" text-anchor="middle" font-size="8.7" fill="#000" stroke="#000" stroke-width="0.22">metabolic process</text>
<text transform="translate(373.00,841.57) scale(1.38,1)" text-anchor="middle" font-size="6.3" fill="#000" stroke="#000" stroke-width="0.16">monocarboxylic</text>
<text transform="translate(373.00,851.27) scale(1.38,1)" text-anchor="middle" font-size="6.3" fill="#000" stroke="#000" stroke-width="0.16">acid</text>
<text transform="translate(373.00,861.27) scale(1.38,1)" text-anchor="middle" font-size="6.3" fill="#000" stroke="#000" stroke-width="0.16">biosynthetic</text>
<text transform="translate(373.00,871.27) scale(1.38,1)" text-anchor="middle" font-size="6.3" fill="#000" stroke="#000" stroke-width="0.16">process</text>
<text transform="translate(716.00,601.84) scale(1.38,1)" text-anchor="middle" font-size="5.1" fill="#000" stroke="#000" stroke-width="0.13">organic</text>
<text transform="translate(716.00,609.14) scale(1.38,1)" text-anchor="middle" font-size="5.1" fill="#000" stroke="#000" stroke-width="0.13">substance</text>
<text transform="translate(716.00,616.14) scale(1.38,1)" text-anchor="middle" font-size="5.1" fill="#000" stroke="#000" stroke-width="0.13">biosynthetic</text>
<text transform="translate(716.00,623.34) scale(1.38,1)" text-anchor="middle" font-size="5.1" fill="#000" stroke="#000" stroke-width="0.13">process</text>
<rect x="132.3" y="616.3" width="225.4" height="26" fill="#cccccc" fill-opacity="0.55"/>
<text transform="translate(246.2,634.3) scale(1.253,1)" text-anchor="middle" font-size="20.1" font-weight="bold" fill="#111">response to UV−B</text>
<rect x="414" y="596.8" width="278" height="23.8" fill="#cccccc" fill-opacity="0.55"/>
<text transform="translate(554.6,614.5) scale(1.255,1)" text-anchor="middle" font-size="20" font-weight="bold" fill="#111">flavonoid biosynthesis</text>
<rect x="57" y="802.3" width="350" height="23.8" fill="#cccccc" fill-opacity="0.55"/>
<text transform="translate(232.4,821) scale(1.265,1)" text-anchor="middle" font-size="19.05" font-weight="bold" fill="#111">phenylpropanoid biosynthesis</text>
<rect x="414" y="788.3" width="278.5" height="25.7" fill="#cccccc" fill-opacity="0.55"/>
<text transform="translate(553.6,806.7) scale(1.275,1)" text-anchor="middle" font-size="20" font-weight="bold" fill="#111">secondary metabolism</text>
<rect x="698.5" y="797.8" width="37" height="6" fill="#cccccc" fill-opacity="0.55"/>
<text transform="translate(717.00,798.39) scale(1.38,1)" text-anchor="middle" font-size="3.85" fill="#000" stroke="#000" stroke-width="0.10">biosynthetic</text>
<text transform="translate(717.80,802.70) scale(1.27,1)" text-anchor="middle" font-size="5.0" font-weight="bold" fill="#000" stroke="#000" stroke-width="0.12">biosynthesis</text>
<text transform="translate(717.00,805.99) scale(1.38,1)" text-anchor="middle" font-size="3.85" fill="#000" stroke="#000" stroke-width="0.10">process</text>
</svg>
</body></html>
